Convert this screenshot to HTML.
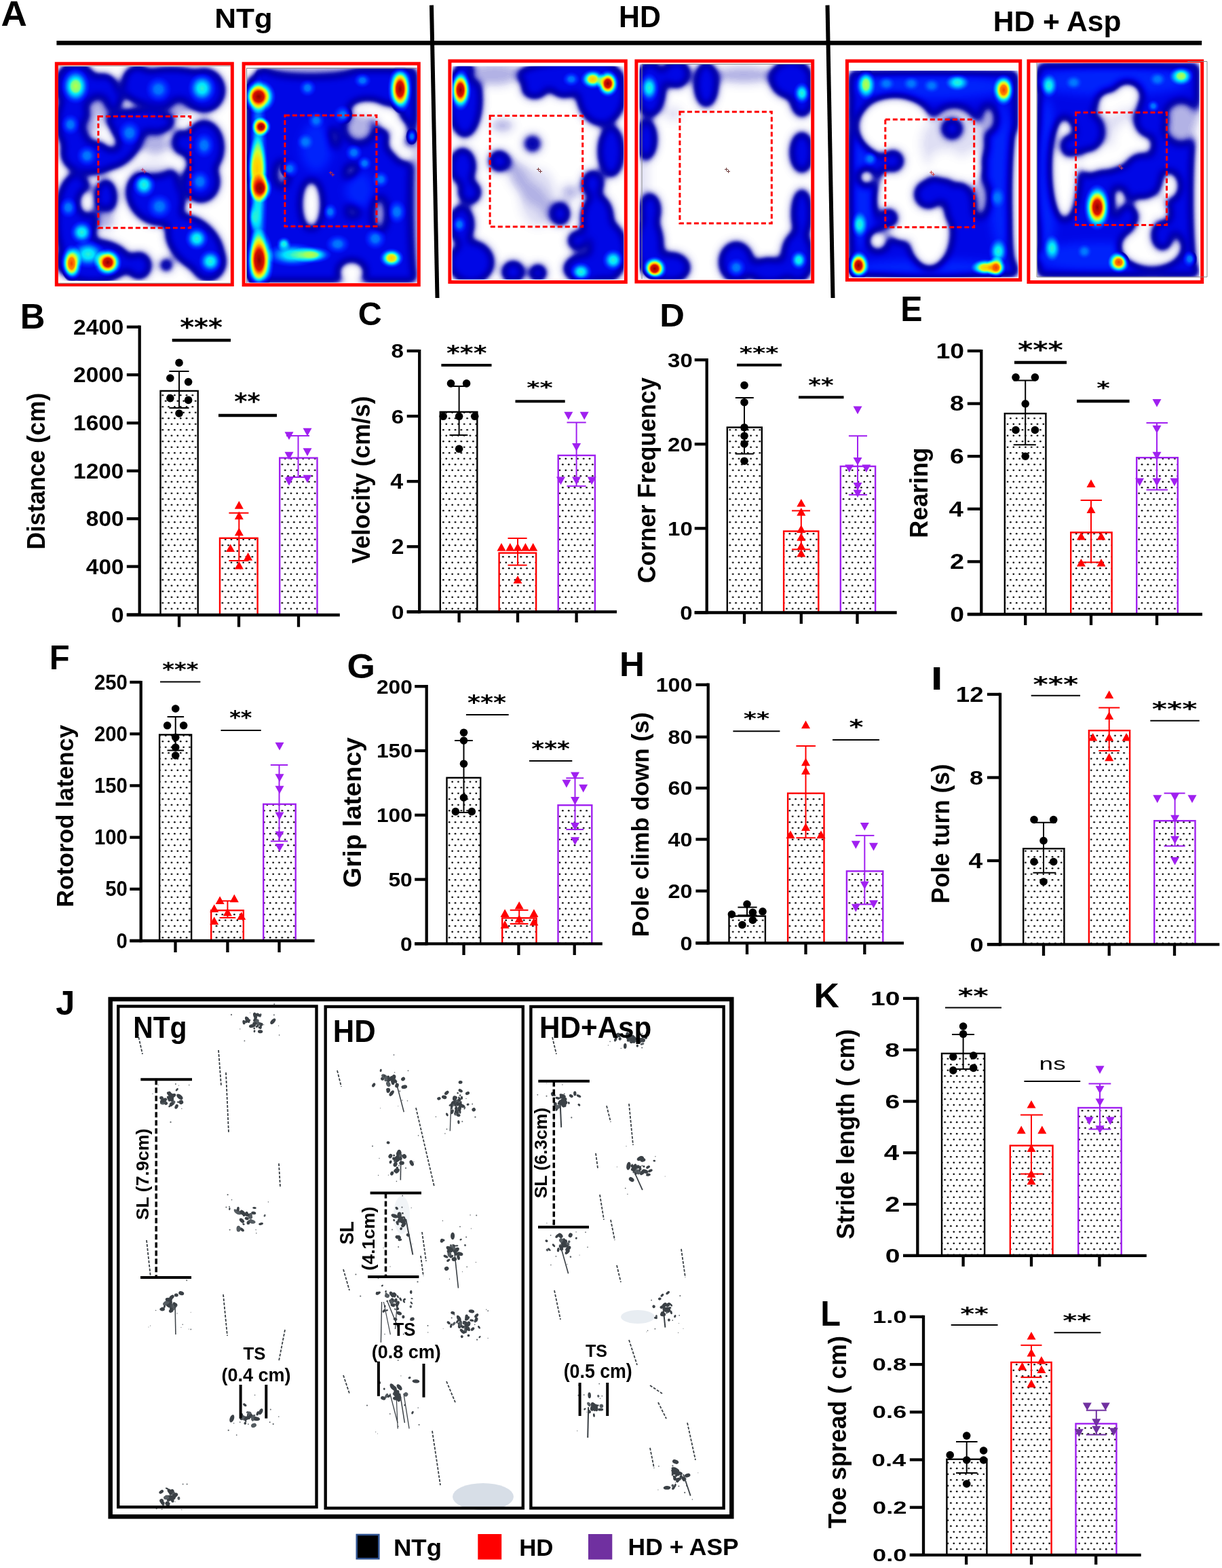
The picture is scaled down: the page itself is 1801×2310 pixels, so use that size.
<!DOCTYPE html><html><head><meta charset="utf-8"><title>Figure</title><style>html,body{margin:0;padding:0;background:#fff;}svg{display:block;}</style></head><body><svg width="1801" height="2310" viewBox="0 0 1801 2310" font-family="Liberation Sans, Arial, sans-serif">
<defs>
<pattern id="dots" patternUnits="userSpaceOnUse" x="0" y="0" width="8.8" height="17"><circle cx="2.2" cy="4.25" r="1.3" fill="#000"/><circle cx="6.6" cy="12.75" r="1.3" fill="#000"/></pattern>
<filter id="hblur" x="-10%" y="-10%" width="120%" height="120%" color-interpolation-filters="sRGB"><feGaussianBlur stdDeviation="6.5"/></filter>
<filter id="hcmap" x="0" y="0" width="100%" height="100%" color-interpolation-filters="sRGB"><feComponentTransfer><feFuncR type="table" tableValues="1.000 0.925 0.784 0.549 0.275 0.078 0.020 0.000 0.000 0.000 0.000 0.000 0.000 0.000 0.000 0.392 0.824 1.000 1.000 0.902 0.569"/><feFuncG type="table" tableValues="1.000 0.925 0.784 0.549 0.275 0.078 0.020 0.000 0.000 0.031 0.098 0.216 0.431 0.667 0.902 1.000 1.000 0.843 0.471 0.098 0.000"/><feFuncB type="table" tableValues="1.000 0.976 0.925 0.855 0.765 0.698 0.686 0.725 0.804 0.910 0.980 1.000 1.000 1.000 1.000 0.608 0.176 0.000 0.000 0.000 0.000"/><feFuncA type="identity"/></feComponentTransfer></filter>
<radialGradient id="hgo"><stop offset="0" stop-color="rgb(237,237,237)" stop-opacity="1"/><stop offset="0.3" stop-color="rgb(237,237,237)" stop-opacity="0.92"/><stop offset="0.55" stop-color="rgb(237,237,237)" stop-opacity="0.6"/><stop offset="0.8" stop-color="rgb(237,237,237)" stop-opacity="0.25"/><stop offset="1" stop-color="rgb(237,237,237)" stop-opacity="0"/></radialGradient>
<radialGradient id="hgq"><stop offset="0" stop-color="rgb(201,201,201)" stop-opacity="1"/><stop offset="0.3" stop-color="rgb(201,201,201)" stop-opacity="0.92"/><stop offset="0.55" stop-color="rgb(201,201,201)" stop-opacity="0.6"/><stop offset="0.8" stop-color="rgb(201,201,201)" stop-opacity="0.25"/><stop offset="1" stop-color="rgb(201,201,201)" stop-opacity="0"/></radialGradient>
<radialGradient id="hgr"><stop offset="0" stop-color="rgb(255,255,255)" stop-opacity="1"/><stop offset="0.3" stop-color="rgb(255,255,255)" stop-opacity="0.92"/><stop offset="0.55" stop-color="rgb(255,255,255)" stop-opacity="0.6"/><stop offset="0.8" stop-color="rgb(255,255,255)" stop-opacity="0.25"/><stop offset="1" stop-color="rgb(255,255,255)" stop-opacity="0"/></radialGradient>
<radialGradient id="hgl"><stop offset="0" stop-color="rgb(156,156,156)" stop-opacity="1"/><stop offset="0.3" stop-color="rgb(156,156,156)" stop-opacity="0.92"/><stop offset="0.55" stop-color="rgb(156,156,156)" stop-opacity="0.6"/><stop offset="0.8" stop-color="rgb(156,156,156)" stop-opacity="0.25"/><stop offset="1" stop-color="rgb(156,156,156)" stop-opacity="0"/></radialGradient>
<radialGradient id="hgc"><stop offset="0" stop-color="rgb(184,184,184)" stop-opacity="1"/><stop offset="0.3" stop-color="rgb(184,184,184)" stop-opacity="0.92"/><stop offset="0.55" stop-color="rgb(184,184,184)" stop-opacity="0.6"/><stop offset="0.8" stop-color="rgb(184,184,184)" stop-opacity="0.25"/><stop offset="1" stop-color="rgb(184,184,184)" stop-opacity="0"/></radialGradient>
<radialGradient id="hgy"><stop offset="0" stop-color="rgb(219,219,219)" stop-opacity="1"/><stop offset="0.3" stop-color="rgb(219,219,219)" stop-opacity="0.92"/><stop offset="0.55" stop-color="rgb(219,219,219)" stop-opacity="0.6"/><stop offset="0.8" stop-color="rgb(219,219,219)" stop-opacity="0.25"/><stop offset="1" stop-color="rgb(219,219,219)" stop-opacity="0"/></radialGradient>
</defs>
<rect width="1801" height="2310" fill="#fff"/>
<clipPath id="hc0"><rect x="85.5" y="98.1" width="256.5" height="315.7"/></clipPath>
<g clip-path="url(#hc0)"><g filter="url(#hcmap)">
<g filter="url(#hblur)">
<rect x="45.5" y="58.1" width="336.5" height="395.7" fill="#000"/>
<ellipse cx="111.5" cy="125.5" rx="30.5" ry="33.6" fill="rgb(114,114,114)"/>
<ellipse cx="106.9" cy="179.0" rx="24.4" ry="42.7" fill="rgb(114,114,114)"/>
<ellipse cx="114.5" cy="224.8" rx="24.4" ry="27.5" fill="rgb(114,114,114)"/>
<ellipse cx="134.4" cy="232.4" rx="39.7" ry="24.4" fill="rgb(114,114,114)"/>
<ellipse cx="251.9" cy="130.1" rx="73.3" ry="30.5" fill="rgb(114,114,114)"/>
<ellipse cx="203.1" cy="121.0" rx="22.9" ry="24.4" fill="rgb(114,114,114)"/>
<ellipse cx="300.8" cy="133.2" rx="30.5" ry="32.1" fill="rgb(114,114,114)"/>
<ellipse cx="164.9" cy="145.4" rx="15.3" ry="18.3" fill="rgb(114,114,114)"/>
<ellipse cx="151.2" cy="130.1" rx="22.9" ry="21.4" fill="rgb(114,114,114)"/>
<ellipse cx="178.7" cy="211.0" rx="44.3" ry="26.0" fill="rgb(114,114,114)" transform="rotate(-50 178.7 211.0)"/>
<ellipse cx="206.1" cy="177.4" rx="50.4" ry="16.8" fill="rgb(114,114,114)"/>
<ellipse cx="229.0" cy="180.5" rx="27.5" ry="15.3" fill="rgb(114,114,114)"/>
<ellipse cx="265.7" cy="209.5" rx="10.7" ry="18.3" fill="rgb(114,114,114)"/>
<ellipse cx="300.8" cy="217.1" rx="29.0" ry="39.7" fill="rgb(114,114,114)"/>
<ellipse cx="296.2" cy="267.5" rx="27.5" ry="30.5" fill="rgb(114,114,114)"/>
<ellipse cx="229.0" cy="290.4" rx="45.8" ry="38.2" fill="rgb(114,114,114)" transform="rotate(40 229.0 290.4)"/>
<ellipse cx="245.8" cy="270.6" rx="18.3" ry="24.4" fill="rgb(114,114,114)"/>
<ellipse cx="111.5" cy="324.0" rx="30.5" ry="68.7" fill="rgb(114,114,114)"/>
<ellipse cx="155.8" cy="290.4" rx="16.0" ry="26.0" fill="rgb(114,114,114)"/>
<ellipse cx="137.4" cy="385.1" rx="55.0" ry="32.1" fill="rgb(114,114,114)"/>
<ellipse cx="204.6" cy="391.2" rx="18.3" ry="19.8" fill="rgb(114,114,114)"/>
<ellipse cx="245.1" cy="390.4" rx="9.2" ry="9.2" fill="rgb(114,114,114)"/>
<ellipse cx="287.1" cy="359.1" rx="50.4" ry="33.6" fill="rgb(114,114,114)" transform="rotate(45 287.1 359.1)"/>
<ellipse cx="306.9" cy="385.1" rx="26.0" ry="29.0" fill="rgb(114,114,114)"/>
<ellipse cx="229.0" cy="212.6" rx="22.9" ry="16.8" fill="rgb(30,30,30)"/>
<ellipse cx="145.1" cy="159.1" rx="13.7" ry="16.8" fill="rgb(30,30,30)"/>
<ellipse cx="264.2" cy="160.6" rx="15.3" ry="13.7" fill="rgb(30,30,30)"/>
<ellipse cx="155.8" cy="324.0" rx="13.7" ry="16.8" fill="rgb(30,30,30)"/>
<ellipse cx="224.5" cy="247.7" rx="27.5" ry="10.7" fill="rgb(17,17,17)"/>
<ellipse cx="157.3" cy="201.9" rx="10.7" ry="21.4" fill="rgb(0,0,0)" transform="rotate(-40 157.3 201.9)"/>
<ellipse cx="134.4" cy="186.6" rx="12.2" ry="13.7" fill="rgb(30,30,30)"/>
<ellipse cx="128.3" cy="298.1" rx="11.5" ry="18.3" fill="rgb(0,0,0)"/>
</g>
<ellipse cx="103.8" cy="183.5" rx="14.0" ry="15.8" fill="url(#hgl)"/>
<ellipse cx="128.3" cy="229.4" rx="15.8" ry="15.8" fill="url(#hgl)"/>
<ellipse cx="190.9" cy="195.8" rx="17.6" ry="19.3" fill="url(#hgl)"/>
<ellipse cx="233.6" cy="131.6" rx="19.3" ry="19.3" fill="url(#hgl)"/>
<ellipse cx="300.8" cy="214.1" rx="15.8" ry="19.3" fill="url(#hgl)"/>
<ellipse cx="294.7" cy="267.5" rx="15.8" ry="17.6" fill="url(#hgl)"/>
<ellipse cx="235.1" cy="304.2" rx="19.3" ry="19.3" fill="url(#hgl)"/>
<ellipse cx="100.8" cy="305.7" rx="14.0" ry="15.8" fill="url(#hgl)"/>
<ellipse cx="297.7" cy="130.1" rx="21.1" ry="22.8" fill="url(#hgc)"/>
<ellipse cx="212.2" cy="272.1" rx="17.6" ry="19.3" fill="url(#hgc)"/>
<ellipse cx="120.6" cy="342.3" rx="17.6" ry="17.6" fill="url(#hgc)"/>
<ellipse cx="290.1" cy="351.5" rx="17.6" ry="17.6" fill="url(#hgc)"/>
<ellipse cx="310.0" cy="385.1" rx="17.6" ry="17.6" fill="url(#hgc)"/>
<ellipse cx="129.8" cy="374.4" rx="26.3" ry="21.1" fill="url(#hgc)"/>
<ellipse cx="111.5" cy="127.1" rx="21.1" ry="26.3" fill="url(#hgq)"/>
<ellipse cx="105.4" cy="388.1" rx="15.8" ry="28.1" fill="url(#hgo)"/>
<ellipse cx="158.8" cy="386.6" rx="21.1" ry="21.1" fill="url(#hgr)"/>
</g></g>
<rect x="83.3" y="93.8" width="259.0" height="325.6" fill="none" stroke="#ff0000" stroke-width="5"/>
<rect x="144.9" y="171.5" width="135.8" height="164.3" fill="none" stroke="#ff0000" stroke-width="3" stroke-dasharray="7,4"/>
<clipPath id="hc1"><rect x="362.9" y="99.5" width="252.1" height="317.1"/></clipPath>
<g clip-path="url(#hc1)"><g filter="url(#hcmap)">
<g filter="url(#hblur)">
<rect x="322.9" y="59.5" width="332.1" height="397.1" fill="#000"/>
<rect x="363.9" y="100.5" width="250.1" height="315.1" fill="rgb(114,114,114)"/>
<ellipse cx="458.1" cy="101.1" rx="65.0" ry="11.1" fill="rgb(30,30,30)"/>
<ellipse cx="366.1" cy="102.7" rx="12.7" ry="12.7" fill="rgb(0,0,0)"/>
<ellipse cx="542.1" cy="161.3" rx="27.0" ry="13.5" fill="rgb(0,0,0)"/>
<ellipse cx="572.2" cy="174.0" rx="19.0" ry="19.0" fill="rgb(0,0,0)" transform="rotate(40 572.2 174.0)"/>
<ellipse cx="586.5" cy="201.0" rx="13.5" ry="25.4" fill="rgb(0,0,0)" transform="rotate(20 586.5 201.0)"/>
<ellipse cx="602.3" cy="226.4" rx="20.6" ry="12.7" fill="rgb(0,0,0)"/>
<ellipse cx="529.4" cy="188.3" rx="22.2" ry="22.2" fill="rgb(30,30,30)"/>
<ellipse cx="489.8" cy="204.2" rx="9.5" ry="14.3" fill="rgb(30,30,30)"/>
<ellipse cx="519.1" cy="256.5" rx="9.5" ry="12.7" fill="rgb(0,0,0)"/>
<ellipse cx="458.9" cy="300.9" rx="14.3" ry="34.9" fill="rgb(0,0,0)"/>
<ellipse cx="524.7" cy="302.5" rx="10.3" ry="19.0" fill="rgb(30,30,30)" transform="rotate(30 524.7 302.5)"/>
<ellipse cx="518.3" cy="400.8" rx="19.0" ry="15.9" fill="rgb(0,0,0)"/>
<ellipse cx="415.3" cy="256.5" rx="9.5" ry="19.0" fill="rgb(30,30,30)"/>
<ellipse cx="559.5" cy="315.1" rx="10.3" ry="25.4" fill="rgb(30,30,30)"/>
<ellipse cx="614.2" cy="296.1" rx="8.7" ry="115.7" fill="rgb(30,30,30)"/>
<ellipse cx="466.0" cy="216.8" rx="23.8" ry="36.5" fill="rgb(132,132,132)"/>
<ellipse cx="529.4" cy="280.3" rx="20.6" ry="28.5" fill="rgb(132,132,132)"/>
</g>
<ellipse cx="453.3" cy="129.6" rx="12.8" ry="12.8" fill="url(#hgl)"/>
<ellipse cx="534.2" cy="118.5" rx="12.8" ry="10.9" fill="url(#hgl)"/>
<ellipse cx="607.1" cy="201.0" rx="9.1" ry="12.8" fill="url(#hgl)"/>
<ellipse cx="521.5" cy="224.8" rx="12.8" ry="12.8" fill="url(#hgl)"/>
<ellipse cx="537.3" cy="240.6" rx="10.9" ry="10.9" fill="url(#hgl)"/>
<ellipse cx="486.6" cy="312.0" rx="10.9" ry="12.8" fill="url(#hgl)"/>
<ellipse cx="466.0" cy="177.2" rx="12.8" ry="12.8" fill="url(#hgl)"/>
<ellipse cx="450.1" cy="208.9" rx="12.8" ry="12.8" fill="url(#hgl)"/>
<ellipse cx="561.1" cy="264.4" rx="12.8" ry="12.8" fill="url(#hgl)"/>
<ellipse cx="497.7" cy="359.5" rx="18.2" ry="14.6" fill="url(#hgl)"/>
<ellipse cx="553.2" cy="351.6" rx="16.4" ry="16.4" fill="url(#hgl)"/>
<ellipse cx="584.9" cy="312.0" rx="14.6" ry="18.2" fill="url(#hgl)"/>
<ellipse cx="426.3" cy="248.6" rx="14.6" ry="14.6" fill="url(#hgl)"/>
<ellipse cx="505.6" cy="169.3" rx="14.6" ry="14.6" fill="url(#hgl)"/>
<ellipse cx="375.6" cy="319.9" rx="10.9" ry="21.9" fill="url(#hgc)"/>
<ellipse cx="418.4" cy="359.5" rx="10.9" ry="10.9" fill="url(#hgc)"/>
<ellipse cx="380.4" cy="264.4" rx="14.6" ry="164.1" fill="url(#hgc)"/>
<ellipse cx="431.1" cy="375.4" rx="40.1" ry="18.2" fill="url(#hgc)"/>
<ellipse cx="458.1" cy="375.4" rx="31.0" ry="12.8" fill="url(#hgq)"/>
<ellipse cx="378.8" cy="248.6" rx="16.4" ry="47.4" fill="url(#hgy)"/>
<ellipse cx="577.0" cy="380.2" rx="18.2" ry="14.6" fill="url(#hgy)"/>
<ellipse cx="381.2" cy="142.3" rx="25.5" ry="25.5" fill="url(#hgr)"/>
<ellipse cx="385.1" cy="186.7" rx="14.6" ry="14.6" fill="url(#hgr)"/>
<ellipse cx="383.5" cy="277.1" rx="18.2" ry="21.9" fill="url(#hgr)"/>
<ellipse cx="382.0" cy="383.3" rx="21.9" ry="47.4" fill="url(#hgr)"/>
<ellipse cx="589.7" cy="131.2" rx="18.2" ry="36.5" fill="url(#hgr)"/>
</g></g>
<rect x="359.1" y="93.8" width="258.2" height="325.9" fill="none" stroke="#ff0000" stroke-width="5"/>
<rect x="419.9" y="170.0" width="135.0" height="163.5" fill="none" stroke="#ff0000" stroke-width="3" stroke-dasharray="7,4"/>
<clipPath id="hc2"><rect x="666.7" y="97.4" width="252.6" height="314.3"/></clipPath>
<g clip-path="url(#hc2)"><g filter="url(#hcmap)">
<g filter="url(#hblur)">
<rect x="626.7" y="57.4" width="332.6" height="394.3" fill="#000"/>
<ellipse cx="729.3" cy="104.0" rx="44.4" ry="15.9" fill="rgb(17,17,17)"/>
<ellipse cx="792.8" cy="291.1" rx="28.5" ry="44.4" fill="rgb(17,17,17)"/>
<ellipse cx="769.0" cy="259.4" rx="20.6" ry="20.6" fill="rgb(17,17,17)"/>
<ellipse cx="685.0" cy="146.8" rx="25.4" ry="55.5" fill="rgb(114,114,114)"/>
<ellipse cx="840.3" cy="112.0" rx="79.3" ry="22.2" fill="rgb(114,114,114)"/>
<ellipse cx="729.3" cy="110.4" rx="36.5" ry="17.4" fill="rgb(30,30,30)"/>
<ellipse cx="769.0" cy="267.3" rx="14.3" ry="44.4" fill="rgb(30,30,30)" transform="rotate(-30 769.0 267.3)"/>
<ellipse cx="800.7" cy="299.0" rx="12.7" ry="36.5" fill="rgb(30,30,30)" transform="rotate(-30 800.7 299.0)"/>
<ellipse cx="788.0" cy="131.0" rx="19.0" ry="14.3" fill="rgb(114,114,114)"/>
<ellipse cx="832.4" cy="127.8" rx="22.2" ry="15.9" fill="rgb(114,114,114)"/>
<ellipse cx="886.3" cy="137.3" rx="36.5" ry="47.6" fill="rgb(114,114,114)"/>
<ellipse cx="900.6" cy="222.9" rx="19.0" ry="38.1" fill="rgb(114,114,114)"/>
<ellipse cx="873.6" cy="270.5" rx="15.9" ry="19.0" fill="rgb(114,114,114)"/>
<ellipse cx="880.0" cy="322.8" rx="23.8" ry="36.5" fill="rgb(114,114,114)"/>
<ellipse cx="895.8" cy="370.4" rx="28.5" ry="44.4" fill="rgb(114,114,114)"/>
<ellipse cx="864.1" cy="395.8" rx="33.3" ry="22.2" fill="rgb(114,114,114)"/>
<ellipse cx="681.8" cy="245.1" rx="19.0" ry="27.0" fill="rgb(114,114,114)"/>
<ellipse cx="692.1" cy="283.2" rx="16.6" ry="17.4" fill="rgb(114,114,114)"/>
<ellipse cx="680.2" cy="330.8" rx="18.2" ry="28.5" fill="rgb(114,114,114)"/>
<ellipse cx="694.5" cy="386.3" rx="33.3" ry="31.7" fill="rgb(114,114,114)"/>
<ellipse cx="756.3" cy="400.5" rx="16.6" ry="15.9" fill="rgb(114,114,114)"/>
<ellipse cx="792.8" cy="402.1" rx="12.7" ry="12.7" fill="rgb(114,114,114)"/>
<ellipse cx="851.4" cy="354.5" rx="14.3" ry="14.3" fill="rgb(114,114,114)"/>
<ellipse cx="735.7" cy="237.2" rx="15.1" ry="15.1" fill="rgb(114,114,114)"/>
<ellipse cx="784.8" cy="211.8" rx="13.5" ry="13.5" fill="rgb(84,84,84)"/>
<ellipse cx="826.1" cy="314.9" rx="13.5" ry="16.6" fill="rgb(114,114,114)"/>
<ellipse cx="740.4" cy="184.9" rx="17.4" ry="11.1" fill="rgb(30,30,30)"/>
<ellipse cx="840.3" cy="283.2" rx="14.3" ry="12.7" fill="rgb(30,30,30)"/>
</g>
<ellipse cx="677.0" cy="330.8" rx="10.9" ry="12.8" fill="url(#hgl)"/>
<ellipse cx="841.9" cy="116.7" rx="12.8" ry="10.9" fill="url(#hgl)"/>
<ellipse cx="903.8" cy="383.1" rx="16.4" ry="16.4" fill="url(#hgc)"/>
<ellipse cx="856.2" cy="400.5" rx="16.4" ry="14.6" fill="url(#hgc)"/>
<ellipse cx="873.6" cy="116.7" rx="18.2" ry="14.6" fill="url(#hgy)"/>
<ellipse cx="678.6" cy="132.6" rx="16.4" ry="31.0" fill="url(#hgr)"/>
<ellipse cx="895.8" cy="123.1" rx="16.4" ry="20.1" fill="url(#hgr)"/>
</g></g>
<rect x="662.9" y="89.9" width="259.4" height="325.6" fill="none" stroke="#ff0000" stroke-width="5"/>
<rect x="722.1" y="170.5" width="136.6" height="163.5" fill="none" stroke="#ff0000" stroke-width="3" stroke-dasharray="7,4"/>
<clipPath id="hc3"><rect x="942.5" y="94.5" width="252.1" height="317.1"/></clipPath>
<g clip-path="url(#hc3)"><g filter="url(#hcmap)">
<g filter="url(#hblur)">
<rect x="902.5" y="54.5" width="332.1" height="397.1" fill="#000"/>
<ellipse cx="1096.3" cy="110.4" rx="49.2" ry="14.3" fill="rgb(30,30,30)"/>
<ellipse cx="947.3" cy="259.4" rx="9.5" ry="147.5" fill="rgb(17,17,17)"/>
<ellipse cx="991.7" cy="167.4" rx="14.3" ry="11.1" fill="rgb(17,17,17)"/>
<ellipse cx="958.4" cy="131.0" rx="22.2" ry="41.2" fill="rgb(114,114,114)"/>
<ellipse cx="996.4" cy="108.8" rx="20.6" ry="20.6" fill="rgb(114,114,114)"/>
<ellipse cx="1040.8" cy="124.6" rx="17.4" ry="33.3" fill="rgb(114,114,114)"/>
<ellipse cx="1166.1" cy="116.7" rx="31.7" ry="28.5" fill="rgb(114,114,114)"/>
<ellipse cx="1181.9" cy="143.7" rx="17.4" ry="28.5" fill="rgb(114,114,114)"/>
<ellipse cx="952.8" cy="205.5" rx="15.1" ry="30.1" fill="rgb(114,114,114)"/>
<ellipse cx="958.4" cy="310.1" rx="15.1" ry="25.4" fill="rgb(114,114,114)"/>
<ellipse cx="956.8" cy="362.5" rx="20.6" ry="44.4" fill="rgb(114,114,114)"/>
<ellipse cx="988.5" cy="394.2" rx="28.5" ry="22.2" fill="rgb(114,114,114)"/>
<ellipse cx="1181.9" cy="224.5" rx="17.4" ry="30.1" fill="rgb(114,114,114)"/>
<ellipse cx="1181.9" cy="314.9" rx="15.1" ry="36.5" fill="rgb(114,114,114)"/>
<ellipse cx="1175.6" cy="378.3" rx="23.8" ry="38.1" fill="rgb(114,114,114)"/>
<ellipse cx="1085.2" cy="386.3" rx="25.4" ry="30.1" fill="rgb(114,114,114)"/>
<ellipse cx="1134.4" cy="398.9" rx="31.7" ry="19.0" fill="rgb(114,114,114)"/>
</g>
<ellipse cx="1085.2" cy="394.2" rx="14.6" ry="14.6" fill="url(#hgl)"/>
<ellipse cx="956.8" cy="129.4" rx="14.6" ry="21.9" fill="url(#hgc)"/>
<ellipse cx="1181.9" cy="137.3" rx="12.8" ry="16.4" fill="url(#hgc)"/>
<ellipse cx="1177.2" cy="383.1" rx="12.8" ry="14.6" fill="url(#hgc)"/>
<ellipse cx="964.7" cy="395.8" rx="18.2" ry="18.2" fill="url(#hgr)"/>
</g></g>
<rect x="937.9" y="89.9" width="259.8" height="325.2" fill="none" stroke="#ff0000" stroke-width="5"/>
<rect x="1001.9" y="164.7" width="135.4" height="164.2" fill="none" stroke="#ff0000" stroke-width="3" stroke-dasharray="7,4"/>
<clipPath id="hc4"><rect x="1250.9" y="104.0" width="249.7" height="304.4"/></clipPath>
<g clip-path="url(#hc4)"><g filter="url(#hcmap)">
<g filter="url(#hblur)">
<rect x="1210.9" y="64.0" width="329.7" height="384.4" fill="#000"/>
<rect x="1251.9" y="105.0" width="247.7" height="302.4" fill="rgb(114,114,114)"/>
<ellipse cx="1369.8" cy="127.8" rx="115.7" ry="19.0" fill="rgb(132,132,132)"/>
<ellipse cx="1271.5" cy="259.4" rx="17.4" ry="107.8" fill="rgb(132,132,132)"/>
<ellipse cx="1474.5" cy="259.4" rx="19.0" ry="107.8" fill="rgb(132,132,132)"/>
<ellipse cx="1369.8" cy="395.8" rx="115.7" ry="14.3" fill="rgb(132,132,132)"/>
<ellipse cx="1319.1" cy="186.5" rx="55.5" ry="44.4" fill="rgb(0,0,0)"/>
<ellipse cx="1369.8" cy="224.5" rx="52.3" ry="36.5" fill="rgb(0,0,0)"/>
<ellipse cx="1331.8" cy="294.3" rx="41.2" ry="61.8" fill="rgb(0,0,0)"/>
<ellipse cx="1369.8" cy="341.9" rx="31.7" ry="52.3" fill="rgb(0,0,0)"/>
<ellipse cx="1404.7" cy="211.8" rx="49.2" ry="49.2" fill="rgb(17,17,17)"/>
<ellipse cx="1425.3" cy="248.3" rx="23.8" ry="30.1" fill="rgb(0,0,0)"/>
<ellipse cx="1293.7" cy="354.5" rx="14.3" ry="14.3" fill="rgb(0,0,0)"/>
<ellipse cx="1277.1" cy="261.0" rx="11.9" ry="11.9" fill="rgb(0,0,0)"/>
<ellipse cx="1406.3" cy="196.0" rx="36.5" ry="39.6" fill="rgb(17,17,17)"/>
<ellipse cx="1422.2" cy="256.2" rx="22.2" ry="25.4" fill="rgb(0,0,0)"/>
<ellipse cx="1444.4" cy="291.1" rx="14.3" ry="28.5" fill="rgb(30,30,30)"/>
<ellipse cx="1457.0" cy="175.4" rx="12.7" ry="20.6" fill="rgb(30,30,30)"/>
<ellipse cx="1497.5" cy="291.1" rx="7.9" ry="99.9" fill="rgb(0,0,0)"/>
<ellipse cx="1393.6" cy="243.6" rx="23.8" ry="20.6" fill="rgb(0,0,0)"/>
<ellipse cx="1403.1" cy="189.6" rx="14.3" ry="14.3" fill="rgb(114,114,114)"/>
<ellipse cx="1315.9" cy="237.2" rx="15.9" ry="15.9" fill="rgb(114,114,114)"/>
<ellipse cx="1368.3" cy="286.4" rx="20.6" ry="20.6" fill="rgb(114,114,114)"/>
<ellipse cx="1414.2" cy="303.8" rx="22.2" ry="34.9" fill="rgb(114,114,114)"/>
<ellipse cx="1309.6" cy="321.2" rx="13.5" ry="13.5" fill="rgb(114,114,114)"/>
</g>
<ellipse cx="1342.9" cy="123.1" rx="12.8" ry="10.9" fill="url(#hgl)"/>
<ellipse cx="1373.0" cy="126.2" rx="12.8" ry="10.9" fill="url(#hgl)"/>
<ellipse cx="1282.6" cy="234.0" rx="10.9" ry="10.9" fill="url(#hgl)"/>
<ellipse cx="1469.7" cy="291.1" rx="12.8" ry="16.4" fill="url(#hgl)"/>
<ellipse cx="1306.4" cy="123.1" rx="12.8" ry="10.9" fill="url(#hgl)"/>
<ellipse cx="1411.1" cy="121.5" rx="18.2" ry="12.8" fill="url(#hgc)"/>
<ellipse cx="1266.8" cy="330.8" rx="12.8" ry="20.1" fill="url(#hgc)"/>
<ellipse cx="1471.3" cy="370.4" rx="14.6" ry="20.1" fill="url(#hgc)"/>
<ellipse cx="1276.3" cy="124.6" rx="14.6" ry="23.7" fill="url(#hgq)"/>
<ellipse cx="1452.3" cy="394.2" rx="21.9" ry="12.8" fill="url(#hgy)"/>
<ellipse cx="1479.2" cy="132.6" rx="16.4" ry="23.7" fill="url(#hgo)"/>
<ellipse cx="1468.1" cy="394.2" rx="14.6" ry="16.4" fill="url(#hgo)"/>
<ellipse cx="1265.2" cy="391.0" rx="16.4" ry="21.9" fill="url(#hgr)"/>
</g></g>
<rect x="1248.4" y="89.9" width="255.3" height="322.4" fill="none" stroke="#ff0000" stroke-width="5"/>
<rect x="1304.8" y="176.1" width="130.9" height="158.7" fill="none" stroke="#ff0000" stroke-width="3" stroke-dasharray="7,4"/>
<clipPath id="hc5"><rect x="1528.4" y="92.9" width="239.4" height="315.5"/></clipPath>
<g clip-path="url(#hc5)"><g filter="url(#hcmap)">
<g filter="url(#hblur)">
<rect x="1488.4" y="52.9" width="319.4" height="395.5" fill="#000"/>
<rect x="1529.4" y="93.9" width="237.4" height="313.5" fill="rgb(114,114,114)"/>
<ellipse cx="1637.8" cy="119.9" rx="115.7" ry="22.2" fill="rgb(132,132,132)"/>
<ellipse cx="1542.7" cy="259.4" rx="17.4" ry="115.7" fill="rgb(132,132,132)"/>
<ellipse cx="1622.0" cy="378.3" rx="99.9" ry="22.2" fill="rgb(132,132,132)"/>
<ellipse cx="1568.9" cy="248.3" rx="20.6" ry="74.5" fill="rgb(0,0,0)"/>
<ellipse cx="1645.8" cy="183.3" rx="36.5" ry="39.6" fill="rgb(0,0,0)"/>
<ellipse cx="1648.9" cy="196.0" rx="49.2" ry="49.2" fill="rgb(17,17,17)"/>
<ellipse cx="1661.6" cy="140.5" rx="20.6" ry="19.0" fill="rgb(0,0,0)"/>
<ellipse cx="1636.3" cy="151.6" rx="19.0" ry="17.4" fill="rgb(0,0,0)"/>
<ellipse cx="1648.9" cy="299.0" rx="11.9" ry="22.2" fill="rgb(0,0,0)"/>
<ellipse cx="1693.3" cy="314.9" rx="30.1" ry="31.7" fill="rgb(0,0,0)"/>
<ellipse cx="1696.5" cy="364.1" rx="46.0" ry="30.1" fill="rgb(0,0,0)"/>
<ellipse cx="1740.9" cy="180.1" rx="27.0" ry="31.7" fill="rgb(30,30,30)"/>
<ellipse cx="1766.3" cy="291.1" rx="8.7" ry="107.8" fill="rgb(0,0,0)"/>
<ellipse cx="1669.6" cy="211.8" rx="28.5" ry="33.3" fill="rgb(0,0,0)"/>
<ellipse cx="1606.1" cy="240.4" rx="17.4" ry="15.9" fill="rgb(0,0,0)"/>
<ellipse cx="1625.2" cy="232.5" rx="31.7" ry="19.0" fill="rgb(0,0,0)"/>
<ellipse cx="1721.9" cy="273.7" rx="15.9" ry="20.6" fill="rgb(0,0,0)"/>
<ellipse cx="1604.5" cy="194.4" rx="22.2" ry="28.5" fill="rgb(114,114,114)"/>
<ellipse cx="1576.0" cy="215.0" rx="12.7" ry="15.9" fill="rgb(114,114,114)"/>
<ellipse cx="1618.8" cy="297.5" rx="23.8" ry="36.5" fill="rgb(114,114,114)"/>
<ellipse cx="1683.8" cy="259.4" rx="30.1" ry="33.3" fill="rgb(114,114,114)"/>
<ellipse cx="1661.6" cy="319.7" rx="15.9" ry="17.4" fill="rgb(114,114,114)"/>
<ellipse cx="1713.2" cy="346.6" rx="15.9" ry="22.2" fill="rgb(114,114,114)"/>
<ellipse cx="1695.7" cy="177.0" rx="23.8" ry="25.4" fill="rgb(114,114,114)"/>
</g>
<ellipse cx="1582.3" cy="121.5" rx="12.8" ry="10.9" fill="url(#hgl)"/>
<ellipse cx="1706.0" cy="116.7" rx="12.8" ry="10.9" fill="url(#hgl)"/>
<ellipse cx="1598.2" cy="370.4" rx="10.9" ry="10.9" fill="url(#hgl)"/>
<ellipse cx="1753.6" cy="381.5" rx="10.9" ry="12.8" fill="url(#hgl)"/>
<ellipse cx="1699.7" cy="156.3" rx="9.1" ry="9.1" fill="url(#hgl)"/>
<ellipse cx="1545.9" cy="126.2" rx="12.8" ry="18.2" fill="url(#hgc)"/>
<ellipse cx="1550.6" cy="365.6" rx="12.8" ry="20.1" fill="url(#hgc)"/>
<ellipse cx="1740.9" cy="112.0" rx="18.2" ry="14.6" fill="url(#hgq)"/>
<ellipse cx="1648.9" cy="386.3" rx="16.4" ry="16.4" fill="url(#hgo)"/>
<ellipse cx="1617.2" cy="305.4" rx="20.1" ry="34.6" fill="url(#hgr)"/>
</g></g>
<rect x="1515.9" y="89.9" width="255.8" height="325.6" fill="none" stroke="#ff0000" stroke-width="5"/>
<rect x="1585.5" y="165.8" width="134.0" height="165.7" fill="none" stroke="#ff0000" stroke-width="3" stroke-dasharray="7,4"/>
<line x1="86" y1="97.1" x2="340" y2="97.1" stroke="#8a8a8a" stroke-width="1"/>
<line x1="86" y1="417.4" x2="340" y2="417.4" stroke="#8a8a8a" stroke-width="1"/>
<line x1="363" y1="100.5" x2="614" y2="100.5" stroke="#8a8a8a" stroke-width="1"/>
<line x1="363.5" y1="100.5" x2="363.5" y2="417" stroke="#8a8a8a" stroke-width="1"/>
<line x1="946" y1="94.5" x2="1195" y2="94.5" stroke="#8a8a8a" stroke-width="1"/>
<line x1="946" y1="94.5" x2="946" y2="411" stroke="#8a8a8a" stroke-width="1"/>
<line x1="1779" y1="90.5" x2="1779" y2="408" stroke="#8a8a8a" stroke-width="1"/>
<line x1="1528" y1="408" x2="1779" y2="408" stroke="#8a8a8a" stroke-width="1"/>
<line x1="1528" y1="92" x2="1528" y2="408" stroke="#8a8a8a" stroke-width="1"/>
<line x1="1750" y1="90.5" x2="1779" y2="90.5" stroke="#8a8a8a" stroke-width="1"/>
<path d="M207.7,250 h5 M210.2,247.5 v5 M210.7,253 h5 M213.2,250.5 v5" stroke="#c03060" stroke-width="1" fill="none"/>
<path d="M485,254.5 h5 M487.5,252.0 v5 M488,257.5 h5 M490.5,255.0 v5" stroke="#c03030" stroke-width="1" fill="none"/>
<path d="M791,249.5 h5 M793.5,247.0 v5 M794,252.5 h5 M796.5,250.0 v5" stroke="#804040" stroke-width="1" fill="none"/>
<path d="M1068,249.5 h5 M1070.5,247.0 v5 M1071,252.5 h5 M1073.5,250.0 v5" stroke="#704040" stroke-width="1" fill="none"/>
<path d="M1370,254 h5 M1372.5,251.5 v5 M1373,257 h5 M1375.5,254.5 v5" stroke="#d04040" stroke-width="1" fill="none"/>
<path d="M1647.5,244.7 h5 M1650.0,242.2 v5 M1650.5,247.7 h5 M1653.0,245.2 v5" stroke="#d05050" stroke-width="1" fill="none"/>
<text transform="translate(1.57,38.20) scale(1.0299,1)" font-size="51.59" font-weight="bold" fill="#000" >A</text>
<text transform="translate(316.13,41.37) scale(1.0721,1)" font-size="41.11" font-weight="bold" fill="#000" >NTg</text>
<text transform="translate(912.11,40.00) scale(0.9693,1)" font-size="44.20" font-weight="bold" fill="#000" >HD</text>
<text transform="translate(1463.73,46.49) scale(1.0028,1)" font-size="42.44" font-weight="bold" fill="#000" >HD + Asp</text>
<line x1="83.4" y1="63.3" x2="1771.2" y2="63.3" stroke="#000" stroke-width="6.6"/>
<line x1="636" y1="7.6" x2="644.5" y2="439" stroke="#000" stroke-width="6"/>
<line x1="1219.5" y1="7.6" x2="1227.5" y2="439" stroke="#000" stroke-width="6"/>
<rect x="236.5" y="575.9" width="55.2" height="330.1" fill="url(#dots)" stroke="#000000" stroke-width="2.4"/>
<rect x="324.0" y="792.8" width="55.6" height="113.2" fill="url(#dots)" stroke="#ff0000" stroke-width="2.4"/>
<rect x="412.2" y="674.6" width="55.3" height="231.4" fill="url(#dots)" stroke="#a020f0" stroke-width="2.4"/>
<line x1="264.0" y1="547.0" x2="264.0" y2="601.0" stroke="#000000" stroke-width="2.0" stroke-linecap="butt"/>
<line x1="249.4" y1="547.0" x2="278.5" y2="547.0" stroke="#000000" stroke-width="2.0" stroke-linecap="butt"/>
<line x1="249.4" y1="601.0" x2="278.5" y2="601.0" stroke="#000000" stroke-width="2.0" stroke-linecap="butt"/>
<line x1="352.3" y1="755.7" x2="352.3" y2="826.0" stroke="#ff0000" stroke-width="2.0" stroke-linecap="butt"/>
<line x1="337.4" y1="755.7" x2="366.4" y2="755.7" stroke="#ff0000" stroke-width="2.0" stroke-linecap="butt"/>
<line x1="337.4" y1="826.0" x2="366.4" y2="826.0" stroke="#ff0000" stroke-width="2.0" stroke-linecap="butt"/>
<line x1="439.5" y1="642.0" x2="439.5" y2="703.0" stroke="#a020f0" stroke-width="2.0" stroke-linecap="butt"/>
<line x1="422.0" y1="642.0" x2="456.0" y2="642.0" stroke="#a020f0" stroke-width="2.0" stroke-linecap="butt"/>
<line x1="422.0" y1="703.0" x2="456.0" y2="703.0" stroke="#a020f0" stroke-width="2.0" stroke-linecap="butt"/>
<circle cx="264.0" cy="534.4" r="5.8" fill="#000000"/>
<circle cx="250.8" cy="557.0" r="5.8" fill="#000000"/>
<circle cx="277.6" cy="562.6" r="5.8" fill="#000000"/>
<circle cx="250.8" cy="586.6" r="5.8" fill="#000000"/>
<circle cx="277.6" cy="589.4" r="5.8" fill="#000000"/>
<circle cx="264.0" cy="609.0" r="5.8" fill="#000000"/>
<path d="M352.3,738.0 L358.8,749.7 L345.8,749.7Z" fill="#ff0000"/>
<path d="M352.3,753.6 L358.8,765.3 L345.8,765.3Z" fill="#ff0000"/>
<path d="M352.3,777.5 L358.8,789.2 L345.8,789.2Z" fill="#ff0000"/>
<path d="M339.6,801.4 L346.1,813.1 L333.1,813.1Z" fill="#ff0000"/>
<path d="M365.6,814.1 L372.1,825.8 L359.1,825.8Z" fill="#ff0000"/>
<path d="M352.3,826.8 L358.8,838.5 L345.8,838.5Z" fill="#ff0000"/>
<path d="M426.0,647.9 L432.5,636.2 L419.5,636.2Z" fill="#a020f0"/>
<path d="M453.0,642.4 L459.5,630.7 L446.5,630.7Z" fill="#a020f0"/>
<path d="M426.0,677.4 L432.5,665.7 L419.5,665.7Z" fill="#a020f0"/>
<path d="M453.0,671.9 L459.5,660.2 L446.5,660.2Z" fill="#a020f0"/>
<path d="M426.0,715.4 L432.5,703.7 L419.5,703.7Z" fill="#a020f0"/>
<path d="M453.0,711.4 L459.5,699.7 L446.5,699.7Z" fill="#a020f0"/>
<line x1="205.7" y1="479.6" x2="205.7" y2="908.1" stroke="#000000" stroke-width="4.3" stroke-linecap="butt"/>
<line x1="186.8" y1="906.0" x2="500.8" y2="906.0" stroke="#000000" stroke-width="4.3" stroke-linecap="butt"/>
<line x1="186.8" y1="481.7" x2="205.7" y2="481.7" stroke="#000000" stroke-width="4.3" stroke-linecap="butt"/>
<line x1="186.8" y1="552.2" x2="205.7" y2="552.2" stroke="#000000" stroke-width="4.3" stroke-linecap="butt"/>
<line x1="186.8" y1="623.2" x2="205.7" y2="623.2" stroke="#000000" stroke-width="4.3" stroke-linecap="butt"/>
<line x1="186.8" y1="693.7" x2="205.7" y2="693.7" stroke="#000000" stroke-width="4.3" stroke-linecap="butt"/>
<line x1="186.8" y1="764.2" x2="205.7" y2="764.2" stroke="#000000" stroke-width="4.3" stroke-linecap="butt"/>
<line x1="186.8" y1="834.6" x2="205.7" y2="834.6" stroke="#000000" stroke-width="4.3" stroke-linecap="butt"/>
<line x1="186.8" y1="905.5" x2="205.7" y2="905.5" stroke="#000000" stroke-width="4.3" stroke-linecap="butt"/>
<line x1="264.0" y1="906.0" x2="264.0" y2="923.7" stroke="#000000" stroke-width="4.3" stroke-linecap="butt"/>
<line x1="352.0" y1="906.0" x2="352.0" y2="923.7" stroke="#000000" stroke-width="4.3" stroke-linecap="butt"/>
<line x1="440.0" y1="906.0" x2="440.0" y2="923.7" stroke="#000000" stroke-width="4.3" stroke-linecap="butt"/>
<text transform="translate(108.10,492.83) scale(1.0359,1)" font-size="32.25" font-weight="bold" fill="#000" >2400</text>
<text transform="translate(108.10,563.33) scale(1.0359,1)" font-size="32.25" font-weight="bold" fill="#000" >2000</text>
<text transform="translate(108.10,634.33) scale(1.0359,1)" font-size="32.25" font-weight="bold" fill="#000" >1600</text>
<text transform="translate(108.10,704.83) scale(1.0359,1)" font-size="32.25" font-weight="bold" fill="#000" >1200</text>
<text transform="translate(126.81,775.33) scale(1.0359,1)" font-size="32.25" font-weight="bold" fill="#000" >800</text>
<text transform="translate(126.81,845.73) scale(1.0359,1)" font-size="32.25" font-weight="bold" fill="#000" >400</text>
<text transform="translate(163.89,916.63) scale(1.0359,1)" font-size="32.25" font-weight="bold" fill="#000" >0</text>
<text transform="translate(265.20,493.69) scale(1.1006,1)" font-size="36.34" font-weight="bold" font-family="DejaVu Sans, sans-serif" fill="#000" >***</text>
<line x1="253.7" y1="501.2" x2="340.0" y2="501.2" stroke="#000000" stroke-width="4.6" stroke-linecap="butt"/>
<text transform="translate(345.26,602.83) scale(1.0974,1)" font-size="33.55" font-weight="bold" font-family="DejaVu Sans, sans-serif" fill="#000" >**</text>
<line x1="322.0" y1="612.0" x2="408.0" y2="612.0" stroke="#000000" stroke-width="4.6" stroke-linecap="butt"/>
<text transform="translate(66.31,809.49) rotate(-90) scale(0.9735,1)" font-size="36.15" font-weight="bold" fill="#000" >Distance (cm)</text>
<text transform="translate(29.70,483.70) scale(0.9962,1)" font-size="51.01" font-weight="bold" fill="#000" >B</text>
<rect x="648.8" y="606.9" width="54.5" height="294.4" fill="url(#dots)" stroke="#000000" stroke-width="2.4"/>
<rect x="735.6" y="814.6" width="54.5" height="86.7" fill="url(#dots)" stroke="#ff0000" stroke-width="2.4"/>
<rect x="822.7" y="670.9" width="54.2" height="230.4" fill="url(#dots)" stroke="#a020f0" stroke-width="2.4"/>
<line x1="676.6" y1="569.0" x2="676.6" y2="641.0" stroke="#000000" stroke-width="2.0" stroke-linecap="butt"/>
<line x1="662.5" y1="569.0" x2="689.3" y2="569.0" stroke="#000000" stroke-width="2.0" stroke-linecap="butt"/>
<line x1="662.5" y1="641.0" x2="689.3" y2="641.0" stroke="#000000" stroke-width="2.0" stroke-linecap="butt"/>
<line x1="763.0" y1="793.0" x2="763.0" y2="832.6" stroke="#ff0000" stroke-width="2.0" stroke-linecap="butt"/>
<line x1="748.5" y1="793.0" x2="776.6" y2="793.0" stroke="#ff0000" stroke-width="2.0" stroke-linecap="butt"/>
<line x1="748.5" y1="832.6" x2="776.6" y2="832.6" stroke="#ff0000" stroke-width="2.0" stroke-linecap="butt"/>
<line x1="849.6" y1="622.4" x2="849.6" y2="716.2" stroke="#a020f0" stroke-width="2.0" stroke-linecap="butt"/>
<line x1="835.5" y1="622.4" x2="863.7" y2="622.4" stroke="#a020f0" stroke-width="2.0" stroke-linecap="butt"/>
<line x1="835.5" y1="716.2" x2="863.7" y2="716.2" stroke="#a020f0" stroke-width="2.0" stroke-linecap="butt"/>
<circle cx="664.5" cy="564.9" r="5.8" fill="#000000"/>
<circle cx="687.6" cy="564.9" r="5.8" fill="#000000"/>
<circle cx="653.2" cy="613.3" r="5.8" fill="#000000"/>
<circle cx="676.6" cy="613.3" r="5.8" fill="#000000"/>
<circle cx="699.7" cy="613.3" r="5.8" fill="#000000"/>
<circle cx="676.6" cy="661.3" r="5.8" fill="#000000"/>
<path d="M739.0,800.0 L745.5,811.7 L732.5,811.7Z" fill="#ff0000"/>
<path d="M751.8,800.0 L758.3,811.7 L745.3,811.7Z" fill="#ff0000"/>
<path d="M763.0,800.0 L769.5,811.7 L756.5,811.7Z" fill="#ff0000"/>
<path d="M774.4,800.0 L780.9,811.7 L767.9,811.7Z" fill="#ff0000"/>
<path d="M785.7,800.0 L792.2,811.7 L779.2,811.7Z" fill="#ff0000"/>
<path d="M763.0,847.9 L769.5,859.6 L756.5,859.6Z" fill="#ff0000"/>
<path d="M837.8,618.4 L844.3,606.7 L831.3,606.7Z" fill="#a020f0"/>
<path d="M861.2,618.4 L867.7,606.7 L854.7,606.7Z" fill="#a020f0"/>
<path d="M849.6,664.8 L856.1,653.1 L843.1,653.1Z" fill="#a020f0"/>
<path d="M826.5,714.2 L833.0,702.5 L820.0,702.5Z" fill="#a020f0"/>
<path d="M849.6,714.2 L856.1,702.5 L843.1,702.5Z" fill="#a020f0"/>
<path d="M872.2,714.2 L878.7,702.5 L865.7,702.5Z" fill="#a020f0"/>
<line x1="618.2" y1="514.9" x2="618.2" y2="903.4" stroke="#000000" stroke-width="4.3" stroke-linecap="butt"/>
<line x1="599.7" y1="901.3" x2="909.0" y2="901.3" stroke="#000000" stroke-width="4.3" stroke-linecap="butt"/>
<line x1="599.7" y1="517.0" x2="618.2" y2="517.0" stroke="#000000" stroke-width="4.3" stroke-linecap="butt"/>
<line x1="599.7" y1="613.1" x2="618.2" y2="613.1" stroke="#000000" stroke-width="4.3" stroke-linecap="butt"/>
<line x1="599.7" y1="709.2" x2="618.2" y2="709.2" stroke="#000000" stroke-width="4.3" stroke-linecap="butt"/>
<line x1="599.7" y1="805.3" x2="618.2" y2="805.3" stroke="#000000" stroke-width="4.3" stroke-linecap="butt"/>
<line x1="599.7" y1="901.3" x2="618.2" y2="901.3" stroke="#000000" stroke-width="4.3" stroke-linecap="butt"/>
<line x1="676.6" y1="901.3" x2="676.6" y2="917.0" stroke="#000000" stroke-width="4.3" stroke-linecap="butt"/>
<line x1="763.0" y1="901.3" x2="763.0" y2="917.0" stroke="#000000" stroke-width="4.3" stroke-linecap="butt"/>
<line x1="849.6" y1="901.3" x2="849.6" y2="917.0" stroke="#000000" stroke-width="4.3" stroke-linecap="butt"/>
<text transform="translate(576.61,527.45) scale(1.0941,1)" font-size="30.28" font-weight="bold" fill="#000" >8</text>
<text transform="translate(576.77,623.55) scale(1.0941,1)" font-size="30.28" font-weight="bold" fill="#000" >6</text>
<text transform="translate(575.25,719.95) scale(1.0941,1)" font-size="31.16" font-weight="bold" fill="#000" >4</text>
<text transform="translate(576.69,816.05) scale(1.0941,1)" font-size="30.71" font-weight="bold" fill="#000" >2</text>
<text transform="translate(576.94,911.75) scale(1.0941,1)" font-size="30.28" font-weight="bold" fill="#000" >0</text>
<text transform="translate(658.04,530.04) scale(1.2499,1)" font-size="30.32" font-weight="bold" font-family="DejaVu Sans, sans-serif" fill="#000" >***</text>
<line x1="650.4" y1="538.0" x2="724.5" y2="538.0" stroke="#000000" stroke-width="4" stroke-linecap="butt"/>
<text transform="translate(776.26,579.30) scale(1.4886,1)" font-size="24.73" font-weight="bold" font-family="DejaVu Sans, sans-serif" fill="#000" >**</text>
<line x1="759.5" y1="591.3" x2="832.7" y2="591.3" stroke="#000000" stroke-width="4" stroke-linecap="butt"/>
<text transform="translate(545.36,830.18) rotate(-90) scale(0.9694,1)" font-size="36.36" font-weight="bold" fill="#000" >Velocity (cm/s)</text>
<text transform="translate(527.86,479.02) scale(1.0168,1)" font-size="47.75" font-weight="bold" fill="#000" >C</text>
<rect x="1071.8" y="629.6" width="51.0" height="272.9" fill="url(#dots)" stroke="#000000" stroke-width="2.4"/>
<rect x="1155.1" y="782.6" width="51.2" height="119.9" fill="url(#dots)" stroke="#ff0000" stroke-width="2.4"/>
<rect x="1238.8" y="687.0" width="51.3" height="215.5" fill="url(#dots)" stroke="#a020f0" stroke-width="2.4"/>
<line x1="1097.0" y1="586.0" x2="1097.0" y2="668.6" stroke="#000000" stroke-width="2.0" stroke-linecap="butt"/>
<line x1="1083.8" y1="586.0" x2="1110.8" y2="586.0" stroke="#000000" stroke-width="2.0" stroke-linecap="butt"/>
<line x1="1083.8" y1="668.6" x2="1110.8" y2="668.6" stroke="#000000" stroke-width="2.0" stroke-linecap="butt"/>
<line x1="1180.8" y1="752.4" x2="1180.8" y2="809.4" stroke="#ff0000" stroke-width="2.0" stroke-linecap="butt"/>
<line x1="1167.0" y1="752.4" x2="1194.0" y2="752.4" stroke="#ff0000" stroke-width="2.0" stroke-linecap="butt"/>
<line x1="1167.0" y1="809.4" x2="1194.0" y2="809.4" stroke="#ff0000" stroke-width="2.0" stroke-linecap="butt"/>
<line x1="1264.0" y1="642.2" x2="1264.0" y2="728.9" stroke="#a020f0" stroke-width="2.0" stroke-linecap="butt"/>
<line x1="1250.9" y1="642.2" x2="1278.0" y2="642.2" stroke="#a020f0" stroke-width="2.0" stroke-linecap="butt"/>
<line x1="1250.9" y1="728.9" x2="1278.0" y2="728.9" stroke="#a020f0" stroke-width="2.0" stroke-linecap="butt"/>
<circle cx="1097.0" cy="567.6" r="5.8" fill="#000000"/>
<circle cx="1097.0" cy="592.7" r="5.8" fill="#000000"/>
<circle cx="1097.0" cy="629.7" r="5.8" fill="#000000"/>
<circle cx="1097.0" cy="642.2" r="5.8" fill="#000000"/>
<circle cx="1097.0" cy="654.0" r="5.8" fill="#000000"/>
<circle cx="1097.0" cy="679.2" r="5.8" fill="#000000"/>
<path d="M1180.8,734.9 L1187.3,746.6 L1174.3,746.6Z" fill="#ff0000"/>
<path d="M1180.8,748.1 L1187.3,759.8 L1174.3,759.8Z" fill="#ff0000"/>
<path d="M1180.8,773.2 L1187.3,784.9 L1174.3,784.9Z" fill="#ff0000"/>
<path d="M1180.8,785.1 L1187.3,796.8 L1174.3,796.8Z" fill="#ff0000"/>
<path d="M1180.8,798.3 L1187.3,810.0 L1174.3,810.0Z" fill="#ff0000"/>
<path d="M1180.8,808.9 L1187.3,820.6 L1174.3,820.6Z" fill="#ff0000"/>
<path d="M1264.0,610.2 L1270.5,598.5 L1257.5,598.5Z" fill="#a020f0"/>
<path d="M1264.0,685.6 L1270.5,673.9 L1257.5,673.9Z" fill="#a020f0"/>
<path d="M1251.7,696.1 L1258.2,684.4 L1245.2,684.4Z" fill="#a020f0"/>
<path d="M1276.8,696.1 L1283.3,684.4 L1270.3,684.4Z" fill="#a020f0"/>
<path d="M1264.0,722.6 L1270.5,710.9 L1257.5,710.9Z" fill="#a020f0"/>
<path d="M1264.0,733.1 L1270.5,721.4 L1257.5,721.4Z" fill="#a020f0"/>
<line x1="1041.7" y1="528.1" x2="1041.7" y2="904.6" stroke="#000000" stroke-width="4.3" stroke-linecap="butt"/>
<line x1="1023.7" y1="902.5" x2="1321.7" y2="902.5" stroke="#000000" stroke-width="4.3" stroke-linecap="butt"/>
<line x1="1023.7" y1="530.2" x2="1041.7" y2="530.2" stroke="#000000" stroke-width="4.3" stroke-linecap="butt"/>
<line x1="1023.7" y1="654.3" x2="1041.7" y2="654.3" stroke="#000000" stroke-width="4.3" stroke-linecap="butt"/>
<line x1="1023.7" y1="778.4" x2="1041.7" y2="778.4" stroke="#000000" stroke-width="4.3" stroke-linecap="butt"/>
<line x1="1023.7" y1="902.5" x2="1041.7" y2="902.5" stroke="#000000" stroke-width="4.3" stroke-linecap="butt"/>
<line x1="1097.0" y1="902.5" x2="1097.0" y2="919.0" stroke="#000000" stroke-width="4.3" stroke-linecap="butt"/>
<line x1="1180.8" y1="902.5" x2="1180.8" y2="919.0" stroke="#000000" stroke-width="4.3" stroke-linecap="butt"/>
<line x1="1263.5" y1="902.5" x2="1263.5" y2="919.0" stroke="#000000" stroke-width="4.3" stroke-linecap="butt"/>
<text transform="translate(984.08,540.50) scale(1.1025,1)" font-size="29.86" font-weight="bold" fill="#000" >30</text>
<text transform="translate(984.08,664.60) scale(1.1025,1)" font-size="29.86" font-weight="bold" fill="#000" >20</text>
<text transform="translate(984.08,788.70) scale(1.1025,1)" font-size="29.86" font-weight="bold" fill="#000" >10</text>
<text transform="translate(1002.35,912.80) scale(1.1025,1)" font-size="29.86" font-weight="bold" fill="#000" >0</text>
<text transform="translate(1089.76,527.64) scale(1.4400,1)" font-size="25.59" font-weight="bold" font-family="DejaVu Sans, sans-serif" fill="#000" >***</text>
<line x1="1086.0" y1="537.8" x2="1152.0" y2="537.8" stroke="#000000" stroke-width="4" stroke-linecap="butt"/>
<text transform="translate(1191.29,577.31) scale(1.2584,1)" font-size="28.39" font-weight="bold" font-family="DejaVu Sans, sans-serif" fill="#000" >**</text>
<line x1="1177.0" y1="585.3" x2="1243.5" y2="585.3" stroke="#000000" stroke-width="4" stroke-linecap="butt"/>
<text transform="translate(966.15,858.91) rotate(-90) scale(0.9422,1)" font-size="37.36" font-weight="bold" fill="#000" >Corner Frequency</text>
<text transform="translate(972.20,481.00) scale(1.0608,1)" font-size="47.83" font-weight="bold" fill="#000" >D</text>
<rect x="1480.8" y="609.2" width="60.6" height="295.8" fill="url(#dots)" stroke="#000000" stroke-width="2.4"/>
<rect x="1578.2" y="784.4" width="60.4" height="120.6" fill="url(#dots)" stroke="#ff0000" stroke-width="2.4"/>
<rect x="1675.2" y="674.2" width="60.6" height="230.8" fill="url(#dots)" stroke="#a020f0" stroke-width="2.4"/>
<line x1="1511.2" y1="560.6" x2="1511.2" y2="655.2" stroke="#000000" stroke-width="2.0" stroke-linecap="butt"/>
<line x1="1493.7" y1="560.6" x2="1526.8" y2="560.6" stroke="#000000" stroke-width="2.0" stroke-linecap="butt"/>
<line x1="1493.7" y1="655.2" x2="1526.8" y2="655.2" stroke="#000000" stroke-width="2.0" stroke-linecap="butt"/>
<line x1="1608.0" y1="737.0" x2="1608.0" y2="828.4" stroke="#ff0000" stroke-width="2.0" stroke-linecap="butt"/>
<line x1="1592.6" y1="737.0" x2="1624.0" y2="737.0" stroke="#ff0000" stroke-width="2.0" stroke-linecap="butt"/>
<line x1="1592.6" y1="828.4" x2="1624.0" y2="828.4" stroke="#ff0000" stroke-width="2.0" stroke-linecap="butt"/>
<line x1="1705.0" y1="623.0" x2="1705.0" y2="721.6" stroke="#a020f0" stroke-width="2.0" stroke-linecap="butt"/>
<line x1="1689.5" y1="623.0" x2="1721.0" y2="623.0" stroke="#a020f0" stroke-width="2.0" stroke-linecap="butt"/>
<line x1="1689.5" y1="721.6" x2="1721.0" y2="721.6" stroke="#a020f0" stroke-width="2.0" stroke-linecap="butt"/>
<circle cx="1497.0" cy="555.8" r="5.8" fill="#000000"/>
<circle cx="1525.4" cy="555.8" r="5.8" fill="#000000"/>
<circle cx="1511.2" cy="594.8" r="5.8" fill="#000000"/>
<circle cx="1497.0" cy="633.5" r="5.8" fill="#000000"/>
<circle cx="1525.4" cy="633.5" r="5.8" fill="#000000"/>
<circle cx="1511.2" cy="672.2" r="5.8" fill="#000000"/>
<path d="M1608.0,706.2 L1614.5,717.9 L1601.5,717.9Z" fill="#ff0000"/>
<path d="M1608.0,744.3 L1614.5,756.0 L1601.5,756.0Z" fill="#ff0000"/>
<path d="M1593.4,783.9 L1599.9,795.6 L1586.9,795.6Z" fill="#ff0000"/>
<path d="M1623.0,783.9 L1629.5,795.6 L1616.5,795.6Z" fill="#ff0000"/>
<path d="M1593.4,822.9 L1599.9,834.6 L1586.9,834.6Z" fill="#ff0000"/>
<path d="M1623.0,822.9 L1629.5,834.6 L1616.5,834.6Z" fill="#ff0000"/>
<path d="M1705.0,599.8 L1711.5,588.1 L1698.5,588.1Z" fill="#a020f0"/>
<path d="M1705.0,638.4 L1711.5,626.7 L1698.5,626.7Z" fill="#a020f0"/>
<path d="M1705.0,677.4 L1711.5,665.7 L1698.5,665.7Z" fill="#a020f0"/>
<path d="M1679.6,716.2 L1686.1,704.5 L1673.1,704.5Z" fill="#a020f0"/>
<path d="M1705.0,716.2 L1711.5,704.5 L1698.5,704.5Z" fill="#a020f0"/>
<path d="M1731.0,716.2 L1737.5,704.5 L1724.5,704.5Z" fill="#a020f0"/>
<line x1="1446.3" y1="514.9" x2="1446.3" y2="907.1" stroke="#000000" stroke-width="4.3" stroke-linecap="butt"/>
<line x1="1425.8" y1="905.0" x2="1772.0" y2="905.0" stroke="#000000" stroke-width="4.3" stroke-linecap="butt"/>
<line x1="1425.8" y1="517.0" x2="1446.3" y2="517.0" stroke="#000000" stroke-width="4.3" stroke-linecap="butt"/>
<line x1="1425.8" y1="594.6" x2="1446.3" y2="594.6" stroke="#000000" stroke-width="4.3" stroke-linecap="butt"/>
<line x1="1425.8" y1="672.2" x2="1446.3" y2="672.2" stroke="#000000" stroke-width="4.3" stroke-linecap="butt"/>
<line x1="1425.8" y1="749.8" x2="1446.3" y2="749.8" stroke="#000000" stroke-width="4.3" stroke-linecap="butt"/>
<line x1="1425.8" y1="827.4" x2="1446.3" y2="827.4" stroke="#000000" stroke-width="4.3" stroke-linecap="butt"/>
<line x1="1425.8" y1="905.0" x2="1446.3" y2="905.0" stroke="#000000" stroke-width="4.3" stroke-linecap="butt"/>
<line x1="1511.2" y1="905.0" x2="1511.2" y2="921.0" stroke="#000000" stroke-width="4.3" stroke-linecap="butt"/>
<line x1="1608.0" y1="905.0" x2="1608.0" y2="921.0" stroke="#000000" stroke-width="4.3" stroke-linecap="butt"/>
<line x1="1705.0" y1="905.0" x2="1705.0" y2="921.0" stroke="#000000" stroke-width="4.3" stroke-linecap="butt"/>
<text transform="translate(1379.56,527.59) scale(1.2157,1)" font-size="30.70" font-weight="bold" fill="#000" >10</text>
<text transform="translate(1399.90,605.19) scale(1.2157,1)" font-size="30.70" font-weight="bold" fill="#000" >8</text>
<text transform="translate(1400.09,682.79) scale(1.2157,1)" font-size="30.70" font-weight="bold" fill="#000" >6</text>
<text transform="translate(1398.38,760.70) scale(1.2157,1)" font-size="31.59" font-weight="bold" fill="#000" >4</text>
<text transform="translate(1400.00,838.30) scale(1.2157,1)" font-size="31.14" font-weight="bold" fill="#000" >2</text>
<text transform="translate(1400.28,915.59) scale(1.2157,1)" font-size="30.70" font-weight="bold" fill="#000" >0</text>
<text transform="translate(1499.95,526.98) scale(1.2624,1)" font-size="33.76" font-weight="bold" font-family="DejaVu Sans, sans-serif" fill="#000" >***</text>
<line x1="1495.0" y1="534.0" x2="1572.0" y2="534.0" stroke="#000000" stroke-width="4.4" stroke-linecap="butt"/>
<text transform="translate(1616.25,581.39) scale(1.3950,1)" font-size="26.88" font-weight="bold" font-family="DejaVu Sans, sans-serif" fill="#000" >*</text>
<line x1="1587.0" y1="591.0" x2="1664.6" y2="591.0" stroke="#000000" stroke-width="4.4" stroke-linecap="butt"/>
<text transform="translate(1367.36,792.63) rotate(-90) scale(0.9851,1)" font-size="36.36" font-weight="bold" fill="#000" >Rearing</text>
<text transform="translate(1327.36,472.60) scale(0.9365,1)" font-size="51.59" font-weight="bold" fill="#000" >E</text>
<rect x="235.1" y="1082.4" width="47.0" height="303.6" fill="url(#dots)" stroke="#000000" stroke-width="2.4"/>
<rect x="311.2" y="1341.2" width="47.6" height="44.8" fill="url(#dots)" stroke="#ff0000" stroke-width="2.4"/>
<rect x="388.2" y="1184.7" width="47.5" height="201.3" fill="url(#dots)" stroke="#a020f0" stroke-width="2.4"/>
<line x1="258.7" y1="1056.0" x2="258.7" y2="1105.5" stroke="#000000" stroke-width="2.0" stroke-linecap="butt"/>
<line x1="246.6" y1="1056.0" x2="271.1" y2="1056.0" stroke="#000000" stroke-width="2.0" stroke-linecap="butt"/>
<line x1="246.6" y1="1105.5" x2="271.1" y2="1105.5" stroke="#000000" stroke-width="2.0" stroke-linecap="butt"/>
<line x1="335.4" y1="1327.3" x2="335.4" y2="1352.0" stroke="#ff0000" stroke-width="2.0" stroke-linecap="butt"/>
<line x1="323.6" y1="1327.3" x2="347.2" y2="1327.3" stroke="#ff0000" stroke-width="2.0" stroke-linecap="butt"/>
<line x1="323.6" y1="1352.0" x2="347.2" y2="1352.0" stroke="#ff0000" stroke-width="2.0" stroke-linecap="butt"/>
<line x1="411.5" y1="1127.0" x2="411.5" y2="1239.3" stroke="#a020f0" stroke-width="2.0" stroke-linecap="butt"/>
<line x1="398.8" y1="1127.0" x2="424.2" y2="1127.0" stroke="#a020f0" stroke-width="2.0" stroke-linecap="butt"/>
<line x1="398.8" y1="1239.3" x2="424.2" y2="1239.3" stroke="#a020f0" stroke-width="2.0" stroke-linecap="butt"/>
<circle cx="258.7" cy="1044.0" r="5.8" fill="#000000"/>
<circle cx="246.6" cy="1068.8" r="5.8" fill="#000000"/>
<circle cx="270.6" cy="1068.8" r="5.8" fill="#000000"/>
<circle cx="258.7" cy="1086.3" r="5.8" fill="#000000"/>
<circle cx="258.7" cy="1101.0" r="5.8" fill="#000000"/>
<circle cx="258.7" cy="1113.0" r="5.8" fill="#000000"/>
<path d="M324.1,1320.3 L330.6,1332.0 L317.6,1332.0Z" fill="#ff0000"/>
<path d="M345.3,1317.5 L351.8,1329.2 L338.8,1329.2Z" fill="#ff0000"/>
<path d="M315.7,1332.2 L322.2,1343.9 L309.2,1343.9Z" fill="#ff0000"/>
<path d="M335.4,1337.8 L341.9,1349.5 L328.9,1349.5Z" fill="#ff0000"/>
<path d="M315.7,1350.5 L322.2,1362.2 L309.2,1362.2Z" fill="#ff0000"/>
<path d="M355.7,1343.4 L362.2,1355.1 L349.2,1355.1Z" fill="#ff0000"/>
<path d="M412.0,1105.4 L418.5,1093.7 L405.5,1093.7Z" fill="#a020f0"/>
<path d="M412.0,1151.9 L418.5,1140.2 L405.5,1140.2Z" fill="#a020f0"/>
<path d="M412.0,1169.4 L418.5,1157.7 L405.5,1157.7Z" fill="#a020f0"/>
<path d="M412.0,1208.2 L418.5,1196.5 L405.5,1196.5Z" fill="#a020f0"/>
<path d="M412.0,1236.4 L418.5,1224.7 L405.5,1224.7Z" fill="#a020f0"/>
<path d="M412.0,1254.8 L418.5,1243.1 L405.5,1243.1Z" fill="#a020f0"/>
<line x1="207.7" y1="1002.9" x2="207.7" y2="1388.2" stroke="#000000" stroke-width="4.3" stroke-linecap="butt"/>
<line x1="191.3" y1="1386.0" x2="463.6" y2="1386.0" stroke="#000000" stroke-width="4.3" stroke-linecap="butt"/>
<line x1="191.3" y1="1005.0" x2="207.7" y2="1005.0" stroke="#000000" stroke-width="4.3" stroke-linecap="butt"/>
<line x1="191.3" y1="1081.2" x2="207.7" y2="1081.2" stroke="#000000" stroke-width="4.3" stroke-linecap="butt"/>
<line x1="191.3" y1="1157.4" x2="207.7" y2="1157.4" stroke="#000000" stroke-width="4.3" stroke-linecap="butt"/>
<line x1="191.3" y1="1233.6" x2="207.7" y2="1233.6" stroke="#000000" stroke-width="4.3" stroke-linecap="butt"/>
<line x1="191.3" y1="1309.8" x2="207.7" y2="1309.8" stroke="#000000" stroke-width="4.3" stroke-linecap="butt"/>
<line x1="191.3" y1="1386.0" x2="207.7" y2="1386.0" stroke="#000000" stroke-width="4.3" stroke-linecap="butt"/>
<line x1="258.5" y1="1386.0" x2="258.5" y2="1403.0" stroke="#000000" stroke-width="4.3" stroke-linecap="butt"/>
<line x1="335.4" y1="1386.0" x2="335.4" y2="1403.0" stroke="#000000" stroke-width="4.3" stroke-linecap="butt"/>
<line x1="411.5" y1="1386.0" x2="411.5" y2="1403.0" stroke="#000000" stroke-width="4.3" stroke-linecap="butt"/>
<text transform="translate(138.97,1015.54) scale(0.9589,1)" font-size="30.56" font-weight="bold" fill="#000" >250</text>
<text transform="translate(138.97,1091.74) scale(0.9589,1)" font-size="30.56" font-weight="bold" fill="#000" >200</text>
<text transform="translate(138.97,1167.94) scale(0.9589,1)" font-size="30.56" font-weight="bold" fill="#000" >150</text>
<text transform="translate(138.97,1244.14) scale(0.9589,1)" font-size="30.56" font-weight="bold" fill="#000" >100</text>
<text transform="translate(155.24,1320.34) scale(0.9589,1)" font-size="30.56" font-weight="bold" fill="#000" >50</text>
<text transform="translate(171.51,1396.54) scale(0.9589,1)" font-size="30.56" font-weight="bold" fill="#000" >0</text>
<text transform="translate(239.32,996.48) scale(1.1677,1)" font-size="29.03" font-weight="bold" font-family="DejaVu Sans, sans-serif" fill="#000" >***</text>
<line x1="236.0" y1="1004.6" x2="295.4" y2="1004.6" stroke="#000000" stroke-width="2" stroke-linecap="butt"/>
<text transform="translate(338.17,1067.48) scale(1.0899,1)" font-size="29.03" font-weight="bold" font-family="DejaVu Sans, sans-serif" fill="#000" >**</text>
<line x1="325.5" y1="1075.9" x2="384.7" y2="1075.9" stroke="#000000" stroke-width="2" stroke-linecap="butt"/>
<text transform="translate(107.59,1336.60) rotate(-90) scale(1.0007,1)" font-size="35.29" font-weight="bold" fill="#000" >Rotorod latency</text>
<text transform="translate(72.81,986.20) scale(0.9776,1)" font-size="50.14" font-weight="bold" fill="#000" >F</text>
<rect x="658.5" y="1145.8" width="49.7" height="244.6" fill="url(#dots)" stroke="#000000" stroke-width="2.4"/>
<rect x="740.2" y="1352.4" width="50.3" height="38.0" fill="url(#dots)" stroke="#ff0000" stroke-width="2.4"/>
<rect x="822.5" y="1186.2" width="49.8" height="204.2" fill="url(#dots)" stroke="#a020f0" stroke-width="2.4"/>
<line x1="683.5" y1="1091.0" x2="683.5" y2="1197.0" stroke="#000000" stroke-width="2.0" stroke-linecap="butt"/>
<line x1="670.0" y1="1091.0" x2="696.8" y2="1091.0" stroke="#000000" stroke-width="2.0" stroke-linecap="butt"/>
<line x1="670.0" y1="1197.0" x2="696.8" y2="1197.0" stroke="#000000" stroke-width="2.0" stroke-linecap="butt"/>
<line x1="765.2" y1="1340.8" x2="765.2" y2="1361.0" stroke="#ff0000" stroke-width="2.0" stroke-linecap="butt"/>
<line x1="751.7" y1="1340.8" x2="778.5" y2="1340.8" stroke="#ff0000" stroke-width="2.0" stroke-linecap="butt"/>
<line x1="751.7" y1="1361.0" x2="778.5" y2="1361.0" stroke="#ff0000" stroke-width="2.0" stroke-linecap="butt"/>
<line x1="847.5" y1="1146.3" x2="847.5" y2="1222.0" stroke="#a020f0" stroke-width="2.0" stroke-linecap="butt"/>
<line x1="834.3" y1="1146.3" x2="860.2" y2="1146.3" stroke="#a020f0" stroke-width="2.0" stroke-linecap="butt"/>
<line x1="834.3" y1="1222.0" x2="860.2" y2="1222.0" stroke="#a020f0" stroke-width="2.0" stroke-linecap="butt"/>
<circle cx="683.5" cy="1079.2" r="5.8" fill="#000000"/>
<circle cx="683.5" cy="1091.0" r="5.8" fill="#000000"/>
<circle cx="683.5" cy="1125.2" r="5.8" fill="#000000"/>
<circle cx="683.5" cy="1175.0" r="5.8" fill="#000000"/>
<circle cx="671.4" cy="1195.6" r="5.8" fill="#000000"/>
<circle cx="695.3" cy="1195.6" r="5.8" fill="#000000"/>
<path d="M765.2,1327.9 L771.7,1339.6 L758.7,1339.6Z" fill="#ff0000"/>
<path d="M744.1,1339.2 L750.6,1350.9 L737.6,1350.9Z" fill="#ff0000"/>
<path d="M786.9,1339.2 L793.4,1350.9 L780.4,1350.9Z" fill="#ff0000"/>
<path d="M765.2,1347.6 L771.7,1359.3 L758.7,1359.3Z" fill="#ff0000"/>
<path d="M744.1,1356.1 L750.6,1367.8 L737.6,1367.8Z" fill="#ff0000"/>
<path d="M786.9,1351.9 L793.4,1363.6 L780.4,1363.6Z" fill="#ff0000"/>
<path d="M847.5,1149.1 L854.0,1137.4 L841.0,1137.4Z" fill="#a020f0"/>
<path d="M834.9,1160.4 L841.4,1148.7 L828.4,1148.7Z" fill="#a020f0"/>
<path d="M859.7,1167.4 L866.2,1155.7 L853.2,1155.7Z" fill="#a020f0"/>
<path d="M847.5,1185.7 L854.0,1174.0 L841.0,1174.0Z" fill="#a020f0"/>
<path d="M847.5,1223.7 L854.0,1212.0 L841.0,1212.0Z" fill="#a020f0"/>
<path d="M847.5,1244.9 L854.0,1233.2 L841.0,1233.2Z" fill="#a020f0"/>
<line x1="628.7" y1="1009.1" x2="628.7" y2="1392.6" stroke="#000000" stroke-width="4.3" stroke-linecap="butt"/>
<line x1="611.2" y1="1390.4" x2="887.8" y2="1390.4" stroke="#000000" stroke-width="4.3" stroke-linecap="butt"/>
<line x1="611.2" y1="1011.2" x2="628.7" y2="1011.2" stroke="#000000" stroke-width="4.3" stroke-linecap="butt"/>
<line x1="611.2" y1="1106.0" x2="628.7" y2="1106.0" stroke="#000000" stroke-width="4.3" stroke-linecap="butt"/>
<line x1="611.2" y1="1200.8" x2="628.7" y2="1200.8" stroke="#000000" stroke-width="4.3" stroke-linecap="butt"/>
<line x1="611.2" y1="1295.6" x2="628.7" y2="1295.6" stroke="#000000" stroke-width="4.3" stroke-linecap="butt"/>
<line x1="611.2" y1="1390.4" x2="628.7" y2="1390.4" stroke="#000000" stroke-width="4.3" stroke-linecap="butt"/>
<line x1="683.5" y1="1390.4" x2="683.5" y2="1407.0" stroke="#000000" stroke-width="4.3" stroke-linecap="butt"/>
<line x1="764.4" y1="1390.4" x2="764.4" y2="1407.0" stroke="#000000" stroke-width="4.3" stroke-linecap="butt"/>
<line x1="846.7" y1="1390.4" x2="846.7" y2="1407.0" stroke="#000000" stroke-width="4.3" stroke-linecap="butt"/>
<text transform="translate(554.89,1021.65) scale(1.0468,1)" font-size="30.28" font-weight="bold" fill="#000" >200</text>
<text transform="translate(554.89,1116.45) scale(1.0468,1)" font-size="30.28" font-weight="bold" fill="#000" >150</text>
<text transform="translate(554.89,1211.25) scale(1.0468,1)" font-size="30.28" font-weight="bold" fill="#000" >100</text>
<text transform="translate(572.48,1306.05) scale(1.0468,1)" font-size="30.28" font-weight="bold" fill="#000" >50</text>
<text transform="translate(590.08,1400.85) scale(1.0468,1)" font-size="30.28" font-weight="bold" fill="#000" >0</text>
<text transform="translate(688.97,1045.34) scale(1.2002,1)" font-size="30.32" font-weight="bold" font-family="DejaVu Sans, sans-serif" fill="#000" >***</text>
<line x1="686.9" y1="1053.0" x2="749.7" y2="1053.0" stroke="#000000" stroke-width="2" stroke-linecap="butt"/>
<text transform="translate(783.28,1112.94) scale(1.1894,1)" font-size="30.32" font-weight="bold" font-family="DejaVu Sans, sans-serif" fill="#000" >***</text>
<line x1="780.0" y1="1121.0" x2="843.3" y2="1121.0" stroke="#000000" stroke-width="2" stroke-linecap="butt"/>
<text transform="translate(532.36,1307.63) rotate(-90) scale(1.0540,1)" font-size="36.36" font-weight="bold" fill="#000" >Grip latency</text>
<text transform="translate(511.47,998.50) scale(1.0727,1)" font-size="49.72" font-weight="bold" fill="#000" >G</text>
<rect x="1074.5" y="1349.6" width="53.4" height="39.7" fill="url(#dots)" stroke="#000000" stroke-width="2.4"/>
<rect x="1161.1" y="1168.7" width="53.4" height="220.6" fill="url(#dots)" stroke="#ff0000" stroke-width="2.4"/>
<rect x="1247.9" y="1283.4" width="53.4" height="105.9" fill="url(#dots)" stroke="#a020f0" stroke-width="2.4"/>
<line x1="1101.0" y1="1336.6" x2="1101.0" y2="1348.4" stroke="#000000" stroke-width="2.0" stroke-linecap="butt"/>
<line x1="1087.4" y1="1336.6" x2="1115.6" y2="1336.6" stroke="#000000" stroke-width="2.0" stroke-linecap="butt"/>
<line x1="1087.4" y1="1348.4" x2="1115.6" y2="1348.4" stroke="#000000" stroke-width="2.0" stroke-linecap="butt"/>
<line x1="1187.5" y1="1099.0" x2="1187.5" y2="1234.3" stroke="#ff0000" stroke-width="2.0" stroke-linecap="butt"/>
<line x1="1173.4" y1="1099.0" x2="1202.0" y2="1099.0" stroke="#ff0000" stroke-width="2.0" stroke-linecap="butt"/>
<line x1="1173.4" y1="1234.3" x2="1202.0" y2="1234.3" stroke="#ff0000" stroke-width="2.0" stroke-linecap="butt"/>
<line x1="1274.3" y1="1230.9" x2="1274.3" y2="1332.3" stroke="#a020f0" stroke-width="2.0" stroke-linecap="butt"/>
<line x1="1260.8" y1="1230.9" x2="1288.4" y2="1230.9" stroke="#a020f0" stroke-width="2.0" stroke-linecap="butt"/>
<line x1="1260.8" y1="1332.3" x2="1288.4" y2="1332.3" stroke="#a020f0" stroke-width="2.0" stroke-linecap="butt"/>
<circle cx="1101.0" cy="1332.0" r="5.8" fill="#000000"/>
<circle cx="1078.4" cy="1347.0" r="5.8" fill="#000000"/>
<circle cx="1109.4" cy="1344.2" r="5.8" fill="#000000"/>
<circle cx="1124.0" cy="1342.8" r="5.8" fill="#000000"/>
<circle cx="1109.4" cy="1355.5" r="5.8" fill="#000000"/>
<circle cx="1093.9" cy="1362.5" r="5.8" fill="#000000"/>
<path d="M1187.5,1061.6 L1194.0,1073.3 L1181.0,1073.3Z" fill="#ff0000"/>
<path d="M1187.5,1116.6 L1194.0,1128.3 L1181.0,1128.3Z" fill="#ff0000"/>
<path d="M1187.5,1129.2 L1194.0,1140.9 L1181.0,1140.9Z" fill="#ff0000"/>
<path d="M1187.5,1212.4 L1194.0,1224.1 L1181.0,1224.1Z" fill="#ff0000"/>
<path d="M1165.0,1223.6 L1171.5,1235.3 L1158.5,1235.3Z" fill="#ff0000"/>
<path d="M1210.0,1223.6 L1216.5,1235.3 L1203.5,1235.3Z" fill="#ff0000"/>
<path d="M1274.3,1223.7 L1280.8,1212.0 L1267.8,1212.0Z" fill="#a020f0"/>
<path d="M1261.3,1250.4 L1267.8,1238.7 L1254.8,1238.7Z" fill="#a020f0"/>
<path d="M1287.5,1253.4 L1294.0,1241.7 L1281.0,1241.7Z" fill="#a020f0"/>
<path d="M1274.3,1310.3 L1280.8,1298.6 L1267.8,1298.6Z" fill="#a020f0"/>
<path d="M1261.3,1343.4 L1267.8,1331.7 L1254.8,1331.7Z" fill="#a020f0"/>
<path d="M1287.5,1337.9 L1294.0,1326.2 L1281.0,1326.2Z" fill="#a020f0"/>
<line x1="1043.7" y1="1006.6" x2="1043.7" y2="1391.5" stroke="#000000" stroke-width="4.3" stroke-linecap="butt"/>
<line x1="1025.4" y1="1389.3" x2="1332.0" y2="1389.3" stroke="#000000" stroke-width="4.3" stroke-linecap="butt"/>
<line x1="1025.4" y1="1008.8" x2="1043.7" y2="1008.8" stroke="#000000" stroke-width="4.3" stroke-linecap="butt"/>
<line x1="1025.4" y1="1085.7" x2="1043.7" y2="1085.7" stroke="#000000" stroke-width="4.3" stroke-linecap="butt"/>
<line x1="1025.4" y1="1161.0" x2="1043.7" y2="1161.0" stroke="#000000" stroke-width="4.3" stroke-linecap="butt"/>
<line x1="1025.4" y1="1236.5" x2="1043.7" y2="1236.5" stroke="#000000" stroke-width="4.3" stroke-linecap="butt"/>
<line x1="1025.4" y1="1312.6" x2="1043.7" y2="1312.6" stroke="#000000" stroke-width="4.3" stroke-linecap="butt"/>
<line x1="1025.4" y1="1389.3" x2="1043.7" y2="1389.3" stroke="#000000" stroke-width="4.3" stroke-linecap="butt"/>
<line x1="1101.0" y1="1389.3" x2="1101.0" y2="1406.0" stroke="#000000" stroke-width="4.3" stroke-linecap="butt"/>
<line x1="1187.5" y1="1389.3" x2="1187.5" y2="1406.0" stroke="#000000" stroke-width="4.3" stroke-linecap="butt"/>
<line x1="1274.3" y1="1389.3" x2="1274.3" y2="1406.0" stroke="#000000" stroke-width="4.3" stroke-linecap="butt"/>
<text transform="translate(966.67,1019.25) scale(1.0635,1)" font-size="30.28" font-weight="bold" fill="#000" >100</text>
<text transform="translate(984.54,1096.15) scale(1.0635,1)" font-size="30.28" font-weight="bold" fill="#000" >80</text>
<text transform="translate(984.54,1171.45) scale(1.0635,1)" font-size="30.28" font-weight="bold" fill="#000" >60</text>
<text transform="translate(984.54,1246.95) scale(1.0635,1)" font-size="30.28" font-weight="bold" fill="#000" >40</text>
<text transform="translate(984.54,1323.05) scale(1.0635,1)" font-size="30.28" font-weight="bold" fill="#000" >20</text>
<text transform="translate(1002.41,1399.75) scale(1.0635,1)" font-size="30.28" font-weight="bold" fill="#000" >0</text>
<text transform="translate(1095.66,1068.22) scale(1.4032,1)" font-size="26.24" font-weight="bold" font-family="DejaVu Sans, sans-serif" fill="#000" >**</text>
<line x1="1080.4" y1="1077.3" x2="1149.4" y2="1077.3" stroke="#000000" stroke-width="2" stroke-linecap="butt"/>
<text transform="translate(1251.50,1080.60) scale(1.3099,1)" font-size="30.54" font-weight="bold" font-family="DejaVu Sans, sans-serif" fill="#000" >*</text>
<line x1="1227.0" y1="1090.0" x2="1296.0" y2="1090.0" stroke="#000000" stroke-width="2" stroke-linecap="butt"/>
<text transform="translate(955.59,1380.29) rotate(-90) scale(0.9989,1)" font-size="35.29" font-weight="bold" fill="#000" >Pole climb down (s)</text>
<text transform="translate(912.97,996.00) scale(1.0297,1)" font-size="49.71" font-weight="bold" fill="#000" >H</text>
<rect x="1508.2" y="1250.2" width="60.2" height="141.1" fill="url(#dots)" stroke="#000000" stroke-width="2.4"/>
<rect x="1604.9" y="1076.2" width="60.2" height="315.1" fill="url(#dots)" stroke="#ff0000" stroke-width="2.4"/>
<rect x="1701.2" y="1209.2" width="60.3" height="182.1" fill="url(#dots)" stroke="#a020f0" stroke-width="2.4"/>
<line x1="1538.0" y1="1211.7" x2="1538.0" y2="1285.8" stroke="#000000" stroke-width="2.0" stroke-linecap="butt"/>
<line x1="1522.5" y1="1211.7" x2="1556.3" y2="1211.7" stroke="#000000" stroke-width="2.0" stroke-linecap="butt"/>
<line x1="1522.5" y1="1285.8" x2="1556.3" y2="1285.8" stroke="#000000" stroke-width="2.0" stroke-linecap="butt"/>
<line x1="1634.7" y1="1042.6" x2="1634.7" y2="1106.0" stroke="#ff0000" stroke-width="2.0" stroke-linecap="butt"/>
<line x1="1619.2" y1="1042.6" x2="1650.2" y2="1042.6" stroke="#ff0000" stroke-width="2.0" stroke-linecap="butt"/>
<line x1="1619.2" y1="1106.0" x2="1650.2" y2="1106.0" stroke="#ff0000" stroke-width="2.0" stroke-linecap="butt"/>
<line x1="1731.6" y1="1168.6" x2="1731.6" y2="1246.4" stroke="#a020f0" stroke-width="2.0" stroke-linecap="butt"/>
<line x1="1715.6" y1="1168.6" x2="1746.6" y2="1168.6" stroke="#a020f0" stroke-width="2.0" stroke-linecap="butt"/>
<line x1="1715.6" y1="1246.4" x2="1746.6" y2="1246.4" stroke="#a020f0" stroke-width="2.0" stroke-linecap="butt"/>
<circle cx="1524.0" cy="1207.5" r="5.8" fill="#000000"/>
<circle cx="1552.7" cy="1207.5" r="5.8" fill="#000000"/>
<circle cx="1538.0" cy="1238.5" r="5.8" fill="#000000"/>
<circle cx="1524.0" cy="1269.5" r="5.8" fill="#000000"/>
<circle cx="1552.7" cy="1269.5" r="5.8" fill="#000000"/>
<circle cx="1538.0" cy="1299.0" r="5.8" fill="#000000"/>
<path d="M1634.7,1017.3 L1641.2,1029.0 L1628.2,1029.0Z" fill="#ff0000"/>
<path d="M1634.7,1048.3 L1641.2,1060.0 L1628.2,1060.0Z" fill="#ff0000"/>
<path d="M1610.7,1079.9 L1617.2,1091.6 L1604.2,1091.6Z" fill="#ff0000"/>
<path d="M1634.7,1079.9 L1641.2,1091.6 L1628.2,1091.6Z" fill="#ff0000"/>
<path d="M1660.0,1079.9 L1666.5,1091.6 L1653.5,1091.6Z" fill="#ff0000"/>
<path d="M1634.7,1109.5 L1641.2,1121.2 L1628.2,1121.2Z" fill="#ff0000"/>
<path d="M1705.7,1182.9 L1712.2,1171.2 L1699.2,1171.2Z" fill="#a020f0"/>
<path d="M1731.6,1180.1 L1738.1,1168.4 L1725.1,1168.4Z" fill="#a020f0"/>
<path d="M1757.0,1182.9 L1763.5,1171.2 L1750.5,1171.2Z" fill="#a020f0"/>
<path d="M1731.6,1212.4 L1738.1,1200.7 L1725.1,1200.7Z" fill="#a020f0"/>
<path d="M1731.6,1243.4 L1738.1,1231.7 L1725.1,1231.7Z" fill="#a020f0"/>
<path d="M1731.6,1274.4 L1738.1,1262.7 L1725.1,1262.7Z" fill="#a020f0"/>
<line x1="1474.0" y1="1020.8" x2="1474.0" y2="1393.5" stroke="#000000" stroke-width="4.3" stroke-linecap="butt"/>
<line x1="1454.9" y1="1391.3" x2="1797.3" y2="1391.3" stroke="#000000" stroke-width="4.3" stroke-linecap="butt"/>
<line x1="1454.9" y1="1022.9" x2="1474.0" y2="1022.9" stroke="#000000" stroke-width="4.3" stroke-linecap="butt"/>
<line x1="1454.9" y1="1145.5" x2="1474.0" y2="1145.5" stroke="#000000" stroke-width="4.3" stroke-linecap="butt"/>
<line x1="1454.9" y1="1268.0" x2="1474.0" y2="1268.0" stroke="#000000" stroke-width="4.3" stroke-linecap="butt"/>
<line x1="1454.9" y1="1391.3" x2="1474.0" y2="1391.3" stroke="#000000" stroke-width="4.3" stroke-linecap="butt"/>
<line x1="1538.0" y1="1391.3" x2="1538.0" y2="1408.0" stroke="#000000" stroke-width="4.3" stroke-linecap="butt"/>
<line x1="1634.7" y1="1391.3" x2="1634.7" y2="1408.0" stroke="#000000" stroke-width="4.3" stroke-linecap="butt"/>
<line x1="1731.0" y1="1391.3" x2="1731.0" y2="1408.0" stroke="#000000" stroke-width="4.3" stroke-linecap="butt"/>
<text transform="translate(1408.80,1033.65) scale(1.1927,1)" font-size="30.71" font-weight="bold" fill="#000" >12</text>
<text transform="translate(1429.04,1155.95) scale(1.1927,1)" font-size="30.28" font-weight="bold" fill="#000" >8</text>
<text transform="translate(1427.56,1278.75) scale(1.1927,1)" font-size="31.16" font-weight="bold" fill="#000" >4</text>
<text transform="translate(1429.40,1401.75) scale(1.1927,1)" font-size="30.28" font-weight="bold" fill="#000" >0</text>
<text transform="translate(1522.55,1017.94) scale(1.4013,1)" font-size="30.32" font-weight="bold" font-family="DejaVu Sans, sans-serif" fill="#000" >***</text>
<line x1="1519.7" y1="1024.8" x2="1592.0" y2="1024.8" stroke="#000000" stroke-width="2" stroke-linecap="butt"/>
<text transform="translate(1697.85,1053.87) scale(1.4856,1)" font-size="28.60" font-weight="bold" font-family="DejaVu Sans, sans-serif" fill="#000" >***</text>
<line x1="1695.3" y1="1061.8" x2="1767.7" y2="1061.8" stroke="#000000" stroke-width="2" stroke-linecap="butt"/>
<text transform="translate(1399.36,1330.99) rotate(-90) scale(0.9697,1)" font-size="36.36" font-weight="bold" fill="#000" >Pole turn (s)</text>
<text transform="translate(1371.83,1015.80) scale(1.3093,1)" font-size="48.99" font-weight="bold" fill="#000" >I</text>
<rect x="1388.0" y="1552.0" width="63.1" height="297.9" fill="url(#dots)" stroke="#000000" stroke-width="2.4"/>
<rect x="1488.8" y="1687.7" width="62.7" height="162.2" fill="url(#dots)" stroke="#ff0000" stroke-width="2.4"/>
<rect x="1589.2" y="1632.0" width="63.5" height="217.9" fill="url(#dots)" stroke="#a020f0" stroke-width="2.4"/>
<line x1="1419.6" y1="1524.0" x2="1419.6" y2="1575.0" stroke="#000000" stroke-width="2.0" stroke-linecap="butt"/>
<line x1="1403.0" y1="1524.0" x2="1436.0" y2="1524.0" stroke="#000000" stroke-width="2.0" stroke-linecap="butt"/>
<line x1="1403.0" y1="1575.0" x2="1436.0" y2="1575.0" stroke="#000000" stroke-width="2.0" stroke-linecap="butt"/>
<line x1="1520.0" y1="1642.4" x2="1520.0" y2="1729.5" stroke="#ff0000" stroke-width="2.0" stroke-linecap="butt"/>
<line x1="1504.0" y1="1642.4" x2="1536.9" y2="1642.4" stroke="#ff0000" stroke-width="2.0" stroke-linecap="butt"/>
<line x1="1504.0" y1="1729.5" x2="1536.9" y2="1729.5" stroke="#ff0000" stroke-width="2.0" stroke-linecap="butt"/>
<line x1="1621.0" y1="1596.6" x2="1621.0" y2="1663.6" stroke="#a020f0" stroke-width="2.0" stroke-linecap="butt"/>
<line x1="1604.5" y1="1596.6" x2="1637.3" y2="1596.6" stroke="#a020f0" stroke-width="2.0" stroke-linecap="butt"/>
<line x1="1604.5" y1="1663.6" x2="1637.3" y2="1663.6" stroke="#a020f0" stroke-width="2.0" stroke-linecap="butt"/>
<circle cx="1419.6" cy="1512.0" r="5.8" fill="#000000"/>
<circle cx="1419.6" cy="1523.3" r="5.8" fill="#000000"/>
<circle cx="1404.8" cy="1556.8" r="5.8" fill="#000000"/>
<circle cx="1434.7" cy="1555.0" r="5.8" fill="#000000"/>
<circle cx="1404.8" cy="1576.9" r="5.8" fill="#000000"/>
<circle cx="1434.7" cy="1573.4" r="5.8" fill="#000000"/>
<path d="M1520.0,1620.9 L1526.5,1632.6 L1513.5,1632.6Z" fill="#ff0000"/>
<path d="M1505.2,1658.6 L1511.7,1670.3 L1498.7,1670.3Z" fill="#ff0000"/>
<path d="M1535.8,1658.6 L1542.3,1670.3 L1529.3,1670.3Z" fill="#ff0000"/>
<path d="M1520.0,1685.4 L1526.5,1697.1 L1513.5,1697.1Z" fill="#ff0000"/>
<path d="M1520.0,1723.1 L1526.5,1734.8 L1513.5,1734.8Z" fill="#ff0000"/>
<path d="M1520.0,1733.6 L1526.5,1745.3 L1513.5,1745.3Z" fill="#ff0000"/>
<path d="M1621.0,1581.9 L1627.5,1570.2 L1614.5,1570.2Z" fill="#a020f0"/>
<path d="M1621.0,1611.4 L1627.5,1599.7 L1614.5,1599.7Z" fill="#a020f0"/>
<path d="M1621.0,1630.1 L1627.5,1618.4 L1614.5,1618.4Z" fill="#a020f0"/>
<path d="M1605.3,1657.3 L1611.8,1645.6 L1598.8,1645.6Z" fill="#a020f0"/>
<path d="M1636.3,1657.3 L1642.8,1645.6 L1629.8,1645.6Z" fill="#a020f0"/>
<path d="M1621.0,1670.0 L1627.5,1658.3 L1614.5,1658.3Z" fill="#a020f0"/>
<line x1="1352.3" y1="1468.8" x2="1352.3" y2="1852.1" stroke="#000000" stroke-width="4.3" stroke-linecap="butt"/>
<line x1="1331.0" y1="1849.9" x2="1689.8" y2="1849.9" stroke="#000000" stroke-width="4.3" stroke-linecap="butt"/>
<line x1="1331.0" y1="1470.9" x2="1352.3" y2="1470.9" stroke="#000000" stroke-width="4.3" stroke-linecap="butt"/>
<line x1="1331.0" y1="1546.7" x2="1352.3" y2="1546.7" stroke="#000000" stroke-width="4.3" stroke-linecap="butt"/>
<line x1="1331.0" y1="1622.5" x2="1352.3" y2="1622.5" stroke="#000000" stroke-width="4.3" stroke-linecap="butt"/>
<line x1="1331.0" y1="1698.3" x2="1352.3" y2="1698.3" stroke="#000000" stroke-width="4.3" stroke-linecap="butt"/>
<line x1="1331.0" y1="1774.1" x2="1352.3" y2="1774.1" stroke="#000000" stroke-width="4.3" stroke-linecap="butt"/>
<line x1="1331.0" y1="1849.9" x2="1352.3" y2="1849.9" stroke="#000000" stroke-width="4.3" stroke-linecap="butt"/>
<line x1="1419.6" y1="1849.9" x2="1419.6" y2="1865.8" stroke="#000000" stroke-width="4.3" stroke-linecap="butt"/>
<line x1="1520.0" y1="1849.9" x2="1520.0" y2="1865.8" stroke="#000000" stroke-width="4.3" stroke-linecap="butt"/>
<line x1="1620.4" y1="1849.9" x2="1620.4" y2="1865.8" stroke="#000000" stroke-width="4.3" stroke-linecap="butt"/>
<text transform="translate(1282.95,1481.30) scale(1.2975,1)" font-size="30.14" font-weight="bold" fill="#000" >10</text>
<text transform="translate(1304.27,1557.10) scale(1.2975,1)" font-size="30.14" font-weight="bold" fill="#000" >8</text>
<text transform="translate(1304.46,1632.90) scale(1.2975,1)" font-size="30.14" font-weight="bold" fill="#000" >6</text>
<text transform="translate(1302.67,1709.00) scale(1.2975,1)" font-size="31.01" font-weight="bold" fill="#000" >4</text>
<text transform="translate(1304.37,1784.80) scale(1.2975,1)" font-size="30.57" font-weight="bold" fill="#000" >2</text>
<text transform="translate(1304.66,1860.30) scale(1.2975,1)" font-size="30.14" font-weight="bold" fill="#000" >0</text>
<text transform="translate(1411.64,1477.04) scale(1.4209,1)" font-size="30.32" font-weight="bold" font-family="DejaVu Sans, sans-serif" fill="#000" >**</text>
<line x1="1393.0" y1="1484.6" x2="1476.0" y2="1484.6" stroke="#000000" stroke-width="2" stroke-linecap="butt"/>
<text transform="translate(1531.60,1575.75) scale(1.4521,1)" font-size="25.45" font-weight="normal" fill="#000" >ns</text>
<line x1="1509.4" y1="1593.1" x2="1592.2" y2="1593.1" stroke="#000000" stroke-width="2" stroke-linecap="butt"/>
<text transform="translate(1259.36,1825.66) rotate(-90) scale(0.9691,1)" font-size="36.36" font-weight="bold" fill="#000" >Stride length ( cm)</text>
<text transform="translate(1199.53,1483.90) scale(1.0327,1)" font-size="50.14" font-weight="bold" fill="#000" >K</text>
<rect x="1395.4" y="2149.8" width="59.0" height="141.1" fill="url(#dots)" stroke="#000000" stroke-width="2.4"/>
<rect x="1490.3" y="2007.0" width="59.3" height="283.9" fill="url(#dots)" stroke="#ff0000" stroke-width="2.4"/>
<rect x="1585.5" y="2097.4" width="59.9" height="193.5" fill="url(#dots)" stroke="#a020f0" stroke-width="2.4"/>
<line x1="1424.7" y1="2124.0" x2="1424.7" y2="2170.0" stroke="#000000" stroke-width="2.0" stroke-linecap="butt"/>
<line x1="1409.0" y1="2124.0" x2="1440.6" y2="2124.0" stroke="#000000" stroke-width="2.0" stroke-linecap="butt"/>
<line x1="1409.0" y1="2170.0" x2="1440.6" y2="2170.0" stroke="#000000" stroke-width="2.0" stroke-linecap="butt"/>
<line x1="1520.0" y1="1981.8" x2="1520.0" y2="2029.1" stroke="#ff0000" stroke-width="2.0" stroke-linecap="butt"/>
<line x1="1504.4" y1="1981.8" x2="1535.5" y2="1981.8" stroke="#ff0000" stroke-width="2.0" stroke-linecap="butt"/>
<line x1="1504.4" y1="2029.1" x2="1535.5" y2="2029.1" stroke="#ff0000" stroke-width="2.0" stroke-linecap="butt"/>
<line x1="1615.8" y1="2077.7" x2="1615.8" y2="2113.6" stroke="#7030a0" stroke-width="2.0" stroke-linecap="butt"/>
<line x1="1600.8" y1="2077.7" x2="1630.8" y2="2077.7" stroke="#7030a0" stroke-width="2.0" stroke-linecap="butt"/>
<line x1="1600.8" y1="2113.6" x2="1630.8" y2="2113.6" stroke="#7030a0" stroke-width="2.0" stroke-linecap="butt"/>
<circle cx="1424.7" cy="2115.1" r="5.8" fill="#000000"/>
<circle cx="1400.2" cy="2143.5" r="5.8" fill="#000000"/>
<circle cx="1449.6" cy="2137.0" r="5.8" fill="#000000"/>
<circle cx="1424.7" cy="2151.0" r="5.8" fill="#000000"/>
<circle cx="1449.6" cy="2151.0" r="5.8" fill="#000000"/>
<circle cx="1424.7" cy="2186.0" r="5.8" fill="#000000"/>
<path d="M1520.0,1961.9 L1526.5,1973.6 L1513.5,1973.6Z" fill="#ff0000"/>
<path d="M1520.0,1986.8 L1526.5,1998.5 L1513.5,1998.5Z" fill="#ff0000"/>
<path d="M1506.5,2006.9 L1513.0,2018.6 L1500.0,2018.6Z" fill="#ff0000"/>
<path d="M1534.9,1997.9 L1541.4,2009.6 L1528.4,2009.6Z" fill="#ff0000"/>
<path d="M1534.9,2011.4 L1541.4,2023.1 L1528.4,2023.1Z" fill="#ff0000"/>
<path d="M1520.0,2032.3 L1526.5,2044.0 L1513.5,2044.0Z" fill="#ff0000"/>
<path d="M1602.3,2078.1 L1608.8,2066.4 L1595.8,2066.4Z" fill="#7030a0"/>
<path d="M1629.3,2078.1 L1635.8,2066.4 L1622.8,2066.4Z" fill="#7030a0"/>
<path d="M1615.8,2102.0 L1622.3,2090.3 L1609.3,2090.3Z" fill="#7030a0"/>
<path d="M1590.3,2117.0 L1596.8,2105.3 L1583.8,2105.3Z" fill="#7030a0"/>
<path d="M1615.8,2112.5 L1622.3,2100.8 L1609.3,2100.8Z" fill="#7030a0"/>
<path d="M1641.3,2115.4 L1647.8,2103.7 L1634.8,2103.7Z" fill="#7030a0"/>
<line x1="1361.0" y1="1937.8" x2="1361.0" y2="2293.1" stroke="#000000" stroke-width="4.3" stroke-linecap="butt"/>
<line x1="1340.8" y1="2290.9" x2="1681.7" y2="2290.9" stroke="#000000" stroke-width="4.3" stroke-linecap="butt"/>
<line x1="1340.8" y1="1939.9" x2="1361.0" y2="1939.9" stroke="#000000" stroke-width="4.3" stroke-linecap="butt"/>
<line x1="1340.8" y1="2010.1" x2="1361.0" y2="2010.1" stroke="#000000" stroke-width="4.3" stroke-linecap="butt"/>
<line x1="1340.8" y1="2080.3" x2="1361.0" y2="2080.3" stroke="#000000" stroke-width="4.3" stroke-linecap="butt"/>
<line x1="1340.8" y1="2150.5" x2="1361.0" y2="2150.5" stroke="#000000" stroke-width="4.3" stroke-linecap="butt"/>
<line x1="1340.8" y1="2220.7" x2="1361.0" y2="2220.7" stroke="#000000" stroke-width="4.3" stroke-linecap="butt"/>
<line x1="1340.8" y1="2290.9" x2="1361.0" y2="2290.9" stroke="#000000" stroke-width="4.3" stroke-linecap="butt"/>
<line x1="1424.1" y1="2290.9" x2="1424.1" y2="2305.0" stroke="#000000" stroke-width="4.3" stroke-linecap="butt"/>
<line x1="1520.0" y1="2290.9" x2="1520.0" y2="2305.0" stroke="#000000" stroke-width="4.3" stroke-linecap="butt"/>
<line x1="1615.2" y1="2290.9" x2="1615.2" y2="2305.0" stroke="#000000" stroke-width="4.3" stroke-linecap="butt"/>
<text transform="translate(1286.02,1949.08) scale(1.3629,1)" font-size="26.62" font-weight="bold" fill="#000" >1.0</text>
<text transform="translate(1285.66,2019.28) scale(1.3629,1)" font-size="26.62" font-weight="bold" fill="#000" >0.8</text>
<text transform="translate(1285.84,2089.48) scale(1.3629,1)" font-size="26.62" font-weight="bold" fill="#000" >0.6</text>
<text transform="translate(1284.75,2159.68) scale(1.3629,1)" font-size="26.62" font-weight="bold" fill="#000" >0.4</text>
<text transform="translate(1286.02,2229.88) scale(1.3629,1)" font-size="26.62" font-weight="bold" fill="#000" >0.2</text>
<text transform="translate(1286.02,2300.08) scale(1.3629,1)" font-size="26.62" font-weight="bold" fill="#000" >0.0</text>
<text transform="translate(1415.20,1944.51) scale(1.4646,1)" font-size="27.31" font-weight="bold" font-family="DejaVu Sans, sans-serif" fill="#000" >**</text>
<line x1="1401.7" y1="1951.9" x2="1470.5" y2="1951.9" stroke="#000000" stroke-width="2" stroke-linecap="butt"/>
<text transform="translate(1566.20,1955.40) scale(1.5577,1)" font-size="25.81" font-weight="bold" font-family="DejaVu Sans, sans-serif" fill="#000" >**</text>
<line x1="1553.5" y1="1963.3" x2="1622.4" y2="1963.3" stroke="#000000" stroke-width="2" stroke-linecap="butt"/>
<text transform="translate(1247.14,2251.76) rotate(-90) scale(0.9559,1)" font-size="37.43" font-weight="bold" fill="#000" >Toe spread ( cm)</text>
<text transform="translate(1209.23,1953.40) scale(0.9581,1)" font-size="50.87" font-weight="bold" fill="#000" >L</text>
<ellipse cx="712" cy="2205" rx="45" ry="20" fill="#c9d3df" opacity="0.75"/>
<ellipse cx="592" cy="1790" rx="12" ry="28" fill="#dfe6ee" opacity="0.45"/>
<ellipse cx="940" cy="1940" rx="25" ry="10" fill="#e2e8ef" opacity="0.8"/>
<ellipse cx="383.0" cy="1514.1" rx="1.7" ry="2.5" transform="rotate(117 383.0 1514.1)" fill="#3b4146"/>
<ellipse cx="379.1" cy="1493.9" rx="1.4" ry="2.5" transform="rotate(78 379.1 1493.9)" fill="#3b4146"/>
<ellipse cx="376.0" cy="1496.5" rx="2.6" ry="5.1" transform="rotate(162 376.0 1496.5)" fill="#3b4146"/>
<ellipse cx="375.2" cy="1507.0" rx="1.3" ry="2.4" transform="rotate(69 375.2 1507.0)" fill="#3b4146"/>
<ellipse cx="375.6" cy="1509.0" rx="1.6" ry="2.5" transform="rotate(42 375.6 1509.0)" fill="#3b4146"/>
<ellipse cx="375.2" cy="1508.1" rx="1.6" ry="2.1" transform="rotate(4 375.2 1508.1)" fill="#3b4146"/>
<ellipse cx="383.7" cy="1495.9" rx="1.6" ry="2.9" transform="rotate(22 383.7 1495.9)" fill="#555c61"/>
<ellipse cx="371.9" cy="1511.2" rx="2.6" ry="5.1" transform="rotate(76 371.9 1511.2)" fill="#3b4146"/>
<ellipse cx="377.4" cy="1503.5" rx="2.4" ry="4.4" transform="rotate(91 377.4 1503.5)" fill="#555c61"/>
<ellipse cx="367.2" cy="1503.2" rx="1.3" ry="2.3" transform="rotate(75 367.2 1503.2)" fill="#3b4146"/>
<ellipse cx="383.6" cy="1519.7" rx="2.5" ry="3.7" transform="rotate(92 383.6 1519.7)" fill="#3b4146"/>
<ellipse cx="376.0" cy="1502.5" rx="2.2" ry="3.3" transform="rotate(5 376.0 1502.5)" fill="#3b4146"/>
<ellipse cx="384.8" cy="1509.2" rx="2.4" ry="2.8" transform="rotate(90 384.8 1509.2)" fill="#3b4146"/>
<ellipse cx="402.3" cy="1504.6" rx="2.7" ry="5.1" transform="rotate(42 402.3 1504.6)" fill="#3b4146"/>
<ellipse cx="359.5" cy="1506.0" rx="2.1" ry="3.3" transform="rotate(172 359.5 1506.0)" fill="#3b4146"/>
<ellipse cx="379.8" cy="1507.1" rx="2.8" ry="5.2" transform="rotate(133 379.8 1507.1)" fill="#555c61"/>
<ellipse cx="380.7" cy="1495.5" rx="2.1" ry="3.8" transform="rotate(103 380.7 1495.5)" fill="#3b4146"/>
<ellipse cx="375.6" cy="1508.4" rx="2.2" ry="3.0" transform="rotate(62 375.6 1508.4)" fill="#3b4146"/>
<ellipse cx="363.2" cy="1504.7" rx="2.1" ry="2.6" transform="rotate(32 363.2 1504.7)" fill="#3b4146"/>
<ellipse cx="364.7" cy="1502.3" rx="2.9" ry="5.3" transform="rotate(147 364.7 1502.3)" fill="#3b4146"/>
<ellipse cx="374.7" cy="1514.9" rx="1.4" ry="1.4" transform="rotate(136 374.7 1514.9)" fill="#3b4146"/>
<ellipse cx="375.0" cy="1519.1" rx="1.4" ry="1.9" transform="rotate(13 375.0 1519.1)" fill="#3b4146"/>
<ellipse cx="379.0" cy="1511.9" rx="1.7" ry="2.5" transform="rotate(58 379.0 1511.9)" fill="#3b4146"/>
<ellipse cx="373.7" cy="1507.2" rx="1.2" ry="1.8" transform="rotate(34 373.7 1507.2)" fill="#3b4146"/>
<ellipse cx="384.3" cy="1512.9" rx="1.6" ry="2.9" transform="rotate(4 384.3 1512.9)" fill="#3b4146"/>
<ellipse cx="383.6" cy="1507.8" rx="1.5" ry="1.7" transform="rotate(127 383.6 1507.8)" fill="#3b4146"/>
<circle cx="388.7" cy="1509.7" r="0.6" fill="#3b4146" opacity="0.8"/>
<circle cx="411.6" cy="1524.9" r="0.8" fill="#3b4146" opacity="0.8"/>
<circle cx="353.7" cy="1515.9" r="0.7" fill="#3b4146" opacity="0.8"/>
<circle cx="380.8" cy="1496.2" r="0.9" fill="#3b4146" opacity="0.8"/>
<circle cx="341.0" cy="1494.9" r="1.1" fill="#3b4146" opacity="0.8"/>
<circle cx="403.9" cy="1495.3" r="1.0" fill="#3b4146" opacity="0.8"/>
<circle cx="360.4" cy="1533.4" r="0.9" fill="#3b4146" opacity="0.8"/>
<circle cx="368.5" cy="1492.1" r="0.5" fill="#3b4146" opacity="0.8"/>
<circle cx="404.2" cy="1479.2" r="1.0" fill="#3b4146" opacity="0.8"/>
<circle cx="410.6" cy="1511.2" r="0.6" fill="#3b4146" opacity="0.8"/>
<ellipse cx="253.8" cy="1617.0" rx="1.4" ry="2.4" transform="rotate(121 253.8 1617.0)" fill="#555c61"/>
<ellipse cx="250.6" cy="1619.2" rx="2.4" ry="3.8" transform="rotate(29 250.6 1619.2)" fill="#3b4146"/>
<ellipse cx="240.7" cy="1624.2" rx="3.2" ry="4.9" transform="rotate(80 240.7 1624.2)" fill="#555c61"/>
<ellipse cx="250.0" cy="1629.6" rx="1.3" ry="1.9" transform="rotate(57 250.0 1629.6)" fill="#3b4146"/>
<ellipse cx="244.8" cy="1625.6" rx="2.3" ry="2.4" transform="rotate(59 244.8 1625.6)" fill="#3b4146"/>
<ellipse cx="255.5" cy="1624.8" rx="2.2" ry="3.7" transform="rotate(33 255.5 1624.8)" fill="#555c61"/>
<ellipse cx="254.3" cy="1614.6" rx="3.0" ry="5.4" transform="rotate(64 254.3 1614.6)" fill="#3b4146"/>
<ellipse cx="264.9" cy="1615.8" rx="3.1" ry="5.5" transform="rotate(129 264.9 1615.8)" fill="#3b4146"/>
<ellipse cx="241.0" cy="1621.2" rx="3.0" ry="5.6" transform="rotate(64 241.0 1621.2)" fill="#3b4146"/>
<ellipse cx="252.5" cy="1616.3" rx="3.0" ry="4.7" transform="rotate(166 252.5 1616.3)" fill="#3b4146"/>
<ellipse cx="250.0" cy="1609.9" rx="1.8" ry="2.2" transform="rotate(163 250.0 1609.9)" fill="#3b4146"/>
<ellipse cx="250.9" cy="1618.7" rx="3.0" ry="5.9" transform="rotate(127 250.9 1618.7)" fill="#3b4146"/>
<ellipse cx="238.0" cy="1617.5" rx="2.4" ry="2.9" transform="rotate(92 238.0 1617.5)" fill="#3b4146"/>
<ellipse cx="252.3" cy="1617.2" rx="2.4" ry="4.5" transform="rotate(131 252.3 1617.2)" fill="#3b4146"/>
<ellipse cx="255.5" cy="1614.2" rx="1.3" ry="1.7" transform="rotate(41 255.5 1614.2)" fill="#3b4146"/>
<ellipse cx="260.8" cy="1605.3" rx="1.4" ry="2.6" transform="rotate(44 260.8 1605.3)" fill="#3b4146"/>
<ellipse cx="252.7" cy="1626.7" rx="2.6" ry="3.6" transform="rotate(31 252.7 1626.7)" fill="#3b4146"/>
<ellipse cx="248.0" cy="1610.6" rx="1.4" ry="1.4" transform="rotate(131 248.0 1610.6)" fill="#555c61"/>
<ellipse cx="251.6" cy="1618.1" rx="1.5" ry="2.6" transform="rotate(69 251.6 1618.1)" fill="#3b4146"/>
<ellipse cx="266.9" cy="1623.7" rx="3.2" ry="3.3" transform="rotate(62 266.9 1623.7)" fill="#3b4146"/>
<ellipse cx="250.8" cy="1617.8" rx="1.9" ry="2.7" transform="rotate(138 250.8 1617.8)" fill="#3b4146"/>
<ellipse cx="250.7" cy="1612.3" rx="3.0" ry="5.6" transform="rotate(127 250.7 1612.3)" fill="#3b4146"/>
<ellipse cx="249.0" cy="1618.4" rx="1.8" ry="2.7" transform="rotate(157 249.0 1618.4)" fill="#3b4146"/>
<ellipse cx="260.1" cy="1630.2" rx="2.4" ry="3.6" transform="rotate(26 260.1 1630.2)" fill="#3b4146"/>
<ellipse cx="251.7" cy="1617.8" rx="2.0" ry="3.2" transform="rotate(25 251.7 1617.8)" fill="#3b4146"/>
<ellipse cx="262.5" cy="1623.6" rx="1.3" ry="1.4" transform="rotate(114 262.5 1623.6)" fill="#3b4146"/>
<circle cx="251.5" cy="1653.2" r="1.1" fill="#3b4146" opacity="0.8"/>
<circle cx="278.7" cy="1598.5" r="0.8" fill="#3b4146" opacity="0.8"/>
<circle cx="237.0" cy="1624.6" r="0.9" fill="#3b4146" opacity="0.8"/>
<circle cx="267.8" cy="1633.3" r="0.7" fill="#3b4146" opacity="0.8"/>
<circle cx="246.7" cy="1619.9" r="0.5" fill="#3b4146" opacity="0.8"/>
<circle cx="225.0" cy="1611.4" r="0.6" fill="#3b4146" opacity="0.8"/>
<circle cx="263.5" cy="1599.1" r="0.6" fill="#3b4146" opacity="0.8"/>
<circle cx="233.2" cy="1598.5" r="0.6" fill="#3b4146" opacity="0.8"/>
<circle cx="252.2" cy="1615.4" r="0.7" fill="#3b4146" opacity="0.8"/>
<circle cx="258.9" cy="1597.1" r="1.0" fill="#3b4146" opacity="0.8"/>
<ellipse cx="366.0" cy="1801.5" rx="2.4" ry="2.6" transform="rotate(2 366.0 1801.5)" fill="#3b4146"/>
<ellipse cx="366.9" cy="1789.7" rx="1.7" ry="3.4" transform="rotate(85 366.9 1789.7)" fill="#3b4146"/>
<ellipse cx="375.0" cy="1779.5" rx="1.5" ry="2.8" transform="rotate(94 375.0 1779.5)" fill="#3b4146"/>
<ellipse cx="364.8" cy="1789.8" rx="2.5" ry="4.5" transform="rotate(106 364.8 1789.8)" fill="#3b4146"/>
<ellipse cx="356.5" cy="1811.3" rx="2.1" ry="4.0" transform="rotate(129 356.5 1811.3)" fill="#3b4146"/>
<ellipse cx="369.7" cy="1790.1" rx="2.0" ry="2.9" transform="rotate(168 369.7 1790.1)" fill="#555c61"/>
<ellipse cx="369.4" cy="1788.8" rx="1.6" ry="2.3" transform="rotate(113 369.4 1788.8)" fill="#555c61"/>
<ellipse cx="363.7" cy="1795.1" rx="2.2" ry="3.0" transform="rotate(105 363.7 1795.1)" fill="#3b4146"/>
<ellipse cx="350.2" cy="1785.5" rx="3.1" ry="6.1" transform="rotate(121 350.2 1785.5)" fill="#555c61"/>
<ellipse cx="371.1" cy="1799.6" rx="2.9" ry="5.6" transform="rotate(102 371.1 1799.6)" fill="#555c61"/>
<ellipse cx="363.6" cy="1787.4" rx="2.3" ry="2.5" transform="rotate(154 363.6 1787.4)" fill="#3b4146"/>
<ellipse cx="390.1" cy="1790.8" rx="1.4" ry="1.9" transform="rotate(27 390.1 1790.8)" fill="#555c61"/>
<ellipse cx="364.1" cy="1794.4" rx="1.3" ry="1.3" transform="rotate(129 364.1 1794.4)" fill="#3b4146"/>
<ellipse cx="351.5" cy="1810.2" rx="3.0" ry="4.5" transform="rotate(180 351.5 1810.2)" fill="#555c61"/>
<ellipse cx="359.0" cy="1803.5" rx="1.3" ry="1.8" transform="rotate(110 359.0 1803.5)" fill="#3b4146"/>
<ellipse cx="369.8" cy="1797.4" rx="1.3" ry="1.7" transform="rotate(173 369.8 1797.4)" fill="#555c61"/>
<ellipse cx="373.7" cy="1787.0" rx="2.2" ry="3.6" transform="rotate(101 373.7 1787.0)" fill="#3b4146"/>
<ellipse cx="357.3" cy="1786.5" rx="3.1" ry="4.4" transform="rotate(130 357.3 1786.5)" fill="#3b4146"/>
<ellipse cx="365.9" cy="1801.0" rx="2.2" ry="2.3" transform="rotate(75 365.9 1801.0)" fill="#3b4146"/>
<ellipse cx="338.3" cy="1780.9" rx="1.2" ry="2.0" transform="rotate(11 338.3 1780.9)" fill="#3b4146"/>
<ellipse cx="350.9" cy="1781.1" rx="1.9" ry="3.3" transform="rotate(4 350.9 1781.1)" fill="#3b4146"/>
<ellipse cx="369.0" cy="1793.2" rx="2.6" ry="3.2" transform="rotate(82 369.0 1793.2)" fill="#555c61"/>
<ellipse cx="360.4" cy="1789.7" rx="1.8" ry="2.9" transform="rotate(54 360.4 1789.7)" fill="#3b4146"/>
<ellipse cx="356.5" cy="1798.2" rx="2.7" ry="4.3" transform="rotate(132 356.5 1798.2)" fill="#3b4146"/>
<ellipse cx="363.4" cy="1795.0" rx="1.7" ry="2.4" transform="rotate(126 363.4 1795.0)" fill="#3b4146"/>
<ellipse cx="384.6" cy="1803.0" rx="1.8" ry="3.4" transform="rotate(79 384.6 1803.0)" fill="#3b4146"/>
<circle cx="395.4" cy="1770.7" r="0.7" fill="#3b4146" opacity="0.8"/>
<circle cx="377.8" cy="1816.8" r="0.8" fill="#3b4146" opacity="0.8"/>
<circle cx="341.5" cy="1767.6" r="0.8" fill="#3b4146" opacity="0.8"/>
<circle cx="338.6" cy="1811.8" r="1.0" fill="#3b4146" opacity="0.8"/>
<circle cx="338.0" cy="1777.7" r="1.0" fill="#3b4146" opacity="0.8"/>
<circle cx="377.1" cy="1811.7" r="0.7" fill="#3b4146" opacity="0.8"/>
<circle cx="333.4" cy="1778.6" r="1.0" fill="#3b4146" opacity="0.8"/>
<circle cx="345.5" cy="1782.1" r="0.8" fill="#3b4146" opacity="0.8"/>
<circle cx="358.1" cy="1786.2" r="1.1" fill="#3b4146" opacity="0.8"/>
<circle cx="335.6" cy="1760.1" r="1.1" fill="#3b4146" opacity="0.8"/>
<ellipse cx="251.7" cy="1929.9" rx="1.5" ry="2.1" transform="rotate(165 251.7 1929.9)" fill="#3b4146"/>
<ellipse cx="253.0" cy="1911.1" rx="2.7" ry="4.2" transform="rotate(50 253.0 1911.1)" fill="#3b4146"/>
<ellipse cx="253.6" cy="1925.6" rx="3.1" ry="5.5" transform="rotate(144 253.6 1925.6)" fill="#555c61"/>
<ellipse cx="252.5" cy="1924.5" rx="1.8" ry="3.2" transform="rotate(154 252.5 1924.5)" fill="#3b4146"/>
<ellipse cx="259.8" cy="1908.0" rx="2.5" ry="3.0" transform="rotate(85 259.8 1908.0)" fill="#3b4146"/>
<ellipse cx="257.2" cy="1924.2" rx="3.1" ry="4.7" transform="rotate(54 257.2 1924.2)" fill="#555c61"/>
<ellipse cx="267.2" cy="1905.2" rx="2.9" ry="4.1" transform="rotate(108 267.2 1905.2)" fill="#3b4146"/>
<ellipse cx="242.5" cy="1924.2" rx="1.5" ry="2.8" transform="rotate(8 242.5 1924.2)" fill="#3b4146"/>
<ellipse cx="256.6" cy="1921.2" rx="2.3" ry="3.0" transform="rotate(180 256.6 1921.2)" fill="#3b4146"/>
<ellipse cx="253.0" cy="1926.5" rx="2.0" ry="3.3" transform="rotate(50 253.0 1926.5)" fill="#3b4146"/>
<ellipse cx="250.9" cy="1919.2" rx="2.3" ry="2.6" transform="rotate(11 250.9 1919.2)" fill="#555c61"/>
<ellipse cx="252.2" cy="1931.0" rx="2.7" ry="3.4" transform="rotate(60 252.2 1931.0)" fill="#3b4146"/>
<ellipse cx="252.3" cy="1922.5" rx="2.6" ry="5.1" transform="rotate(132 252.3 1922.5)" fill="#555c61"/>
<ellipse cx="251.8" cy="1918.7" rx="1.2" ry="2.4" transform="rotate(140 251.8 1918.7)" fill="#3b4146"/>
<ellipse cx="239.6" cy="1928.6" rx="2.8" ry="3.4" transform="rotate(80 239.6 1928.6)" fill="#3b4146"/>
<ellipse cx="254.3" cy="1924.0" rx="2.0" ry="2.6" transform="rotate(2 254.3 1924.0)" fill="#555c61"/>
<ellipse cx="259.4" cy="1922.2" rx="1.9" ry="2.1" transform="rotate(177 259.4 1922.2)" fill="#3b4146"/>
<ellipse cx="236.9" cy="1928.7" rx="1.6" ry="1.7" transform="rotate(30 236.9 1928.7)" fill="#3b4146"/>
<ellipse cx="250.2" cy="1916.9" rx="2.2" ry="4.4" transform="rotate(22 250.2 1916.9)" fill="#3b4146"/>
<ellipse cx="248.6" cy="1918.4" rx="2.7" ry="5.5" transform="rotate(86 248.6 1918.4)" fill="#3b4146"/>
<ellipse cx="251.1" cy="1922.2" rx="2.0" ry="3.9" transform="rotate(150 251.1 1922.2)" fill="#3b4146"/>
<ellipse cx="249.5" cy="1919.0" rx="1.3" ry="1.6" transform="rotate(37 249.5 1919.0)" fill="#3b4146"/>
<ellipse cx="251.5" cy="1924.1" rx="1.3" ry="2.0" transform="rotate(178 251.5 1924.1)" fill="#555c61"/>
<ellipse cx="247.6" cy="1922.2" rx="3.0" ry="5.4" transform="rotate(134 247.6 1922.2)" fill="#3b4146"/>
<ellipse cx="245.1" cy="1919.3" rx="2.9" ry="5.7" transform="rotate(61 245.1 1919.3)" fill="#555c61"/>
<ellipse cx="248.8" cy="1914.7" rx="2.8" ry="5.1" transform="rotate(95 248.8 1914.7)" fill="#3b4146"/>
<circle cx="261.0" cy="1934.9" r="0.7" fill="#3b4146" opacity="0.8"/>
<circle cx="278.2" cy="1958.0" r="0.5" fill="#3b4146" opacity="0.8"/>
<circle cx="281.3" cy="1958.4" r="0.9" fill="#3b4146" opacity="0.8"/>
<circle cx="221.7" cy="1953.1" r="0.6" fill="#3b4146" opacity="0.8"/>
<circle cx="281.2" cy="1933.3" r="0.5" fill="#3b4146" opacity="0.8"/>
<circle cx="229.6" cy="1930.5" r="0.8" fill="#3b4146" opacity="0.8"/>
<circle cx="266.9" cy="1955.5" r="0.6" fill="#3b4146" opacity="0.8"/>
<circle cx="219.0" cy="1955.1" r="0.5" fill="#3b4146" opacity="0.8"/>
<circle cx="275.2" cy="1886.2" r="1.0" fill="#3b4146" opacity="0.8"/>
<circle cx="269.2" cy="1951.3" r="0.8" fill="#3b4146" opacity="0.8"/>
<line x1="258.0" y1="1919.0" x2="258.9" y2="1965.9" stroke="#3b4146" stroke-width="1.5"/>
<ellipse cx="367.0" cy="2085.4" rx="3.1" ry="5.9" transform="rotate(5 367.0 2085.4)" fill="#3b4146"/>
<ellipse cx="341.8" cy="2089.9" rx="3.1" ry="5.9" transform="rotate(20 341.8 2089.9)" fill="#3b4146"/>
<ellipse cx="367.6" cy="2086.1" rx="2.3" ry="2.9" transform="rotate(50 367.6 2086.1)" fill="#3b4146"/>
<ellipse cx="384.3" cy="2079.6" rx="2.7" ry="4.9" transform="rotate(25 384.3 2079.6)" fill="#3b4146"/>
<ellipse cx="367.5" cy="2085.7" rx="2.9" ry="3.6" transform="rotate(177 367.5 2085.7)" fill="#3b4146"/>
<ellipse cx="368.4" cy="2085.7" rx="1.8" ry="2.7" transform="rotate(122 368.4 2085.7)" fill="#555c61"/>
<ellipse cx="374.0" cy="2099.9" rx="3.1" ry="4.1" transform="rotate(65 374.0 2099.9)" fill="#555c61"/>
<ellipse cx="372.2" cy="2090.9" rx="1.5" ry="1.9" transform="rotate(109 372.2 2090.9)" fill="#3b4146"/>
<ellipse cx="374.0" cy="2086.1" rx="1.8" ry="2.7" transform="rotate(57 374.0 2086.1)" fill="#555c61"/>
<ellipse cx="355.8" cy="2087.0" rx="2.6" ry="5.2" transform="rotate(4 355.8 2087.0)" fill="#3b4146"/>
<ellipse cx="368.0" cy="2084.9" rx="2.8" ry="4.4" transform="rotate(2 368.0 2084.9)" fill="#3b4146"/>
<ellipse cx="370.3" cy="2086.5" rx="1.6" ry="1.9" transform="rotate(136 370.3 2086.5)" fill="#555c61"/>
<ellipse cx="379.7" cy="2082.3" rx="1.9" ry="3.4" transform="rotate(19 379.7 2082.3)" fill="#3b4146"/>
<ellipse cx="368.0" cy="2082.7" rx="2.8" ry="2.9" transform="rotate(170 368.0 2082.7)" fill="#555c61"/>
<ellipse cx="377.4" cy="2090.1" rx="3.0" ry="5.8" transform="rotate(98 377.4 2090.1)" fill="#3b4146"/>
<ellipse cx="361.3" cy="2096.8" rx="1.8" ry="2.0" transform="rotate(27 361.3 2096.8)" fill="#3b4146"/>
<ellipse cx="364.7" cy="2080.4" rx="1.3" ry="2.0" transform="rotate(73 364.7 2080.4)" fill="#555c61"/>
<ellipse cx="368.0" cy="2086.1" rx="2.4" ry="3.5" transform="rotate(76 368.0 2086.1)" fill="#555c61"/>
<ellipse cx="371.2" cy="2086.8" rx="2.2" ry="2.5" transform="rotate(132 371.2 2086.8)" fill="#555c61"/>
<ellipse cx="369.9" cy="2085.6" rx="2.5" ry="2.7" transform="rotate(78 369.9 2085.6)" fill="#3b4146"/>
<ellipse cx="372.2" cy="2089.8" rx="2.1" ry="3.9" transform="rotate(176 372.2 2089.8)" fill="#555c61"/>
<ellipse cx="358.0" cy="2088.0" rx="2.2" ry="3.2" transform="rotate(52 358.0 2088.0)" fill="#3b4146"/>
<ellipse cx="360.7" cy="2089.4" rx="3.2" ry="5.2" transform="rotate(90 360.7 2089.4)" fill="#555c61"/>
<ellipse cx="361.8" cy="2092.7" rx="1.4" ry="2.5" transform="rotate(156 361.8 2092.7)" fill="#3b4146"/>
<ellipse cx="364.2" cy="2089.0" rx="2.6" ry="4.6" transform="rotate(65 364.2 2089.0)" fill="#3b4146"/>
<ellipse cx="360.8" cy="2069.7" rx="1.8" ry="3.1" transform="rotate(124 360.8 2069.7)" fill="#3b4146"/>
<circle cx="348.7" cy="2114.1" r="0.9" fill="#3b4146" opacity="0.8"/>
<circle cx="375.6" cy="2055.2" r="0.8" fill="#3b4146" opacity="0.8"/>
<circle cx="344.6" cy="2096.8" r="0.8" fill="#3b4146" opacity="0.8"/>
<circle cx="397.7" cy="2095.3" r="1.0" fill="#3b4146" opacity="0.8"/>
<circle cx="353.7" cy="2095.1" r="0.9" fill="#3b4146" opacity="0.8"/>
<circle cx="398.8" cy="2076.6" r="1.0" fill="#3b4146" opacity="0.8"/>
<circle cx="402.7" cy="2097.9" r="1.1" fill="#3b4146" opacity="0.8"/>
<circle cx="410.8" cy="2087.1" r="0.8" fill="#3b4146" opacity="0.8"/>
<circle cx="336.7" cy="2107.2" r="1.1" fill="#3b4146" opacity="0.8"/>
<circle cx="365.9" cy="2098.1" r="0.9" fill="#3b4146" opacity="0.8"/>
<ellipse cx="252.2" cy="2200.7" rx="1.7" ry="2.9" transform="rotate(85 252.2 2200.7)" fill="#3b4146"/>
<ellipse cx="251.6" cy="2197.0" rx="1.9" ry="2.5" transform="rotate(144 251.6 2197.0)" fill="#3b4146"/>
<ellipse cx="249.8" cy="2196.9" rx="2.6" ry="4.0" transform="rotate(145 249.8 2196.9)" fill="#3b4146"/>
<ellipse cx="250.4" cy="2208.3" rx="2.8" ry="5.2" transform="rotate(60 250.4 2208.3)" fill="#3b4146"/>
<ellipse cx="255.2" cy="2206.1" rx="2.1" ry="2.5" transform="rotate(114 255.2 2206.1)" fill="#3b4146"/>
<ellipse cx="247.0" cy="2215.2" rx="3.1" ry="3.7" transform="rotate(118 247.0 2215.2)" fill="#3b4146"/>
<ellipse cx="239.5" cy="2214.4" rx="2.2" ry="3.8" transform="rotate(145 239.5 2214.4)" fill="#3b4146"/>
<ellipse cx="259.0" cy="2203.1" rx="1.3" ry="2.0" transform="rotate(55 259.0 2203.1)" fill="#3b4146"/>
<ellipse cx="237.7" cy="2197.8" rx="2.3" ry="3.7" transform="rotate(56 237.7 2197.8)" fill="#3b4146"/>
<ellipse cx="254.3" cy="2211.0" rx="2.2" ry="2.6" transform="rotate(156 254.3 2211.0)" fill="#3b4146"/>
<ellipse cx="246.0" cy="2192.9" rx="1.2" ry="2.4" transform="rotate(112 246.0 2192.9)" fill="#3b4146"/>
<ellipse cx="250.6" cy="2204.9" rx="2.0" ry="2.2" transform="rotate(180 250.6 2204.9)" fill="#3b4146"/>
<ellipse cx="263.4" cy="2207.3" rx="2.0" ry="2.5" transform="rotate(176 263.4 2207.3)" fill="#555c61"/>
<ellipse cx="256.4" cy="2200.7" rx="2.5" ry="3.7" transform="rotate(150 256.4 2200.7)" fill="#555c61"/>
<ellipse cx="253.9" cy="2196.7" rx="2.6" ry="2.8" transform="rotate(134 253.9 2196.7)" fill="#3b4146"/>
<ellipse cx="250.9" cy="2204.8" rx="2.2" ry="2.5" transform="rotate(4 250.9 2204.8)" fill="#3b4146"/>
<ellipse cx="256.1" cy="2207.8" rx="1.7" ry="3.3" transform="rotate(46 256.1 2207.8)" fill="#3b4146"/>
<ellipse cx="247.2" cy="2205.8" rx="3.0" ry="3.8" transform="rotate(85 247.2 2205.8)" fill="#3b4146"/>
<ellipse cx="245.6" cy="2204.6" rx="1.8" ry="2.4" transform="rotate(119 245.6 2204.6)" fill="#555c61"/>
<ellipse cx="257.7" cy="2203.1" rx="3.0" ry="4.9" transform="rotate(58 257.7 2203.1)" fill="#3b4146"/>
<ellipse cx="238.2" cy="2211.1" rx="3.1" ry="3.1" transform="rotate(81 238.2 2211.1)" fill="#3b4146"/>
<ellipse cx="252.1" cy="2204.3" rx="1.3" ry="1.4" transform="rotate(129 252.1 2204.3)" fill="#3b4146"/>
<ellipse cx="240.4" cy="2213.3" rx="1.3" ry="2.6" transform="rotate(110 240.4 2213.3)" fill="#3b4146"/>
<ellipse cx="245.1" cy="2206.3" rx="2.8" ry="4.1" transform="rotate(84 245.1 2206.3)" fill="#555c61"/>
<ellipse cx="253.6" cy="2205.4" rx="2.5" ry="2.8" transform="rotate(113 253.6 2205.4)" fill="#3b4146"/>
<ellipse cx="254.1" cy="2205.7" rx="1.4" ry="2.1" transform="rotate(162 254.1 2205.7)" fill="#3b4146"/>
<circle cx="258.2" cy="2212.5" r="0.6" fill="#3b4146" opacity="0.8"/>
<circle cx="269.6" cy="2186.5" r="0.9" fill="#3b4146" opacity="0.8"/>
<circle cx="274.0" cy="2221.1" r="1.0" fill="#3b4146" opacity="0.8"/>
<circle cx="248.3" cy="2212.1" r="1.0" fill="#3b4146" opacity="0.8"/>
<circle cx="230.7" cy="2222.6" r="1.0" fill="#3b4146" opacity="0.8"/>
<circle cx="247.7" cy="2215.7" r="0.8" fill="#3b4146" opacity="0.8"/>
<circle cx="238.5" cy="2212.9" r="0.5" fill="#3b4146" opacity="0.8"/>
<circle cx="267.8" cy="2224.1" r="0.7" fill="#3b4146" opacity="0.8"/>
<circle cx="275.6" cy="2186.5" r="1.0" fill="#3b4146" opacity="0.8"/>
<circle cx="238.7" cy="2223.6" r="0.8" fill="#3b4146" opacity="0.8"/>
<ellipse cx="550.7" cy="1598.5" rx="2.1" ry="3.4" transform="rotate(33 550.7 1598.5)" fill="#3b4146"/>
<ellipse cx="563.8" cy="1589.1" rx="2.5" ry="2.7" transform="rotate(55 563.8 1589.1)" fill="#3b4146"/>
<ellipse cx="578.2" cy="1594.2" rx="1.3" ry="2.5" transform="rotate(118 578.2 1594.2)" fill="#555c61"/>
<ellipse cx="561.2" cy="1577.0" rx="1.5" ry="2.3" transform="rotate(11 561.2 1577.0)" fill="#3b4146"/>
<ellipse cx="573.1" cy="1590.2" rx="2.1" ry="3.9" transform="rotate(93 573.1 1590.2)" fill="#3b4146"/>
<ellipse cx="571.3" cy="1587.4" rx="2.2" ry="3.2" transform="rotate(50 571.3 1587.4)" fill="#3b4146"/>
<ellipse cx="594.1" cy="1589.6" rx="2.6" ry="3.2" transform="rotate(52 594.1 1589.6)" fill="#3b4146"/>
<ellipse cx="573.5" cy="1590.3" rx="2.7" ry="5.0" transform="rotate(70 573.5 1590.3)" fill="#3b4146"/>
<ellipse cx="573.2" cy="1589.9" rx="1.6" ry="2.4" transform="rotate(176 573.2 1589.9)" fill="#555c61"/>
<ellipse cx="572.8" cy="1590.2" rx="1.3" ry="2.4" transform="rotate(49 572.8 1590.2)" fill="#3b4146"/>
<ellipse cx="585.0" cy="1599.1" rx="2.7" ry="3.4" transform="rotate(18 585.0 1599.1)" fill="#3b4146"/>
<ellipse cx="595.8" cy="1601.2" rx="2.8" ry="4.4" transform="rotate(81 595.8 1601.2)" fill="#3b4146"/>
<ellipse cx="573.2" cy="1590.8" rx="2.5" ry="3.5" transform="rotate(38 573.2 1590.8)" fill="#3b4146"/>
<ellipse cx="572.3" cy="1597.2" rx="3.1" ry="4.1" transform="rotate(159 572.3 1597.2)" fill="#555c61"/>
<ellipse cx="577.2" cy="1610.6" rx="2.5" ry="4.9" transform="rotate(38 577.2 1610.6)" fill="#3b4146"/>
<ellipse cx="572.3" cy="1606.6" rx="2.7" ry="3.6" transform="rotate(13 572.3 1606.6)" fill="#3b4146"/>
<ellipse cx="579.0" cy="1594.8" rx="2.4" ry="3.5" transform="rotate(173 579.0 1594.8)" fill="#3b4146"/>
<ellipse cx="568.9" cy="1590.5" rx="2.3" ry="2.8" transform="rotate(28 568.9 1590.5)" fill="#555c61"/>
<ellipse cx="575.9" cy="1587.7" rx="1.6" ry="3.1" transform="rotate(35 575.9 1587.7)" fill="#3b4146"/>
<ellipse cx="580.2" cy="1587.1" rx="3.0" ry="4.2" transform="rotate(19 580.2 1587.1)" fill="#3b4146"/>
<ellipse cx="580.7" cy="1592.4" rx="2.6" ry="4.8" transform="rotate(107 580.7 1592.4)" fill="#3b4146"/>
<ellipse cx="572.5" cy="1592.3" rx="1.6" ry="1.7" transform="rotate(41 572.5 1592.3)" fill="#3b4146"/>
<ellipse cx="564.5" cy="1585.9" rx="1.8" ry="2.1" transform="rotate(3 564.5 1585.9)" fill="#555c61"/>
<ellipse cx="571.5" cy="1605.0" rx="2.1" ry="2.5" transform="rotate(66 571.5 1605.0)" fill="#3b4146"/>
<ellipse cx="566.6" cy="1586.1" rx="3.0" ry="4.9" transform="rotate(124 566.6 1586.1)" fill="#555c61"/>
<ellipse cx="566.4" cy="1585.2" rx="1.5" ry="1.5" transform="rotate(164 566.4 1585.2)" fill="#3b4146"/>
<circle cx="586.8" cy="1629.5" r="0.5" fill="#3b4146" opacity="0.8"/>
<circle cx="582.3" cy="1588.5" r="0.9" fill="#3b4146" opacity="0.8"/>
<circle cx="560.6" cy="1632.6" r="0.5" fill="#3b4146" opacity="0.8"/>
<circle cx="576.2" cy="1610.2" r="1.0" fill="#3b4146" opacity="0.8"/>
<circle cx="589.3" cy="1607.4" r="1.0" fill="#3b4146" opacity="0.8"/>
<circle cx="601.5" cy="1577.3" r="0.9" fill="#3b4146" opacity="0.8"/>
<circle cx="600.5" cy="1621.7" r="0.8" fill="#3b4146" opacity="0.8"/>
<circle cx="592.9" cy="1621.0" r="0.8" fill="#3b4146" opacity="0.8"/>
<circle cx="581.6" cy="1580.0" r="0.8" fill="#3b4146" opacity="0.8"/>
<circle cx="580.5" cy="1554.1" r="0.9" fill="#3b4146" opacity="0.8"/>
<line x1="582.7" y1="1590.0" x2="595.3" y2="1638.3" stroke="#3b4146" stroke-width="1.5"/>
<ellipse cx="663.1" cy="1628.2" rx="1.3" ry="1.7" transform="rotate(49 663.1 1628.2)" fill="#3b4146"/>
<ellipse cx="678.7" cy="1606.8" rx="2.2" ry="3.4" transform="rotate(119 678.7 1606.8)" fill="#3b4146"/>
<ellipse cx="677.2" cy="1633.3" rx="2.6" ry="4.7" transform="rotate(13 677.2 1633.3)" fill="#3b4146"/>
<ellipse cx="672.0" cy="1622.6" rx="1.6" ry="2.9" transform="rotate(3 672.0 1622.6)" fill="#3b4146"/>
<ellipse cx="684.8" cy="1632.4" rx="1.2" ry="2.3" transform="rotate(20 684.8 1632.4)" fill="#555c61"/>
<ellipse cx="666.3" cy="1630.7" rx="1.2" ry="2.0" transform="rotate(29 666.3 1630.7)" fill="#3b4146"/>
<ellipse cx="670.6" cy="1616.9" rx="2.4" ry="3.4" transform="rotate(107 670.6 1616.9)" fill="#3b4146"/>
<ellipse cx="670.6" cy="1626.5" rx="1.7" ry="2.9" transform="rotate(174 670.6 1626.5)" fill="#3b4146"/>
<ellipse cx="678.9" cy="1624.8" rx="1.6" ry="2.7" transform="rotate(20 678.9 1624.8)" fill="#3b4146"/>
<ellipse cx="673.9" cy="1639.3" rx="1.6" ry="3.0" transform="rotate(90 673.9 1639.3)" fill="#3b4146"/>
<ellipse cx="678.7" cy="1627.4" rx="1.9" ry="2.7" transform="rotate(70 678.7 1627.4)" fill="#3b4146"/>
<ellipse cx="674.6" cy="1610.3" rx="1.2" ry="1.4" transform="rotate(125 674.6 1610.3)" fill="#3b4146"/>
<ellipse cx="674.8" cy="1626.6" rx="2.1" ry="3.1" transform="rotate(38 674.8 1626.6)" fill="#3b4146"/>
<ellipse cx="670.8" cy="1640.8" rx="1.8" ry="2.7" transform="rotate(172 670.8 1640.8)" fill="#555c61"/>
<ellipse cx="678.2" cy="1638.2" rx="1.3" ry="2.6" transform="rotate(1 678.2 1638.2)" fill="#3b4146"/>
<ellipse cx="672.4" cy="1633.2" rx="2.3" ry="2.9" transform="rotate(2 672.4 1633.2)" fill="#3b4146"/>
<ellipse cx="698.2" cy="1634.7" rx="2.7" ry="2.8" transform="rotate(58 698.2 1634.7)" fill="#3b4146"/>
<ellipse cx="678.6" cy="1594.4" rx="2.4" ry="3.0" transform="rotate(95 678.6 1594.4)" fill="#3b4146"/>
<ellipse cx="666.3" cy="1627.3" rx="2.6" ry="3.1" transform="rotate(52 666.3 1627.3)" fill="#555c61"/>
<ellipse cx="677.8" cy="1619.3" rx="1.5" ry="2.3" transform="rotate(125 677.8 1619.3)" fill="#555c61"/>
<ellipse cx="672.4" cy="1623.1" rx="1.5" ry="2.5" transform="rotate(24 672.4 1623.1)" fill="#3b4146"/>
<ellipse cx="680.5" cy="1617.3" rx="1.7" ry="2.5" transform="rotate(176 680.5 1617.3)" fill="#3b4146"/>
<ellipse cx="654.7" cy="1616.3" rx="2.7" ry="3.8" transform="rotate(106 654.7 1616.3)" fill="#3b4146"/>
<ellipse cx="689.0" cy="1610.6" rx="2.4" ry="3.2" transform="rotate(66 689.0 1610.6)" fill="#3b4146"/>
<ellipse cx="672.8" cy="1623.2" rx="2.2" ry="4.0" transform="rotate(162 672.8 1623.2)" fill="#555c61"/>
<ellipse cx="673.8" cy="1625.4" rx="1.9" ry="2.7" transform="rotate(18 673.8 1625.4)" fill="#3b4146"/>
<ellipse cx="666.4" cy="1637.8" rx="2.2" ry="3.6" transform="rotate(22 666.4 1637.8)" fill="#3b4146"/>
<ellipse cx="646.9" cy="1618.3" rx="2.2" ry="2.8" transform="rotate(73 646.9 1618.3)" fill="#3b4146"/>
<ellipse cx="671.8" cy="1629.3" rx="1.2" ry="2.0" transform="rotate(137 671.8 1629.3)" fill="#3b4146"/>
<ellipse cx="669.6" cy="1618.9" rx="2.6" ry="2.7" transform="rotate(88 669.6 1618.9)" fill="#3b4146"/>
<ellipse cx="665.6" cy="1629.7" rx="1.6" ry="2.1" transform="rotate(170 665.6 1629.7)" fill="#3b4146"/>
<ellipse cx="689.6" cy="1627.1" rx="1.6" ry="2.0" transform="rotate(78 689.6 1627.1)" fill="#3b4146"/>
<ellipse cx="675.4" cy="1642.8" rx="2.2" ry="3.2" transform="rotate(109 675.4 1642.8)" fill="#3b4146"/>
<ellipse cx="676.9" cy="1618.0" rx="1.4" ry="2.7" transform="rotate(150 676.9 1618.0)" fill="#3b4146"/>
<ellipse cx="675.9" cy="1653.1" rx="1.7" ry="2.8" transform="rotate(175 675.9 1653.1)" fill="#3b4146"/>
<ellipse cx="668.3" cy="1623.8" rx="2.2" ry="3.8" transform="rotate(58 668.3 1623.8)" fill="#3b4146"/>
<ellipse cx="666.2" cy="1626.0" rx="1.3" ry="1.9" transform="rotate(45 666.2 1626.0)" fill="#3b4146"/>
<ellipse cx="680.8" cy="1629.1" rx="2.4" ry="4.6" transform="rotate(108 680.8 1629.1)" fill="#3b4146"/>
<ellipse cx="658.9" cy="1641.9" rx="1.6" ry="2.6" transform="rotate(152 658.9 1641.9)" fill="#3b4146"/>
<ellipse cx="658.3" cy="1610.0" rx="2.4" ry="3.8" transform="rotate(47 658.3 1610.0)" fill="#3b4146"/>
<ellipse cx="665.6" cy="1632.6" rx="1.7" ry="2.0" transform="rotate(37 665.6 1632.6)" fill="#555c61"/>
<ellipse cx="672.8" cy="1637.3" rx="2.7" ry="2.8" transform="rotate(150 672.8 1637.3)" fill="#3b4146"/>
<ellipse cx="676.5" cy="1621.2" rx="2.3" ry="2.6" transform="rotate(156 676.5 1621.2)" fill="#3b4146"/>
<ellipse cx="678.2" cy="1613.7" rx="1.4" ry="1.4" transform="rotate(56 678.2 1613.7)" fill="#555c61"/>
<ellipse cx="676.5" cy="1626.4" rx="2.2" ry="2.7" transform="rotate(33 676.5 1626.4)" fill="#3b4146"/>
<circle cx="658.5" cy="1663.5" r="0.9" fill="#3b4146" opacity="0.8"/>
<circle cx="642.4" cy="1645.2" r="0.8" fill="#3b4146" opacity="0.8"/>
<circle cx="669.0" cy="1628.9" r="0.9" fill="#3b4146" opacity="0.8"/>
<circle cx="696.2" cy="1626.5" r="0.9" fill="#3b4146" opacity="0.8"/>
<circle cx="670.5" cy="1639.9" r="0.7" fill="#3b4146" opacity="0.8"/>
<circle cx="666.4" cy="1627.7" r="0.9" fill="#3b4146" opacity="0.8"/>
<circle cx="655.9" cy="1670.0" r="0.8" fill="#3b4146" opacity="0.8"/>
<circle cx="700.4" cy="1645.7" r="1.1" fill="#3b4146" opacity="0.8"/>
<circle cx="687.0" cy="1618.4" r="0.7" fill="#3b4146" opacity="0.8"/>
<circle cx="681.3" cy="1652.3" r="1.0" fill="#3b4146" opacity="0.8"/>
<line x1="664.8" y1="1626.0" x2="663.3" y2="1666.2" stroke="#3b4146" stroke-width="1.3"/>
<ellipse cx="582.6" cy="1715.4" rx="2.9" ry="3.6" transform="rotate(26 582.6 1715.4)" fill="#3b4146"/>
<ellipse cx="585.4" cy="1725.0" rx="2.7" ry="4.1" transform="rotate(39 585.4 1725.0)" fill="#3b4146"/>
<ellipse cx="577.7" cy="1728.6" rx="2.4" ry="3.1" transform="rotate(26 577.7 1728.6)" fill="#3b4146"/>
<ellipse cx="589.0" cy="1700.9" rx="2.8" ry="5.1" transform="rotate(134 589.0 1700.9)" fill="#555c61"/>
<ellipse cx="585.2" cy="1707.2" rx="2.9" ry="5.1" transform="rotate(102 585.2 1707.2)" fill="#3b4146"/>
<ellipse cx="575.6" cy="1711.9" rx="1.9" ry="2.5" transform="rotate(21 575.6 1711.9)" fill="#3b4146"/>
<ellipse cx="587.1" cy="1698.2" rx="2.6" ry="4.5" transform="rotate(24 587.1 1698.2)" fill="#3b4146"/>
<ellipse cx="572.1" cy="1683.4" rx="2.1" ry="2.5" transform="rotate(94 572.1 1683.4)" fill="#3b4146"/>
<ellipse cx="582.7" cy="1724.3" rx="2.0" ry="3.0" transform="rotate(42 582.7 1724.3)" fill="#3b4146"/>
<ellipse cx="583.3" cy="1712.2" rx="1.6" ry="1.7" transform="rotate(117 583.3 1712.2)" fill="#3b4146"/>
<ellipse cx="595.9" cy="1703.6" rx="3.1" ry="3.5" transform="rotate(145 595.9 1703.6)" fill="#3b4146"/>
<ellipse cx="588.9" cy="1697.3" rx="2.5" ry="3.5" transform="rotate(156 588.9 1697.3)" fill="#3b4146"/>
<ellipse cx="584.8" cy="1706.2" rx="2.9" ry="5.0" transform="rotate(25 584.8 1706.2)" fill="#3b4146"/>
<ellipse cx="589.9" cy="1706.6" rx="2.4" ry="2.9" transform="rotate(111 589.9 1706.6)" fill="#3b4146"/>
<ellipse cx="575.4" cy="1703.2" rx="2.7" ry="3.4" transform="rotate(30 575.4 1703.2)" fill="#3b4146"/>
<ellipse cx="580.7" cy="1702.2" rx="1.4" ry="1.5" transform="rotate(116 580.7 1702.2)" fill="#3b4146"/>
<ellipse cx="580.2" cy="1706.8" rx="2.1" ry="2.3" transform="rotate(1 580.2 1706.8)" fill="#3b4146"/>
<ellipse cx="583.8" cy="1708.0" rx="1.4" ry="1.8" transform="rotate(108 583.8 1708.0)" fill="#3b4146"/>
<ellipse cx="592.1" cy="1713.4" rx="2.9" ry="3.8" transform="rotate(89 592.1 1713.4)" fill="#3b4146"/>
<ellipse cx="584.9" cy="1707.6" rx="2.2" ry="3.7" transform="rotate(53 584.9 1707.6)" fill="#3b4146"/>
<ellipse cx="606.7" cy="1713.4" rx="2.7" ry="4.5" transform="rotate(153 606.7 1713.4)" fill="#3b4146"/>
<ellipse cx="583.0" cy="1708.2" rx="2.4" ry="3.0" transform="rotate(52 583.0 1708.2)" fill="#3b4146"/>
<ellipse cx="583.5" cy="1710.0" rx="2.0" ry="3.5" transform="rotate(108 583.5 1710.0)" fill="#3b4146"/>
<ellipse cx="585.5" cy="1708.1" rx="2.7" ry="4.1" transform="rotate(100 585.5 1708.1)" fill="#3b4146"/>
<ellipse cx="581.6" cy="1710.8" rx="1.5" ry="1.6" transform="rotate(148 581.6 1710.8)" fill="#555c61"/>
<ellipse cx="585.3" cy="1720.6" rx="1.8" ry="1.9" transform="rotate(23 585.3 1720.6)" fill="#3b4146"/>
<circle cx="573.5" cy="1703.5" r="1.0" fill="#3b4146" opacity="0.8"/>
<circle cx="616.6" cy="1672.9" r="0.8" fill="#3b4146" opacity="0.8"/>
<circle cx="557.6" cy="1731.4" r="0.7" fill="#3b4146" opacity="0.8"/>
<circle cx="610.0" cy="1711.5" r="0.6" fill="#3b4146" opacity="0.8"/>
<circle cx="549.0" cy="1688.6" r="1.0" fill="#3b4146" opacity="0.8"/>
<circle cx="559.0" cy="1706.4" r="0.7" fill="#3b4146" opacity="0.8"/>
<circle cx="572.4" cy="1731.2" r="0.6" fill="#3b4146" opacity="0.8"/>
<circle cx="598.0" cy="1720.8" r="1.1" fill="#3b4146" opacity="0.8"/>
<circle cx="584.4" cy="1740.4" r="0.8" fill="#3b4146" opacity="0.8"/>
<circle cx="588.0" cy="1717.3" r="1.0" fill="#3b4146" opacity="0.8"/>
<line x1="590.8" y1="1708.0" x2="590.3" y2="1738.5" stroke="#3b4146" stroke-width="1.6"/>
<ellipse cx="593.8" cy="1799.6" rx="3.1" ry="3.9" transform="rotate(132 593.8 1799.6)" fill="#3b4146"/>
<ellipse cx="584.7" cy="1780.0" rx="1.8" ry="2.5" transform="rotate(140 584.7 1780.0)" fill="#3b4146"/>
<ellipse cx="593.2" cy="1799.3" rx="1.9" ry="3.5" transform="rotate(114 593.2 1799.3)" fill="#3b4146"/>
<ellipse cx="601.4" cy="1819.5" rx="2.3" ry="2.7" transform="rotate(117 601.4 1819.5)" fill="#3b4146"/>
<ellipse cx="592.3" cy="1798.1" rx="1.6" ry="2.3" transform="rotate(178 592.3 1798.1)" fill="#555c61"/>
<ellipse cx="588.3" cy="1797.8" rx="2.4" ry="4.1" transform="rotate(20 588.3 1797.8)" fill="#555c61"/>
<ellipse cx="588.0" cy="1792.9" rx="1.4" ry="2.1" transform="rotate(35 588.0 1792.9)" fill="#555c61"/>
<ellipse cx="587.3" cy="1797.9" rx="1.6" ry="2.5" transform="rotate(18 587.3 1797.9)" fill="#3b4146"/>
<ellipse cx="593.4" cy="1787.4" rx="1.3" ry="1.4" transform="rotate(95 593.4 1787.4)" fill="#3b4146"/>
<ellipse cx="594.0" cy="1799.3" rx="2.2" ry="3.3" transform="rotate(82 594.0 1799.3)" fill="#3b4146"/>
<ellipse cx="580.7" cy="1797.6" rx="1.4" ry="1.7" transform="rotate(156 580.7 1797.6)" fill="#3b4146"/>
<ellipse cx="595.0" cy="1793.3" rx="1.3" ry="2.3" transform="rotate(103 595.0 1793.3)" fill="#3b4146"/>
<ellipse cx="596.5" cy="1797.1" rx="2.0" ry="3.2" transform="rotate(169 596.5 1797.1)" fill="#3b4146"/>
<ellipse cx="589.4" cy="1826.4" rx="1.8" ry="2.9" transform="rotate(84 589.4 1826.4)" fill="#3b4146"/>
<ellipse cx="590.9" cy="1798.8" rx="1.8" ry="2.9" transform="rotate(51 590.9 1798.8)" fill="#555c61"/>
<ellipse cx="592.3" cy="1795.1" rx="1.9" ry="2.0" transform="rotate(26 592.3 1795.1)" fill="#3b4146"/>
<ellipse cx="591.7" cy="1799.3" rx="1.7" ry="2.8" transform="rotate(165 591.7 1799.3)" fill="#3b4146"/>
<ellipse cx="586.7" cy="1822.7" rx="2.7" ry="4.3" transform="rotate(107 586.7 1822.7)" fill="#3b4146"/>
<ellipse cx="591.4" cy="1795.7" rx="2.9" ry="4.0" transform="rotate(173 591.4 1795.7)" fill="#3b4146"/>
<ellipse cx="581.5" cy="1791.4" rx="2.7" ry="5.3" transform="rotate(110 581.5 1791.4)" fill="#3b4146"/>
<ellipse cx="591.1" cy="1810.1" rx="1.9" ry="2.1" transform="rotate(36 591.1 1810.1)" fill="#3b4146"/>
<ellipse cx="589.7" cy="1790.2" rx="1.5" ry="2.1" transform="rotate(98 589.7 1790.2)" fill="#3b4146"/>
<ellipse cx="590.0" cy="1797.6" rx="1.9" ry="2.2" transform="rotate(40 590.0 1797.6)" fill="#3b4146"/>
<ellipse cx="594.8" cy="1804.2" rx="2.7" ry="4.4" transform="rotate(40 594.8 1804.2)" fill="#3b4146"/>
<ellipse cx="588.4" cy="1790.3" rx="3.1" ry="4.8" transform="rotate(8 588.4 1790.3)" fill="#3b4146"/>
<ellipse cx="585.6" cy="1801.9" rx="1.7" ry="3.3" transform="rotate(156 585.6 1801.9)" fill="#3b4146"/>
<circle cx="568.3" cy="1811.4" r="1.1" fill="#3b4146" opacity="0.8"/>
<circle cx="593.2" cy="1761.6" r="1.0" fill="#3b4146" opacity="0.8"/>
<circle cx="587.2" cy="1837.0" r="1.0" fill="#3b4146" opacity="0.8"/>
<circle cx="608.0" cy="1832.8" r="0.5" fill="#3b4146" opacity="0.8"/>
<circle cx="606.2" cy="1779.4" r="0.6" fill="#3b4146" opacity="0.8"/>
<circle cx="584.7" cy="1803.6" r="0.5" fill="#3b4146" opacity="0.8"/>
<circle cx="588.4" cy="1820.3" r="0.8" fill="#3b4146" opacity="0.8"/>
<circle cx="592.5" cy="1778.6" r="1.1" fill="#3b4146" opacity="0.8"/>
<circle cx="578.0" cy="1811.5" r="0.9" fill="#3b4146" opacity="0.8"/>
<circle cx="565.1" cy="1838.4" r="0.6" fill="#3b4146" opacity="0.8"/>
<line x1="598.2" y1="1796.0" x2="608.4" y2="1848.5" stroke="#3b4146" stroke-width="1.9"/>
<ellipse cx="685.5" cy="1834.5" rx="1.5" ry="1.5" transform="rotate(158 685.5 1834.5)" fill="#555c61"/>
<ellipse cx="667.4" cy="1839.0" rx="2.9" ry="3.6" transform="rotate(61 667.4 1839.0)" fill="#555c61"/>
<ellipse cx="667.6" cy="1838.3" rx="1.7" ry="3.1" transform="rotate(144 667.6 1838.3)" fill="#555c61"/>
<ellipse cx="669.4" cy="1855.0" rx="3.0" ry="3.8" transform="rotate(82 669.4 1855.0)" fill="#3b4146"/>
<ellipse cx="657.0" cy="1851.1" rx="1.9" ry="3.7" transform="rotate(116 657.0 1851.1)" fill="#3b4146"/>
<ellipse cx="662.4" cy="1847.4" rx="2.9" ry="4.4" transform="rotate(170 662.4 1847.4)" fill="#555c61"/>
<ellipse cx="672.3" cy="1841.8" rx="3.1" ry="5.3" transform="rotate(52 672.3 1841.8)" fill="#3b4146"/>
<ellipse cx="662.8" cy="1841.3" rx="3.0" ry="3.3" transform="rotate(9 662.8 1841.3)" fill="#3b4146"/>
<ellipse cx="660.6" cy="1843.5" rx="2.0" ry="2.4" transform="rotate(171 660.6 1843.5)" fill="#3b4146"/>
<ellipse cx="660.8" cy="1856.7" rx="1.7" ry="3.0" transform="rotate(57 660.8 1856.7)" fill="#3b4146"/>
<ellipse cx="673.1" cy="1835.2" rx="1.3" ry="2.4" transform="rotate(85 673.1 1835.2)" fill="#555c61"/>
<ellipse cx="675.6" cy="1852.3" rx="2.2" ry="4.0" transform="rotate(167 675.6 1852.3)" fill="#3b4146"/>
<ellipse cx="668.0" cy="1839.8" rx="3.0" ry="3.5" transform="rotate(90 668.0 1839.8)" fill="#555c61"/>
<ellipse cx="664.9" cy="1841.6" rx="3.2" ry="3.3" transform="rotate(152 664.9 1841.6)" fill="#3b4146"/>
<ellipse cx="651.2" cy="1827.8" rx="2.4" ry="3.0" transform="rotate(15 651.2 1827.8)" fill="#3b4146"/>
<ellipse cx="672.5" cy="1841.4" rx="1.9" ry="2.6" transform="rotate(63 672.5 1841.4)" fill="#3b4146"/>
<ellipse cx="665.0" cy="1836.3" rx="1.8" ry="3.3" transform="rotate(161 665.0 1836.3)" fill="#555c61"/>
<ellipse cx="679.1" cy="1826.1" rx="1.2" ry="1.7" transform="rotate(70 679.1 1826.1)" fill="#3b4146"/>
<ellipse cx="662.9" cy="1840.0" rx="3.2" ry="6.1" transform="rotate(123 662.9 1840.0)" fill="#3b4146"/>
<ellipse cx="665.4" cy="1851.1" rx="1.8" ry="3.1" transform="rotate(61 665.4 1851.1)" fill="#3b4146"/>
<ellipse cx="677.6" cy="1847.2" rx="2.7" ry="4.9" transform="rotate(104 677.6 1847.2)" fill="#3b4146"/>
<ellipse cx="658.2" cy="1868.9" rx="3.0" ry="3.3" transform="rotate(62 658.2 1868.9)" fill="#3b4146"/>
<ellipse cx="667.1" cy="1820.8" rx="3.0" ry="5.4" transform="rotate(1 667.1 1820.8)" fill="#3b4146"/>
<ellipse cx="668.8" cy="1834.9" rx="1.5" ry="2.8" transform="rotate(118 668.8 1834.9)" fill="#3b4146"/>
<ellipse cx="652.6" cy="1827.1" rx="1.9" ry="3.0" transform="rotate(94 652.6 1827.1)" fill="#3b4146"/>
<ellipse cx="672.2" cy="1847.3" rx="2.3" ry="2.6" transform="rotate(127 672.2 1847.3)" fill="#3b4146"/>
<circle cx="687.1" cy="1822.5" r="1.0" fill="#3b4146" opacity="0.8"/>
<circle cx="701.4" cy="1859.6" r="0.7" fill="#3b4146" opacity="0.8"/>
<circle cx="652.4" cy="1798.5" r="0.7" fill="#3b4146" opacity="0.8"/>
<circle cx="702.2" cy="1790.5" r="1.0" fill="#3b4146" opacity="0.8"/>
<circle cx="681.5" cy="1873.6" r="0.6" fill="#3b4146" opacity="0.8"/>
<circle cx="678.0" cy="1807.2" r="0.9" fill="#3b4146" opacity="0.8"/>
<circle cx="688.2" cy="1866.4" r="0.8" fill="#3b4146" opacity="0.8"/>
<circle cx="694.4" cy="1809.9" r="0.6" fill="#3b4146" opacity="0.8"/>
<circle cx="693.1" cy="1790.0" r="0.8" fill="#3b4146" opacity="0.8"/>
<circle cx="662.5" cy="1884.3" r="0.7" fill="#3b4146" opacity="0.8"/>
<line x1="669.4" y1="1841.0" x2="675.5" y2="1897.7" stroke="#3b4146" stroke-width="1.6"/>
<ellipse cx="566.0" cy="1931.3" rx="1.8" ry="2.9" transform="rotate(47 566.0 1931.3)" fill="#3b4146"/>
<ellipse cx="576.5" cy="1916.4" rx="1.0" ry="1.4" transform="rotate(26 576.5 1916.4)" fill="#3b4146"/>
<ellipse cx="577.5" cy="1907.0" rx="2.6" ry="5.0" transform="rotate(145 577.5 1907.0)" fill="#3b4146"/>
<ellipse cx="563.4" cy="1894.0" rx="1.1" ry="1.7" transform="rotate(53 563.4 1894.0)" fill="#3b4146"/>
<ellipse cx="578.8" cy="1922.7" rx="2.4" ry="3.4" transform="rotate(116 578.8 1922.7)" fill="#3b4146"/>
<ellipse cx="590.3" cy="1914.1" rx="1.5" ry="3.0" transform="rotate(150 590.3 1914.1)" fill="#3b4146"/>
<ellipse cx="581.3" cy="1906.2" rx="1.3" ry="1.9" transform="rotate(12 581.3 1906.2)" fill="#3b4146"/>
<ellipse cx="577.4" cy="1916.3" rx="2.3" ry="4.2" transform="rotate(88 577.4 1916.3)" fill="#3b4146"/>
<ellipse cx="605.7" cy="1903.5" rx="1.8" ry="2.7" transform="rotate(4 605.7 1903.5)" fill="#3b4146"/>
<ellipse cx="581.1" cy="1921.7" rx="1.4" ry="1.9" transform="rotate(97 581.1 1921.7)" fill="#3b4146"/>
<ellipse cx="571.1" cy="1907.9" rx="1.9" ry="3.4" transform="rotate(118 571.1 1907.9)" fill="#555c61"/>
<ellipse cx="581.8" cy="1910.1" rx="1.4" ry="1.5" transform="rotate(22 581.8 1910.1)" fill="#3b4146"/>
<ellipse cx="606.4" cy="1919.5" rx="1.2" ry="2.4" transform="rotate(138 606.4 1919.5)" fill="#3b4146"/>
<ellipse cx="594.4" cy="1940.0" rx="2.1" ry="2.5" transform="rotate(2 594.4 1940.0)" fill="#3b4146"/>
<ellipse cx="570.7" cy="1916.9" rx="1.3" ry="1.3" transform="rotate(84 570.7 1916.9)" fill="#3b4146"/>
<ellipse cx="577.5" cy="1914.2" rx="1.8" ry="1.9" transform="rotate(36 577.5 1914.2)" fill="#3b4146"/>
<ellipse cx="568.6" cy="1902.6" rx="1.2" ry="1.7" transform="rotate(19 568.6 1902.6)" fill="#3b4146"/>
<ellipse cx="585.2" cy="1924.0" rx="1.8" ry="2.2" transform="rotate(159 585.2 1924.0)" fill="#555c61"/>
<ellipse cx="586.3" cy="1910.3" rx="1.3" ry="2.4" transform="rotate(155 586.3 1910.3)" fill="#3b4146"/>
<ellipse cx="579.3" cy="1922.8" rx="1.7" ry="2.3" transform="rotate(53 579.3 1922.8)" fill="#3b4146"/>
<ellipse cx="606.5" cy="1944.3" rx="1.5" ry="2.4" transform="rotate(85 606.5 1944.3)" fill="#3b4146"/>
<ellipse cx="555.8" cy="1904.9" rx="1.9" ry="2.0" transform="rotate(114 555.8 1904.9)" fill="#3b4146"/>
<ellipse cx="576.8" cy="1915.9" rx="1.8" ry="3.1" transform="rotate(9 576.8 1915.9)" fill="#555c61"/>
<ellipse cx="570.2" cy="1930.4" rx="1.3" ry="1.8" transform="rotate(70 570.2 1930.4)" fill="#3b4146"/>
<ellipse cx="582.6" cy="1943.4" rx="2.1" ry="2.9" transform="rotate(112 582.6 1943.4)" fill="#3b4146"/>
<ellipse cx="585.7" cy="1920.6" rx="2.6" ry="4.2" transform="rotate(27 585.7 1920.6)" fill="#3b4146"/>
<ellipse cx="582.4" cy="1916.8" rx="1.9" ry="3.5" transform="rotate(119 582.4 1916.8)" fill="#555c61"/>
<ellipse cx="570.3" cy="1909.5" rx="2.3" ry="3.5" transform="rotate(111 570.3 1909.5)" fill="#555c61"/>
<ellipse cx="581.8" cy="1906.7" rx="2.0" ry="3.4" transform="rotate(135 581.8 1906.7)" fill="#3b4146"/>
<ellipse cx="578.7" cy="1917.6" rx="1.2" ry="2.3" transform="rotate(131 578.7 1917.6)" fill="#3b4146"/>
<ellipse cx="595.4" cy="1917.7" rx="1.3" ry="2.1" transform="rotate(136 595.4 1917.7)" fill="#3b4146"/>
<ellipse cx="607.6" cy="1943.2" rx="2.6" ry="3.2" transform="rotate(79 607.6 1943.2)" fill="#3b4146"/>
<ellipse cx="580.6" cy="1923.3" rx="1.1" ry="1.8" transform="rotate(140 580.6 1923.3)" fill="#3b4146"/>
<ellipse cx="578.6" cy="1914.4" rx="1.7" ry="1.9" transform="rotate(156 578.6 1914.4)" fill="#3b4146"/>
<ellipse cx="567.3" cy="1924.4" rx="1.3" ry="1.9" transform="rotate(3 567.3 1924.4)" fill="#3b4146"/>
<ellipse cx="582.4" cy="1928.8" rx="1.2" ry="1.6" transform="rotate(141 582.4 1928.8)" fill="#555c61"/>
<ellipse cx="557.3" cy="1905.1" rx="2.0" ry="3.9" transform="rotate(63 557.3 1905.1)" fill="#3b4146"/>
<ellipse cx="569.1" cy="1906.3" rx="1.7" ry="2.0" transform="rotate(10 569.1 1906.3)" fill="#555c61"/>
<ellipse cx="605.3" cy="1925.0" rx="1.8" ry="2.0" transform="rotate(174 605.3 1925.0)" fill="#555c61"/>
<ellipse cx="588.2" cy="1934.7" rx="2.5" ry="4.0" transform="rotate(111 588.2 1934.7)" fill="#3b4146"/>
<ellipse cx="607.0" cy="1913.0" rx="1.1" ry="1.7" transform="rotate(97 607.0 1913.0)" fill="#555c61"/>
<ellipse cx="595.8" cy="1914.7" rx="1.6" ry="2.5" transform="rotate(54 595.8 1914.7)" fill="#3b4146"/>
<ellipse cx="586.0" cy="1927.9" rx="2.1" ry="2.2" transform="rotate(124 586.0 1927.9)" fill="#3b4146"/>
<ellipse cx="583.6" cy="1915.3" rx="2.1" ry="2.7" transform="rotate(172 583.6 1915.3)" fill="#3b4146"/>
<ellipse cx="577.0" cy="1918.4" rx="2.4" ry="3.0" transform="rotate(55 577.0 1918.4)" fill="#555c61"/>
<circle cx="594.8" cy="1965.6" r="1.0" fill="#3b4146" opacity="0.8"/>
<circle cx="524.4" cy="1877.6" r="1.0" fill="#3b4146" opacity="0.8"/>
<circle cx="567.0" cy="1965.5" r="0.8" fill="#3b4146" opacity="0.8"/>
<circle cx="615.5" cy="1888.4" r="1.1" fill="#3b4146" opacity="0.8"/>
<circle cx="575.1" cy="1865.9" r="0.6" fill="#3b4146" opacity="0.8"/>
<circle cx="531.2" cy="1909.5" r="1.1" fill="#3b4146" opacity="0.8"/>
<circle cx="630.7" cy="1962.9" r="0.7" fill="#3b4146" opacity="0.8"/>
<circle cx="608.2" cy="1943.5" r="1.0" fill="#3b4146" opacity="0.8"/>
<circle cx="630.5" cy="1953.0" r="1.0" fill="#3b4146" opacity="0.8"/>
<circle cx="557.5" cy="1883.3" r="0.8" fill="#3b4146" opacity="0.8"/>
<line x1="571.3" y1="1918.0" x2="588.4" y2="1960.2" stroke="#3b4146" stroke-width="1.4"/>
<line x1="585.4" y1="1918.0" x2="582.5" y2="1958.0" stroke="#3b4146" stroke-width="1.2"/>
<line x1="562.6" y1="1918.0" x2="561.4" y2="1977.7" stroke="#3b4146" stroke-width="1.4"/>
<line x1="565.4" y1="1918.0" x2="575.4" y2="1966.2" stroke="#3b4146" stroke-width="1.2"/>
<ellipse cx="676.7" cy="1950.5" rx="1.5" ry="2.6" transform="rotate(119 676.7 1950.5)" fill="#3b4146"/>
<ellipse cx="707.0" cy="1969.6" rx="1.1" ry="1.9" transform="rotate(45 707.0 1969.6)" fill="#3b4146"/>
<ellipse cx="677.7" cy="1951.9" rx="2.6" ry="5.2" transform="rotate(11 677.7 1951.9)" fill="#3b4146"/>
<ellipse cx="694.9" cy="1931.8" rx="2.5" ry="4.3" transform="rotate(101 694.9 1931.8)" fill="#3b4146"/>
<ellipse cx="690.5" cy="1950.9" rx="2.5" ry="3.3" transform="rotate(15 690.5 1950.9)" fill="#3b4146"/>
<ellipse cx="700.1" cy="1946.5" rx="1.8" ry="2.1" transform="rotate(146 700.1 1946.5)" fill="#555c61"/>
<ellipse cx="687.8" cy="1950.1" rx="1.7" ry="2.9" transform="rotate(64 687.8 1950.1)" fill="#3b4146"/>
<ellipse cx="688.0" cy="1951.7" rx="1.7" ry="3.1" transform="rotate(43 688.0 1951.7)" fill="#3b4146"/>
<ellipse cx="674.1" cy="1946.9" rx="1.6" ry="2.9" transform="rotate(35 674.1 1946.9)" fill="#3b4146"/>
<ellipse cx="684.0" cy="1949.6" rx="2.0" ry="2.2" transform="rotate(119 684.0 1949.6)" fill="#3b4146"/>
<ellipse cx="690.8" cy="1949.7" rx="2.6" ry="3.3" transform="rotate(2 690.8 1949.7)" fill="#3b4146"/>
<ellipse cx="687.2" cy="1941.9" rx="1.6" ry="2.1" transform="rotate(114 687.2 1941.9)" fill="#3b4146"/>
<ellipse cx="686.8" cy="1950.2" rx="2.7" ry="2.8" transform="rotate(102 686.8 1950.2)" fill="#555c61"/>
<ellipse cx="685.3" cy="1947.8" rx="1.7" ry="3.3" transform="rotate(106 685.3 1947.8)" fill="#3b4146"/>
<ellipse cx="684.7" cy="1954.0" rx="1.3" ry="1.5" transform="rotate(152 684.7 1954.0)" fill="#3b4146"/>
<ellipse cx="678.8" cy="1950.0" rx="2.4" ry="4.3" transform="rotate(9 678.8 1950.0)" fill="#555c61"/>
<ellipse cx="702.0" cy="1944.0" rx="2.4" ry="3.4" transform="rotate(14 702.0 1944.0)" fill="#3b4146"/>
<ellipse cx="696.5" cy="1958.0" rx="2.1" ry="3.2" transform="rotate(48 696.5 1958.0)" fill="#3b4146"/>
<ellipse cx="689.7" cy="1956.8" rx="1.8" ry="2.7" transform="rotate(100 689.7 1956.8)" fill="#3b4146"/>
<ellipse cx="669.0" cy="1950.1" rx="1.8" ry="3.1" transform="rotate(41 669.0 1950.1)" fill="#555c61"/>
<ellipse cx="685.3" cy="1956.0" rx="1.1" ry="1.7" transform="rotate(76 685.3 1956.0)" fill="#3b4146"/>
<ellipse cx="695.1" cy="1945.2" rx="1.6" ry="3.0" transform="rotate(100 695.1 1945.2)" fill="#3b4146"/>
<ellipse cx="667.3" cy="1934.1" rx="2.3" ry="3.1" transform="rotate(106 667.3 1934.1)" fill="#3b4146"/>
<ellipse cx="661.2" cy="1948.8" rx="1.9" ry="3.0" transform="rotate(127 661.2 1948.8)" fill="#3b4146"/>
<ellipse cx="688.1" cy="1939.3" rx="1.9" ry="2.8" transform="rotate(2 688.1 1939.3)" fill="#3b4146"/>
<ellipse cx="686.7" cy="1956.2" rx="2.7" ry="4.0" transform="rotate(135 686.7 1956.2)" fill="#555c61"/>
<ellipse cx="687.4" cy="1953.6" rx="2.2" ry="3.3" transform="rotate(163 687.4 1953.6)" fill="#3b4146"/>
<ellipse cx="676.3" cy="1942.4" rx="2.7" ry="5.2" transform="rotate(151 676.3 1942.4)" fill="#3b4146"/>
<ellipse cx="706.0" cy="1955.3" rx="1.4" ry="2.6" transform="rotate(143 706.0 1955.3)" fill="#3b4146"/>
<ellipse cx="683.0" cy="1954.1" rx="1.1" ry="1.3" transform="rotate(97 683.0 1954.1)" fill="#3b4146"/>
<ellipse cx="686.0" cy="1960.8" rx="2.4" ry="3.4" transform="rotate(1 686.0 1960.8)" fill="#555c61"/>
<ellipse cx="687.0" cy="1939.3" rx="1.6" ry="2.9" transform="rotate(6 687.0 1939.3)" fill="#3b4146"/>
<ellipse cx="686.7" cy="1949.7" rx="1.6" ry="2.0" transform="rotate(89 686.7 1949.7)" fill="#3b4146"/>
<ellipse cx="684.9" cy="1962.4" rx="1.2" ry="2.1" transform="rotate(56 684.9 1962.4)" fill="#3b4146"/>
<ellipse cx="688.7" cy="1957.4" rx="2.7" ry="3.1" transform="rotate(53 688.7 1957.4)" fill="#3b4146"/>
<ellipse cx="681.4" cy="1954.5" rx="1.9" ry="2.9" transform="rotate(137 681.4 1954.5)" fill="#3b4146"/>
<ellipse cx="690.7" cy="1957.7" rx="1.9" ry="3.5" transform="rotate(159 690.7 1957.7)" fill="#3b4146"/>
<ellipse cx="689.5" cy="1951.3" rx="1.7" ry="2.0" transform="rotate(128 689.5 1951.3)" fill="#3b4146"/>
<ellipse cx="688.6" cy="1942.4" rx="2.3" ry="4.2" transform="rotate(52 688.6 1942.4)" fill="#3b4146"/>
<ellipse cx="687.2" cy="1956.8" rx="1.4" ry="1.5" transform="rotate(22 687.2 1956.8)" fill="#3b4146"/>
<ellipse cx="664.8" cy="1953.1" rx="1.7" ry="3.2" transform="rotate(13 664.8 1953.1)" fill="#3b4146"/>
<ellipse cx="681.4" cy="1961.3" rx="2.3" ry="4.6" transform="rotate(134 681.4 1961.3)" fill="#3b4146"/>
<ellipse cx="680.8" cy="1969.1" rx="1.9" ry="2.1" transform="rotate(147 680.8 1969.1)" fill="#3b4146"/>
<ellipse cx="702.2" cy="1938.3" rx="2.1" ry="3.8" transform="rotate(43 702.2 1938.3)" fill="#3b4146"/>
<ellipse cx="690.5" cy="1967.5" rx="1.8" ry="1.9" transform="rotate(73 690.5 1967.5)" fill="#3b4146"/>
<circle cx="716.8" cy="1929.2" r="0.7" fill="#3b4146" opacity="0.8"/>
<circle cx="653.2" cy="1957.3" r="0.5" fill="#3b4146" opacity="0.8"/>
<circle cx="699.7" cy="1951.4" r="0.8" fill="#3b4146" opacity="0.8"/>
<circle cx="669.5" cy="1936.8" r="1.0" fill="#3b4146" opacity="0.8"/>
<circle cx="719.1" cy="1971.4" r="0.6" fill="#3b4146" opacity="0.8"/>
<circle cx="665.7" cy="1941.4" r="1.0" fill="#3b4146" opacity="0.8"/>
<circle cx="719.2" cy="1931.2" r="0.9" fill="#3b4146" opacity="0.8"/>
<circle cx="678.2" cy="1948.6" r="0.6" fill="#3b4146" opacity="0.8"/>
<circle cx="703.1" cy="1973.7" r="1.1" fill="#3b4146" opacity="0.8"/>
<circle cx="685.8" cy="1947.5" r="0.9" fill="#3b4146" opacity="0.8"/>
<ellipse cx="586.9" cy="2061.3" rx="1.6" ry="2.4" transform="rotate(86 586.9 2061.3)" fill="#3b4146"/>
<ellipse cx="573.3" cy="2056.8" rx="1.7" ry="2.9" transform="rotate(58 573.3 2056.8)" fill="#3b4146"/>
<ellipse cx="581.0" cy="2045.1" rx="3.1" ry="3.8" transform="rotate(132 581.0 2045.1)" fill="#3b4146"/>
<ellipse cx="559.0" cy="2036.0" rx="1.6" ry="3.0" transform="rotate(150 559.0 2036.0)" fill="#3b4146"/>
<ellipse cx="584.1" cy="2053.7" rx="3.2" ry="5.4" transform="rotate(97 584.1 2053.7)" fill="#3b4146"/>
<ellipse cx="582.7" cy="2051.8" rx="2.3" ry="3.6" transform="rotate(55 582.7 2051.8)" fill="#555c61"/>
<ellipse cx="608.0" cy="2081.1" rx="1.5" ry="2.4" transform="rotate(29 608.0 2081.1)" fill="#3b4146"/>
<ellipse cx="585.2" cy="2058.9" rx="2.6" ry="3.6" transform="rotate(86 585.2 2058.9)" fill="#3b4146"/>
<ellipse cx="588.3" cy="2057.3" rx="2.3" ry="4.1" transform="rotate(148 588.3 2057.3)" fill="#3b4146"/>
<ellipse cx="566.3" cy="2046.2" rx="1.4" ry="1.6" transform="rotate(14 566.3 2046.2)" fill="#3b4146"/>
<ellipse cx="578.4" cy="2043.0" rx="3.0" ry="5.4" transform="rotate(147 578.4 2043.0)" fill="#3b4146"/>
<ellipse cx="582.9" cy="2049.8" rx="2.3" ry="2.6" transform="rotate(124 582.9 2049.8)" fill="#555c61"/>
<ellipse cx="603.6" cy="2029.8" rx="1.6" ry="2.0" transform="rotate(71 603.6 2029.8)" fill="#3b4146"/>
<ellipse cx="582.9" cy="2048.4" rx="1.5" ry="2.7" transform="rotate(54 582.9 2048.4)" fill="#3b4146"/>
<ellipse cx="596.6" cy="2070.0" rx="1.2" ry="1.4" transform="rotate(29 596.6 2070.0)" fill="#3b4146"/>
<ellipse cx="584.0" cy="2052.2" rx="2.5" ry="3.8" transform="rotate(101 584.0 2052.2)" fill="#3b4146"/>
<ellipse cx="564.8" cy="2059.7" rx="2.7" ry="3.8" transform="rotate(110 564.8 2059.7)" fill="#3b4146"/>
<ellipse cx="569.6" cy="2056.4" rx="2.0" ry="3.9" transform="rotate(27 569.6 2056.4)" fill="#555c61"/>
<ellipse cx="587.7" cy="2062.1" rx="2.7" ry="2.8" transform="rotate(149 587.7 2062.1)" fill="#3b4146"/>
<ellipse cx="613.0" cy="2034.9" rx="2.7" ry="5.4" transform="rotate(94 613.0 2034.9)" fill="#3b4146"/>
<ellipse cx="584.4" cy="2052.8" rx="2.9" ry="5.2" transform="rotate(23 584.4 2052.8)" fill="#3b4146"/>
<ellipse cx="582.2" cy="2060.2" rx="2.4" ry="3.2" transform="rotate(109 582.2 2060.2)" fill="#3b4146"/>
<ellipse cx="586.6" cy="2051.6" rx="2.0" ry="3.5" transform="rotate(179 586.6 2051.6)" fill="#3b4146"/>
<ellipse cx="598.2" cy="2054.3" rx="3.1" ry="3.2" transform="rotate(46 598.2 2054.3)" fill="#555c61"/>
<ellipse cx="583.7" cy="2055.4" rx="1.5" ry="2.1" transform="rotate(19 583.7 2055.4)" fill="#3b4146"/>
<ellipse cx="588.6" cy="2043.7" rx="2.9" ry="5.3" transform="rotate(140 588.6 2043.7)" fill="#3b4146"/>
<circle cx="586.7" cy="2004.0" r="0.9" fill="#3b4146" opacity="0.8"/>
<circle cx="617.6" cy="2099.0" r="1.1" fill="#3b4146" opacity="0.8"/>
<circle cx="553.7" cy="2109.6" r="0.6" fill="#3b4146" opacity="0.8"/>
<circle cx="571.8" cy="2057.6" r="0.9" fill="#3b4146" opacity="0.8"/>
<circle cx="586.7" cy="2101.4" r="1.0" fill="#3b4146" opacity="0.8"/>
<circle cx="616.2" cy="2074.0" r="0.8" fill="#3b4146" opacity="0.8"/>
<circle cx="541.0" cy="2070.5" r="1.1" fill="#3b4146" opacity="0.8"/>
<circle cx="556.3" cy="2112.1" r="0.5" fill="#3b4146" opacity="0.8"/>
<circle cx="574.8" cy="2082.9" r="0.9" fill="#3b4146" opacity="0.8"/>
<circle cx="590.9" cy="2026.9" r="0.6" fill="#3b4146" opacity="0.8"/>
<line x1="574.8" y1="2053.0" x2="586.0" y2="2096.1" stroke="#3b4146" stroke-width="1.3"/>
<line x1="589.6" y1="2053.0" x2="596.4" y2="2096.1" stroke="#3b4146" stroke-width="1.5"/>
<line x1="594.9" y1="2053.0" x2="603.1" y2="2104.6" stroke="#3b4146" stroke-width="1.3"/>
<line x1="584.0" y1="2053.0" x2="586.2" y2="2104.8" stroke="#3b4146" stroke-width="1.2"/>
<ellipse cx="933.3" cy="1533.4" rx="2.2" ry="3.9" transform="rotate(145 933.3 1533.4)" fill="#3b4146"/>
<ellipse cx="913.7" cy="1530.4" rx="2.2" ry="2.2" transform="rotate(67 913.7 1530.4)" fill="#3b4146"/>
<ellipse cx="912.9" cy="1526.6" rx="1.7" ry="1.7" transform="rotate(180 912.9 1526.6)" fill="#3b4146"/>
<ellipse cx="929.3" cy="1527.0" rx="3.0" ry="3.1" transform="rotate(59 929.3 1527.0)" fill="#3b4146"/>
<ellipse cx="907.2" cy="1531.2" rx="1.9" ry="3.5" transform="rotate(22 907.2 1531.2)" fill="#3b4146"/>
<ellipse cx="948.2" cy="1527.1" rx="2.1" ry="2.8" transform="rotate(87 948.2 1527.1)" fill="#3b4146"/>
<ellipse cx="939.3" cy="1540.7" rx="1.7" ry="2.0" transform="rotate(174 939.3 1540.7)" fill="#3b4146"/>
<ellipse cx="934.5" cy="1529.5" rx="2.7" ry="4.3" transform="rotate(131 934.5 1529.5)" fill="#3b4146"/>
<ellipse cx="946.5" cy="1538.0" rx="1.6" ry="3.0" transform="rotate(74 946.5 1538.0)" fill="#555c61"/>
<ellipse cx="927.7" cy="1532.1" rx="2.1" ry="4.2" transform="rotate(70 927.7 1532.1)" fill="#3b4146"/>
<ellipse cx="946.2" cy="1532.2" rx="3.2" ry="4.8" transform="rotate(99 946.2 1532.2)" fill="#3b4146"/>
<ellipse cx="929.9" cy="1526.2" rx="1.6" ry="2.6" transform="rotate(112 929.9 1526.2)" fill="#3b4146"/>
<ellipse cx="932.3" cy="1533.2" rx="3.1" ry="4.9" transform="rotate(55 932.3 1533.2)" fill="#3b4146"/>
<ellipse cx="938.0" cy="1533.6" rx="1.3" ry="2.4" transform="rotate(67 938.0 1533.6)" fill="#555c61"/>
<ellipse cx="925.2" cy="1526.3" rx="3.1" ry="6.2" transform="rotate(173 925.2 1526.3)" fill="#3b4146"/>
<ellipse cx="910.1" cy="1525.4" rx="3.0" ry="4.1" transform="rotate(44 910.1 1525.4)" fill="#3b4146"/>
<ellipse cx="931.7" cy="1530.2" rx="2.8" ry="4.2" transform="rotate(151 931.7 1530.2)" fill="#3b4146"/>
<ellipse cx="933.8" cy="1531.6" rx="1.7" ry="2.4" transform="rotate(31 933.8 1531.6)" fill="#3b4146"/>
<ellipse cx="942.6" cy="1533.6" rx="3.2" ry="4.7" transform="rotate(45 942.6 1533.6)" fill="#3b4146"/>
<ellipse cx="951.8" cy="1528.5" rx="2.3" ry="2.3" transform="rotate(38 951.8 1528.5)" fill="#3b4146"/>
<ellipse cx="933.8" cy="1528.3" rx="2.4" ry="3.8" transform="rotate(153 933.8 1528.3)" fill="#3b4146"/>
<ellipse cx="921.3" cy="1541.0" rx="2.3" ry="4.0" transform="rotate(2 921.3 1541.0)" fill="#3b4146"/>
<ellipse cx="929.0" cy="1530.0" rx="2.4" ry="4.4" transform="rotate(105 929.0 1530.0)" fill="#3b4146"/>
<ellipse cx="930.0" cy="1531.3" rx="2.0" ry="3.8" transform="rotate(24 930.0 1531.3)" fill="#555c61"/>
<ellipse cx="931.9" cy="1531.6" rx="2.1" ry="3.9" transform="rotate(118 931.9 1531.6)" fill="#3b4146"/>
<ellipse cx="931.1" cy="1531.5" rx="2.3" ry="3.4" transform="rotate(40 931.1 1531.5)" fill="#3b4146"/>
<circle cx="904.3" cy="1520.4" r="0.7" fill="#3b4146" opacity="0.8"/>
<circle cx="946.2" cy="1532.7" r="0.5" fill="#3b4146" opacity="0.8"/>
<circle cx="946.2" cy="1543.6" r="1.0" fill="#3b4146" opacity="0.8"/>
<circle cx="952.4" cy="1514.5" r="0.8" fill="#3b4146" opacity="0.8"/>
<circle cx="896.4" cy="1539.9" r="0.6" fill="#3b4146" opacity="0.8"/>
<circle cx="946.3" cy="1522.7" r="0.9" fill="#3b4146" opacity="0.8"/>
<circle cx="915.6" cy="1515.6" r="0.7" fill="#3b4146" opacity="0.8"/>
<circle cx="915.3" cy="1544.5" r="0.7" fill="#3b4146" opacity="0.8"/>
<circle cx="930.2" cy="1532.7" r="1.1" fill="#3b4146" opacity="0.8"/>
<circle cx="899.1" cy="1534.4" r="0.8" fill="#3b4146" opacity="0.8"/>
<ellipse cx="829.6" cy="1621.6" rx="3.2" ry="3.6" transform="rotate(117 829.6 1621.6)" fill="#3b4146"/>
<ellipse cx="826.9" cy="1623.7" rx="3.0" ry="5.8" transform="rotate(58 826.9 1623.7)" fill="#3b4146"/>
<ellipse cx="815.0" cy="1611.8" rx="3.0" ry="3.2" transform="rotate(159 815.0 1611.8)" fill="#3b4146"/>
<ellipse cx="821.8" cy="1617.8" rx="1.8" ry="3.4" transform="rotate(105 821.8 1617.8)" fill="#3b4146"/>
<ellipse cx="832.1" cy="1620.2" rx="2.3" ry="3.8" transform="rotate(47 832.1 1620.2)" fill="#3b4146"/>
<ellipse cx="853.0" cy="1614.6" rx="1.8" ry="3.6" transform="rotate(117 853.0 1614.6)" fill="#3b4146"/>
<ellipse cx="833.0" cy="1628.5" rx="1.6" ry="2.4" transform="rotate(6 833.0 1628.5)" fill="#3b4146"/>
<ellipse cx="841.8" cy="1614.6" rx="2.2" ry="3.1" transform="rotate(119 841.8 1614.6)" fill="#3b4146"/>
<ellipse cx="831.5" cy="1619.9" rx="2.4" ry="3.8" transform="rotate(98 831.5 1619.9)" fill="#3b4146"/>
<ellipse cx="818.3" cy="1626.5" rx="2.5" ry="2.8" transform="rotate(179 818.3 1626.5)" fill="#3b4146"/>
<ellipse cx="821.3" cy="1631.0" rx="3.1" ry="4.6" transform="rotate(72 821.3 1631.0)" fill="#555c61"/>
<ellipse cx="832.1" cy="1625.0" rx="3.0" ry="4.6" transform="rotate(63 832.1 1625.0)" fill="#3b4146"/>
<ellipse cx="825.8" cy="1626.4" rx="1.3" ry="2.3" transform="rotate(116 825.8 1626.4)" fill="#3b4146"/>
<ellipse cx="829.8" cy="1628.0" rx="2.6" ry="3.7" transform="rotate(149 829.8 1628.0)" fill="#3b4146"/>
<ellipse cx="847.3" cy="1610.9" rx="2.2" ry="3.5" transform="rotate(178 847.3 1610.9)" fill="#3b4146"/>
<ellipse cx="827.8" cy="1616.1" rx="2.1" ry="3.5" transform="rotate(64 827.8 1616.1)" fill="#3b4146"/>
<ellipse cx="829.4" cy="1615.0" rx="3.1" ry="4.6" transform="rotate(114 829.4 1615.0)" fill="#3b4146"/>
<ellipse cx="820.2" cy="1634.9" rx="1.5" ry="2.2" transform="rotate(48 820.2 1634.9)" fill="#3b4146"/>
<ellipse cx="838.3" cy="1624.9" rx="1.4" ry="1.8" transform="rotate(156 838.3 1624.9)" fill="#3b4146"/>
<ellipse cx="828.9" cy="1624.1" rx="1.8" ry="2.6" transform="rotate(37 828.9 1624.1)" fill="#3b4146"/>
<ellipse cx="826.6" cy="1624.2" rx="2.9" ry="4.0" transform="rotate(153 826.6 1624.2)" fill="#3b4146"/>
<ellipse cx="853.4" cy="1627.7" rx="1.6" ry="2.2" transform="rotate(135 853.4 1627.7)" fill="#3b4146"/>
<ellipse cx="826.3" cy="1613.0" rx="1.7" ry="1.8" transform="rotate(120 826.3 1613.0)" fill="#3b4146"/>
<ellipse cx="829.1" cy="1623.7" rx="3.0" ry="3.1" transform="rotate(90 829.1 1623.7)" fill="#3b4146"/>
<ellipse cx="817.6" cy="1613.6" rx="1.3" ry="1.3" transform="rotate(114 817.6 1613.6)" fill="#3b4146"/>
<ellipse cx="831.5" cy="1621.7" rx="2.9" ry="4.4" transform="rotate(25 831.5 1621.7)" fill="#3b4146"/>
<circle cx="816.5" cy="1650.0" r="1.0" fill="#3b4146" opacity="0.8"/>
<circle cx="792.3" cy="1612.8" r="0.9" fill="#3b4146" opacity="0.8"/>
<circle cx="804.4" cy="1645.3" r="1.0" fill="#3b4146" opacity="0.8"/>
<circle cx="831.7" cy="1611.4" r="1.0" fill="#3b4146" opacity="0.8"/>
<circle cx="828.9" cy="1598.0" r="0.7" fill="#3b4146" opacity="0.8"/>
<circle cx="803.2" cy="1648.1" r="0.8" fill="#3b4146" opacity="0.8"/>
<circle cx="842.3" cy="1646.4" r="1.1" fill="#3b4146" opacity="0.8"/>
<circle cx="805.5" cy="1614.7" r="1.0" fill="#3b4146" opacity="0.8"/>
<circle cx="847.1" cy="1613.3" r="0.9" fill="#3b4146" opacity="0.8"/>
<circle cx="805.8" cy="1596.0" r="0.5" fill="#3b4146" opacity="0.8"/>
<line x1="825.5" y1="1622.0" x2="827.2" y2="1660.9" stroke="#3b4146" stroke-width="2.0"/>
<ellipse cx="964.3" cy="1710.1" rx="1.4" ry="1.9" transform="rotate(95 964.3 1710.1)" fill="#3b4146"/>
<ellipse cx="947.0" cy="1728.4" rx="1.6" ry="1.9" transform="rotate(82 947.0 1728.4)" fill="#3b4146"/>
<ellipse cx="958.4" cy="1724.7" rx="2.0" ry="3.5" transform="rotate(65 958.4 1724.7)" fill="#3b4146"/>
<ellipse cx="950.9" cy="1725.7" rx="2.8" ry="4.6" transform="rotate(112 950.9 1725.7)" fill="#3b4146"/>
<ellipse cx="955.1" cy="1719.4" rx="1.9" ry="3.2" transform="rotate(57 955.1 1719.4)" fill="#3b4146"/>
<ellipse cx="955.4" cy="1730.6" rx="2.1" ry="3.4" transform="rotate(81 955.4 1730.6)" fill="#3b4146"/>
<ellipse cx="938.9" cy="1719.4" rx="1.8" ry="2.2" transform="rotate(21 938.9 1719.4)" fill="#555c61"/>
<ellipse cx="947.1" cy="1726.3" rx="1.3" ry="2.0" transform="rotate(148 947.1 1726.3)" fill="#3b4146"/>
<ellipse cx="937.4" cy="1728.4" rx="1.8" ry="2.8" transform="rotate(47 937.4 1728.4)" fill="#3b4146"/>
<ellipse cx="947.1" cy="1726.9" rx="2.8" ry="5.1" transform="rotate(43 947.1 1726.9)" fill="#3b4146"/>
<ellipse cx="926.4" cy="1717.7" rx="3.1" ry="6.1" transform="rotate(10 926.4 1717.7)" fill="#3b4146"/>
<ellipse cx="933.6" cy="1726.3" rx="1.2" ry="2.1" transform="rotate(175 933.6 1726.3)" fill="#555c61"/>
<ellipse cx="946.2" cy="1707.5" rx="3.2" ry="4.3" transform="rotate(175 946.2 1707.5)" fill="#3b4146"/>
<ellipse cx="937.3" cy="1725.6" rx="1.6" ry="2.3" transform="rotate(35 937.3 1725.6)" fill="#3b4146"/>
<ellipse cx="948.9" cy="1718.5" rx="1.4" ry="1.6" transform="rotate(98 948.9 1718.5)" fill="#3b4146"/>
<ellipse cx="942.1" cy="1719.4" rx="1.7" ry="3.2" transform="rotate(80 942.1 1719.4)" fill="#3b4146"/>
<ellipse cx="930.7" cy="1737.6" rx="3.0" ry="4.2" transform="rotate(125 930.7 1737.6)" fill="#3b4146"/>
<ellipse cx="948.2" cy="1708.9" rx="2.5" ry="3.2" transform="rotate(74 948.2 1708.9)" fill="#3b4146"/>
<ellipse cx="943.1" cy="1706.7" rx="2.9" ry="4.7" transform="rotate(60 943.1 1706.7)" fill="#3b4146"/>
<ellipse cx="935.6" cy="1719.9" rx="2.9" ry="5.6" transform="rotate(14 935.6 1719.9)" fill="#3b4146"/>
<ellipse cx="932.5" cy="1718.5" rx="2.3" ry="3.4" transform="rotate(129 932.5 1718.5)" fill="#3b4146"/>
<ellipse cx="943.5" cy="1722.1" rx="2.0" ry="2.2" transform="rotate(156 943.5 1722.1)" fill="#3b4146"/>
<ellipse cx="942.0" cy="1725.2" rx="2.1" ry="2.3" transform="rotate(126 942.0 1725.2)" fill="#3b4146"/>
<ellipse cx="933.8" cy="1722.9" rx="2.6" ry="4.0" transform="rotate(95 933.8 1722.9)" fill="#3b4146"/>
<ellipse cx="939.7" cy="1726.3" rx="3.0" ry="4.4" transform="rotate(140 939.7 1726.3)" fill="#555c61"/>
<ellipse cx="939.5" cy="1719.1" rx="2.4" ry="3.2" transform="rotate(63 939.5 1719.1)" fill="#3b4146"/>
<circle cx="924.9" cy="1759.3" r="0.7" fill="#3b4146" opacity="0.8"/>
<circle cx="931.9" cy="1715.5" r="1.0" fill="#3b4146" opacity="0.8"/>
<circle cx="939.2" cy="1726.4" r="0.7" fill="#3b4146" opacity="0.8"/>
<circle cx="923.0" cy="1688.6" r="0.6" fill="#3b4146" opacity="0.8"/>
<circle cx="921.8" cy="1750.6" r="0.8" fill="#3b4146" opacity="0.8"/>
<circle cx="909.4" cy="1719.0" r="0.6" fill="#3b4146" opacity="0.8"/>
<circle cx="946.4" cy="1717.3" r="1.0" fill="#3b4146" opacity="0.8"/>
<circle cx="921.5" cy="1750.5" r="0.6" fill="#3b4146" opacity="0.8"/>
<circle cx="980.2" cy="1732.9" r="0.5" fill="#3b4146" opacity="0.8"/>
<circle cx="965.9" cy="1703.8" r="0.7" fill="#3b4146" opacity="0.8"/>
<line x1="932.8" y1="1722.0" x2="946.9" y2="1753.1" stroke="#3b4146" stroke-width="1.8"/>
<ellipse cx="830.1" cy="1829.4" rx="3.2" ry="5.3" transform="rotate(17 830.1 1829.4)" fill="#3b4146"/>
<ellipse cx="831.3" cy="1827.1" rx="1.5" ry="2.6" transform="rotate(138 831.3 1827.1)" fill="#3b4146"/>
<ellipse cx="809.4" cy="1840.8" rx="1.4" ry="2.8" transform="rotate(133 809.4 1840.8)" fill="#3b4146"/>
<ellipse cx="806.6" cy="1841.4" rx="1.8" ry="2.0" transform="rotate(137 806.6 1841.4)" fill="#555c61"/>
<ellipse cx="834.2" cy="1828.5" rx="1.8" ry="2.5" transform="rotate(161 834.2 1828.5)" fill="#3b4146"/>
<ellipse cx="838.7" cy="1829.3" rx="1.8" ry="2.0" transform="rotate(17 838.7 1829.3)" fill="#555c61"/>
<ellipse cx="827.7" cy="1827.7" rx="3.2" ry="4.0" transform="rotate(134 827.7 1827.7)" fill="#555c61"/>
<ellipse cx="849.3" cy="1824.1" rx="1.4" ry="1.6" transform="rotate(26 849.3 1824.1)" fill="#3b4146"/>
<ellipse cx="816.0" cy="1834.8" rx="1.5" ry="2.9" transform="rotate(138 816.0 1834.8)" fill="#3b4146"/>
<ellipse cx="805.5" cy="1828.1" rx="1.7" ry="2.1" transform="rotate(116 805.5 1828.1)" fill="#3b4146"/>
<ellipse cx="821.4" cy="1820.8" rx="2.0" ry="3.7" transform="rotate(45 821.4 1820.8)" fill="#3b4146"/>
<ellipse cx="836.2" cy="1844.4" rx="2.3" ry="4.4" transform="rotate(45 836.2 1844.4)" fill="#3b4146"/>
<ellipse cx="822.7" cy="1841.2" rx="1.8" ry="3.2" transform="rotate(7 822.7 1841.2)" fill="#3b4146"/>
<ellipse cx="835.5" cy="1832.7" rx="2.6" ry="4.0" transform="rotate(104 835.5 1832.7)" fill="#555c61"/>
<ellipse cx="825.5" cy="1836.3" rx="1.8" ry="2.4" transform="rotate(163 825.5 1836.3)" fill="#3b4146"/>
<ellipse cx="832.5" cy="1828.5" rx="2.5" ry="3.1" transform="rotate(98 832.5 1828.5)" fill="#3b4146"/>
<ellipse cx="825.9" cy="1820.3" rx="3.0" ry="4.2" transform="rotate(137 825.9 1820.3)" fill="#3b4146"/>
<ellipse cx="827.6" cy="1839.9" rx="2.6" ry="2.7" transform="rotate(83 827.6 1839.9)" fill="#3b4146"/>
<ellipse cx="835.4" cy="1834.9" rx="2.3" ry="2.7" transform="rotate(80 835.4 1834.9)" fill="#555c61"/>
<ellipse cx="840.9" cy="1851.6" rx="1.3" ry="1.4" transform="rotate(168 840.9 1851.6)" fill="#555c61"/>
<ellipse cx="829.9" cy="1832.6" rx="3.0" ry="3.3" transform="rotate(33 829.9 1832.6)" fill="#3b4146"/>
<ellipse cx="833.3" cy="1835.6" rx="2.2" ry="4.0" transform="rotate(89 833.3 1835.6)" fill="#3b4146"/>
<ellipse cx="830.9" cy="1832.6" rx="2.1" ry="3.0" transform="rotate(178 830.9 1832.6)" fill="#3b4146"/>
<ellipse cx="840.7" cy="1819.8" rx="2.9" ry="3.4" transform="rotate(28 840.7 1819.8)" fill="#3b4146"/>
<ellipse cx="837.3" cy="1839.5" rx="2.9" ry="4.8" transform="rotate(45 837.3 1839.5)" fill="#3b4146"/>
<ellipse cx="830.3" cy="1834.7" rx="2.7" ry="5.2" transform="rotate(43 830.3 1834.7)" fill="#3b4146"/>
<circle cx="814.3" cy="1803.0" r="0.6" fill="#3b4146" opacity="0.8"/>
<circle cx="866.0" cy="1837.4" r="0.8" fill="#3b4146" opacity="0.8"/>
<circle cx="819.4" cy="1850.8" r="0.9" fill="#3b4146" opacity="0.8"/>
<circle cx="805.9" cy="1801.9" r="0.6" fill="#3b4146" opacity="0.8"/>
<circle cx="854.1" cy="1849.0" r="0.6" fill="#3b4146" opacity="0.8"/>
<circle cx="811.6" cy="1819.8" r="0.9" fill="#3b4146" opacity="0.8"/>
<circle cx="849.1" cy="1815.0" r="0.7" fill="#3b4146" opacity="0.8"/>
<circle cx="811.9" cy="1863.6" r="0.8" fill="#3b4146" opacity="0.8"/>
<circle cx="863.0" cy="1815.3" r="0.9" fill="#3b4146" opacity="0.8"/>
<circle cx="836.0" cy="1862.6" r="0.7" fill="#3b4146" opacity="0.8"/>
<line x1="825.4" y1="1833.0" x2="837.6" y2="1876.2" stroke="#3b4146" stroke-width="1.6"/>
<ellipse cx="967.3" cy="1939.7" rx="1.6" ry="2.7" transform="rotate(8 967.3 1939.7)" fill="#555c61"/>
<ellipse cx="986.7" cy="1920.8" rx="1.7" ry="2.4" transform="rotate(106 986.7 1920.8)" fill="#3b4146"/>
<ellipse cx="983.9" cy="1930.7" rx="2.2" ry="3.6" transform="rotate(148 983.9 1930.7)" fill="#3b4146"/>
<ellipse cx="985.9" cy="1944.6" rx="1.9" ry="2.1" transform="rotate(175 985.9 1944.6)" fill="#3b4146"/>
<ellipse cx="972.3" cy="1913.4" rx="2.0" ry="2.4" transform="rotate(83 972.3 1913.4)" fill="#3b4146"/>
<ellipse cx="985.5" cy="1928.3" rx="2.3" ry="2.6" transform="rotate(158 985.5 1928.3)" fill="#3b4146"/>
<ellipse cx="986.9" cy="1926.9" rx="1.6" ry="2.6" transform="rotate(78 986.9 1926.9)" fill="#3b4146"/>
<ellipse cx="963.6" cy="1924.8" rx="2.2" ry="2.3" transform="rotate(147 963.6 1924.8)" fill="#3b4146"/>
<ellipse cx="977.1" cy="1936.5" rx="2.8" ry="4.1" transform="rotate(86 977.1 1936.5)" fill="#3b4146"/>
<ellipse cx="979.5" cy="1927.9" rx="2.4" ry="2.6" transform="rotate(23 979.5 1927.9)" fill="#3b4146"/>
<ellipse cx="985.5" cy="1929.9" rx="2.7" ry="3.1" transform="rotate(171 985.5 1929.9)" fill="#3b4146"/>
<ellipse cx="966.4" cy="1941.6" rx="1.5" ry="2.5" transform="rotate(97 966.4 1941.6)" fill="#3b4146"/>
<ellipse cx="975.5" cy="1925.5" rx="2.1" ry="3.1" transform="rotate(64 975.5 1925.5)" fill="#3b4146"/>
<ellipse cx="989.4" cy="1922.8" rx="1.4" ry="2.0" transform="rotate(145 989.4 1922.8)" fill="#3b4146"/>
<ellipse cx="975.9" cy="1908.2" rx="1.7" ry="2.9" transform="rotate(47 975.9 1908.2)" fill="#3b4146"/>
<ellipse cx="983.0" cy="1928.6" rx="2.8" ry="2.9" transform="rotate(94 983.0 1928.6)" fill="#3b4146"/>
<ellipse cx="981.6" cy="1929.9" rx="3.1" ry="3.3" transform="rotate(74 981.6 1929.9)" fill="#3b4146"/>
<ellipse cx="984.5" cy="1922.4" rx="2.6" ry="3.6" transform="rotate(49 984.5 1922.4)" fill="#3b4146"/>
<ellipse cx="989.1" cy="1933.3" rx="1.6" ry="3.0" transform="rotate(161 989.1 1933.3)" fill="#3b4146"/>
<ellipse cx="982.8" cy="1933.8" rx="1.3" ry="1.8" transform="rotate(30 982.8 1933.8)" fill="#555c61"/>
<ellipse cx="979.4" cy="1922.2" rx="2.6" ry="3.8" transform="rotate(52 979.4 1922.2)" fill="#3b4146"/>
<ellipse cx="984.2" cy="1904.6" rx="1.8" ry="3.3" transform="rotate(50 984.2 1904.6)" fill="#3b4146"/>
<ellipse cx="978.4" cy="1924.3" rx="1.8" ry="3.5" transform="rotate(62 978.4 1924.3)" fill="#3b4146"/>
<ellipse cx="978.9" cy="1924.0" rx="1.3" ry="1.8" transform="rotate(90 978.9 1924.0)" fill="#3b4146"/>
<ellipse cx="976.5" cy="1934.8" rx="2.8" ry="2.9" transform="rotate(9 976.5 1934.8)" fill="#3b4146"/>
<ellipse cx="994.8" cy="1939.1" rx="1.5" ry="2.2" transform="rotate(23 994.8 1939.1)" fill="#3b4146"/>
<circle cx="1001.2" cy="1937.8" r="0.9" fill="#3b4146" opacity="0.8"/>
<circle cx="1002.3" cy="1908.9" r="1.0" fill="#3b4146" opacity="0.8"/>
<circle cx="1007.0" cy="1957.2" r="0.5" fill="#3b4146" opacity="0.8"/>
<circle cx="999.6" cy="1963.3" r="0.6" fill="#3b4146" opacity="0.8"/>
<circle cx="1000.5" cy="1949.6" r="0.5" fill="#3b4146" opacity="0.8"/>
<circle cx="991.2" cy="1945.1" r="0.9" fill="#3b4146" opacity="0.8"/>
<circle cx="953.0" cy="1962.1" r="0.5" fill="#3b4146" opacity="0.8"/>
<circle cx="954.6" cy="1960.3" r="0.8" fill="#3b4146" opacity="0.8"/>
<circle cx="960.1" cy="1915.5" r="0.9" fill="#3b4146" opacity="0.8"/>
<circle cx="965.4" cy="1957.7" r="0.9" fill="#3b4146" opacity="0.8"/>
<line x1="977.1" y1="1924.0" x2="980.4" y2="1955.7" stroke="#3b4146" stroke-width="2.0"/>
<ellipse cx="874.0" cy="2070.7" rx="2.4" ry="4.3" transform="rotate(138 874.0 2070.7)" fill="#3b4146"/>
<ellipse cx="878.8" cy="2075.0" rx="2.6" ry="4.2" transform="rotate(172 878.8 2075.0)" fill="#3b4146"/>
<ellipse cx="886.4" cy="2071.4" rx="2.8" ry="2.9" transform="rotate(169 886.4 2071.4)" fill="#555c61"/>
<ellipse cx="875.4" cy="2085.0" rx="1.5" ry="2.7" transform="rotate(172 875.4 2085.0)" fill="#3b4146"/>
<ellipse cx="873.4" cy="2074.0" rx="3.1" ry="4.8" transform="rotate(22 873.4 2074.0)" fill="#3b4146"/>
<ellipse cx="875.6" cy="2073.7" rx="1.2" ry="1.9" transform="rotate(147 875.6 2073.7)" fill="#3b4146"/>
<ellipse cx="881.8" cy="2056.8" rx="1.6" ry="2.0" transform="rotate(169 881.8 2056.8)" fill="#555c61"/>
<ellipse cx="868.9" cy="2080.0" rx="2.1" ry="2.2" transform="rotate(13 868.9 2080.0)" fill="#3b4146"/>
<ellipse cx="873.5" cy="2072.8" rx="2.0" ry="3.6" transform="rotate(178 873.5 2072.8)" fill="#3b4146"/>
<ellipse cx="875.9" cy="2074.9" rx="2.3" ry="4.1" transform="rotate(170 875.9 2074.9)" fill="#3b4146"/>
<ellipse cx="873.5" cy="2070.2" rx="1.4" ry="1.5" transform="rotate(24 873.5 2070.2)" fill="#3b4146"/>
<ellipse cx="875.0" cy="2072.6" rx="1.9" ry="3.3" transform="rotate(140 875.0 2072.6)" fill="#555c61"/>
<ellipse cx="875.9" cy="2071.2" rx="2.1" ry="2.2" transform="rotate(8 875.9 2071.2)" fill="#3b4146"/>
<ellipse cx="867.9" cy="2068.8" rx="2.2" ry="3.6" transform="rotate(147 867.9 2068.8)" fill="#555c61"/>
<ellipse cx="861.9" cy="2075.8" rx="1.3" ry="1.8" transform="rotate(53 861.9 2075.8)" fill="#3b4146"/>
<ellipse cx="867.8" cy="2077.6" rx="1.3" ry="1.5" transform="rotate(110 867.8 2077.6)" fill="#3b4146"/>
<ellipse cx="885.2" cy="2076.6" rx="2.0" ry="4.0" transform="rotate(88 885.2 2076.6)" fill="#3b4146"/>
<ellipse cx="875.4" cy="2072.1" rx="2.5" ry="3.5" transform="rotate(18 875.4 2072.1)" fill="#3b4146"/>
<ellipse cx="879.9" cy="2071.0" rx="1.5" ry="3.0" transform="rotate(72 879.9 2071.0)" fill="#3b4146"/>
<ellipse cx="874.8" cy="2069.5" rx="2.6" ry="4.3" transform="rotate(132 874.8 2069.5)" fill="#3b4146"/>
<ellipse cx="877.7" cy="2070.3" rx="1.7" ry="2.2" transform="rotate(78 877.7 2070.3)" fill="#3b4146"/>
<ellipse cx="874.2" cy="2074.7" rx="2.2" ry="4.2" transform="rotate(129 874.2 2074.7)" fill="#3b4146"/>
<ellipse cx="876.4" cy="2075.7" rx="1.5" ry="1.5" transform="rotate(112 876.4 2075.7)" fill="#3b4146"/>
<ellipse cx="868.7" cy="2055.6" rx="2.3" ry="4.4" transform="rotate(177 868.7 2055.6)" fill="#3b4146"/>
<ellipse cx="877.6" cy="2074.9" rx="2.7" ry="3.1" transform="rotate(11 877.6 2074.9)" fill="#3b4146"/>
<ellipse cx="874.4" cy="2073.1" rx="1.7" ry="2.6" transform="rotate(148 874.4 2073.1)" fill="#3b4146"/>
<circle cx="884.5" cy="2060.2" r="0.7" fill="#3b4146" opacity="0.8"/>
<circle cx="887.3" cy="2056.6" r="0.9" fill="#3b4146" opacity="0.8"/>
<circle cx="896.4" cy="2078.8" r="0.8" fill="#3b4146" opacity="0.8"/>
<circle cx="852.5" cy="2055.7" r="1.1" fill="#3b4146" opacity="0.8"/>
<circle cx="852.9" cy="2040.5" r="0.9" fill="#3b4146" opacity="0.8"/>
<circle cx="864.8" cy="2080.2" r="0.6" fill="#3b4146" opacity="0.8"/>
<circle cx="860.7" cy="2054.9" r="0.9" fill="#3b4146" opacity="0.8"/>
<circle cx="883.2" cy="2038.6" r="0.9" fill="#3b4146" opacity="0.8"/>
<circle cx="886.5" cy="2070.7" r="0.6" fill="#3b4146" opacity="0.8"/>
<circle cx="850.8" cy="2107.9" r="0.6" fill="#3b4146" opacity="0.8"/>
<line x1="867.2" y1="2073.0" x2="866.2" y2="2117.9" stroke="#3b4146" stroke-width="2.0"/>
<ellipse cx="994.3" cy="2164.5" rx="1.6" ry="2.9" transform="rotate(60 994.3 2164.5)" fill="#3b4146"/>
<ellipse cx="983.0" cy="2191.8" rx="2.8" ry="5.4" transform="rotate(88 983.0 2191.8)" fill="#3b4146"/>
<ellipse cx="1009.6" cy="2178.1" rx="1.4" ry="2.4" transform="rotate(133 1009.6 2178.1)" fill="#555c61"/>
<ellipse cx="995.3" cy="2165.3" rx="3.2" ry="6.3" transform="rotate(116 995.3 2165.3)" fill="#3b4146"/>
<ellipse cx="998.9" cy="2180.5" rx="2.5" ry="3.8" transform="rotate(18 998.9 2180.5)" fill="#3b4146"/>
<ellipse cx="994.3" cy="2176.6" rx="1.8" ry="3.5" transform="rotate(140 994.3 2176.6)" fill="#3b4146"/>
<ellipse cx="991.3" cy="2170.2" rx="1.7" ry="2.0" transform="rotate(174 991.3 2170.2)" fill="#555c61"/>
<ellipse cx="1013.2" cy="2173.6" rx="2.8" ry="4.3" transform="rotate(75 1013.2 2173.6)" fill="#3b4146"/>
<ellipse cx="992.7" cy="2191.7" rx="1.9" ry="3.4" transform="rotate(32 992.7 2191.7)" fill="#3b4146"/>
<ellipse cx="994.5" cy="2178.8" rx="2.2" ry="2.6" transform="rotate(138 994.5 2178.8)" fill="#3b4146"/>
<ellipse cx="991.1" cy="2172.6" rx="1.3" ry="1.5" transform="rotate(46 991.1 2172.6)" fill="#3b4146"/>
<ellipse cx="994.2" cy="2169.9" rx="2.6" ry="3.8" transform="rotate(92 994.2 2169.9)" fill="#3b4146"/>
<ellipse cx="993.8" cy="2168.3" rx="2.7" ry="5.2" transform="rotate(123 993.8 2168.3)" fill="#3b4146"/>
<ellipse cx="1003.0" cy="2172.1" rx="1.3" ry="1.7" transform="rotate(111 1003.0 2172.1)" fill="#3b4146"/>
<ellipse cx="1007.1" cy="2178.7" rx="2.1" ry="4.0" transform="rotate(152 1007.1 2178.7)" fill="#3b4146"/>
<ellipse cx="998.8" cy="2167.2" rx="2.4" ry="2.9" transform="rotate(151 998.8 2167.2)" fill="#3b4146"/>
<ellipse cx="991.4" cy="2188.7" rx="1.9" ry="2.2" transform="rotate(153 991.4 2188.7)" fill="#555c61"/>
<ellipse cx="995.1" cy="2188.4" rx="1.5" ry="2.7" transform="rotate(18 995.1 2188.4)" fill="#3b4146"/>
<ellipse cx="997.7" cy="2170.9" rx="2.2" ry="3.2" transform="rotate(150 997.7 2170.9)" fill="#3b4146"/>
<ellipse cx="997.1" cy="2172.9" rx="1.8" ry="3.3" transform="rotate(27 997.1 2172.9)" fill="#3b4146"/>
<ellipse cx="995.6" cy="2153.5" rx="3.0" ry="4.8" transform="rotate(109 995.6 2153.5)" fill="#3b4146"/>
<ellipse cx="999.4" cy="2172.2" rx="2.1" ry="2.3" transform="rotate(72 999.4 2172.2)" fill="#3b4146"/>
<ellipse cx="1003.7" cy="2175.4" rx="2.3" ry="2.3" transform="rotate(169 1003.7 2175.4)" fill="#3b4146"/>
<ellipse cx="1001.6" cy="2170.3" rx="2.4" ry="4.4" transform="rotate(108 1001.6 2170.3)" fill="#3b4146"/>
<ellipse cx="1000.1" cy="2179.4" rx="2.3" ry="4.1" transform="rotate(66 1000.1 2179.4)" fill="#3b4146"/>
<ellipse cx="997.0" cy="2169.3" rx="1.6" ry="1.9" transform="rotate(63 997.0 2169.3)" fill="#3b4146"/>
<circle cx="1000.4" cy="2189.4" r="1.0" fill="#3b4146" opacity="0.8"/>
<circle cx="1028.8" cy="2169.7" r="0.5" fill="#3b4146" opacity="0.8"/>
<circle cx="1005.1" cy="2178.3" r="0.9" fill="#3b4146" opacity="0.8"/>
<circle cx="969.9" cy="2194.8" r="0.6" fill="#3b4146" opacity="0.8"/>
<circle cx="1020.4" cy="2209.0" r="0.8" fill="#3b4146" opacity="0.8"/>
<circle cx="995.6" cy="2184.2" r="0.6" fill="#3b4146" opacity="0.8"/>
<circle cx="1009.2" cy="2198.9" r="1.1" fill="#3b4146" opacity="0.8"/>
<circle cx="1012.0" cy="2188.8" r="1.1" fill="#3b4146" opacity="0.8"/>
<circle cx="991.4" cy="2159.4" r="1.1" fill="#3b4146" opacity="0.8"/>
<circle cx="970.9" cy="2160.1" r="0.9" fill="#3b4146" opacity="0.8"/>
<line x1="1007.1" y1="2172.0" x2="1017.7" y2="2203.6" stroke="#3b4146" stroke-width="1.8"/>
<line x1="322" y1="1547" x2="326" y2="1600" stroke="#3b4146" stroke-width="1.8" stroke-dasharray="4,2"/>
<line x1="333" y1="1580" x2="337" y2="1669" stroke="#3b4146" stroke-width="1.8" stroke-dasharray="4,2"/>
<line x1="411" y1="1714" x2="413" y2="1749" stroke="#3b4146" stroke-width="1.8" stroke-dasharray="4,2"/>
<line x1="216" y1="1827" x2="222" y2="1882" stroke="#3b4146" stroke-width="1.8" stroke-dasharray="4,2"/>
<line x1="329" y1="1907" x2="335" y2="1968" stroke="#3b4146" stroke-width="1.8" stroke-dasharray="4,2"/>
<line x1="420" y1="1959" x2="411" y2="2005" stroke="#3b4146" stroke-width="1.8" stroke-dasharray="4,2"/>
<line x1="203" y1="1522" x2="210" y2="1553" stroke="#3b4146" stroke-width="1.8" stroke-dasharray="4,2"/>
<line x1="497" y1="1577" x2="503" y2="1601" stroke="#3b4146" stroke-width="1.8" stroke-dasharray="4,2"/>
<line x1="613" y1="1632" x2="640" y2="1748" stroke="#3b4146" stroke-width="1.8" stroke-dasharray="4,2"/>
<line x1="506" y1="2026" x2="515" y2="2053" stroke="#3b4146" stroke-width="1.8" stroke-dasharray="4,2"/>
<line x1="637" y1="2108" x2="649" y2="2188" stroke="#3b4146" stroke-width="1.8" stroke-dasharray="4,2"/>
<line x1="658" y1="2035" x2="671" y2="2066" stroke="#3b4146" stroke-width="1.8" stroke-dasharray="4,2"/>
<line x1="506" y1="1870" x2="515" y2="1901" stroke="#3b4146" stroke-width="1.8" stroke-dasharray="4,2"/>
<line x1="622" y1="1815" x2="628" y2="1858" stroke="#3b4146" stroke-width="1.8" stroke-dasharray="4,2"/>
<line x1="620" y1="1850" x2="624" y2="1880" stroke="#3b4146" stroke-width="1.8" stroke-dasharray="4,2"/>
<line x1="878" y1="1699" x2="881" y2="1721" stroke="#3b4146" stroke-width="1.8" stroke-dasharray="4,2"/>
<line x1="894" y1="1629" x2="900" y2="1653" stroke="#3b4146" stroke-width="1.8" stroke-dasharray="4,2"/>
<line x1="927" y1="1626" x2="933" y2="1687" stroke="#3b4146" stroke-width="1.8" stroke-dasharray="4,2"/>
<line x1="884" y1="1760" x2="890" y2="1797" stroke="#3b4146" stroke-width="1.8" stroke-dasharray="4,2"/>
<line x1="900" y1="1797" x2="906" y2="1827" stroke="#3b4146" stroke-width="1.8" stroke-dasharray="4,2"/>
<line x1="909" y1="1864" x2="915" y2="1889" stroke="#3b4146" stroke-width="1.8" stroke-dasharray="4,2"/>
<line x1="817" y1="1901" x2="826" y2="1944" stroke="#3b4146" stroke-width="1.8" stroke-dasharray="4,2"/>
<line x1="1004" y1="1840" x2="1010" y2="1882" stroke="#3b4146" stroke-width="1.8" stroke-dasharray="4,2"/>
<line x1="927" y1="1974" x2="939" y2="2011" stroke="#3b4146" stroke-width="1.8" stroke-dasharray="4,2"/>
<line x1="958" y1="2041" x2="976" y2="2053" stroke="#3b4146" stroke-width="1.8" stroke-dasharray="4,2"/>
<line x1="970" y1="2066" x2="982" y2="2090" stroke="#3b4146" stroke-width="1.8" stroke-dasharray="4,2"/>
<line x1="1013" y1="2096" x2="1025" y2="2151" stroke="#3b4146" stroke-width="1.8" stroke-dasharray="4,2"/>
<line x1="958" y1="2133" x2="964" y2="2163" stroke="#3b4146" stroke-width="1.8" stroke-dasharray="4,2"/>
<line x1="814" y1="1528" x2="820" y2="1553" stroke="#3b4146" stroke-width="1.8" stroke-dasharray="4,2"/>
<rect x="162.7" y="1472" width="915.6" height="762.3" fill="none" stroke="#000" stroke-width="6.5"/>
<rect x="174.2" y="1482.5" width="292.3" height="737.7" fill="none" stroke="#000" stroke-width="4.4"/>
<rect x="479.7" y="1483.0" width="291.1" height="738.8" fill="none" stroke="#000" stroke-width="4.4"/>
<rect x="782.4" y="1483.0" width="284.2" height="738.8" fill="none" stroke="#000" stroke-width="4.4"/>
<line x1="207.3" y1="1590.3" x2="283" y2="1590.3" stroke="#000" stroke-width="4"/>
<line x1="207" y1="1882" x2="282" y2="1882" stroke="#000" stroke-width="4"/>
<line x1="230.2" y1="1590.3" x2="230.2" y2="1882" stroke="#000" stroke-width="3.5" stroke-dasharray="8,4"/>
<line x1="545.6" y1="1757.6" x2="621" y2="1757.6" stroke="#000" stroke-width="4"/>
<line x1="542" y1="1881" x2="617.4" y2="1881" stroke="#000" stroke-width="4"/>
<line x1="568.5" y1="1757.6" x2="568.5" y2="1881" stroke="#000" stroke-width="3.5" stroke-dasharray="8,4"/>
<line x1="793.3" y1="1592.8" x2="868.9" y2="1592.8" stroke="#000" stroke-width="4"/>
<line x1="793" y1="1807.7" x2="868" y2="1807.7" stroke="#000" stroke-width="4"/>
<line x1="816.3" y1="1592.8" x2="816.3" y2="1807.7" stroke="#000" stroke-width="3.5" stroke-dasharray="8,4"/>
<line x1="354.6" y1="2040" x2="354.6" y2="2089.6" stroke="#000" stroke-width="4"/>
<line x1="392.3" y1="2040" x2="392.3" y2="2089.6" stroke="#000" stroke-width="4"/>
<line x1="557.9" y1="2005.7" x2="557.9" y2="2056.8" stroke="#000" stroke-width="4"/>
<line x1="624.5" y1="2009" x2="624.5" y2="2058.6" stroke="#000" stroke-width="4"/>
<line x1="854.6" y1="2037" x2="854.6" y2="2086" stroke="#000" stroke-width="4"/>
<line x1="895.2" y1="2037" x2="895.2" y2="2086" stroke="#000" stroke-width="4"/>
<text transform="translate(196.25,1529.15) scale(0.9361,1)" font-size="43.56" font-weight="bold" fill="#000" >NTg</text>
<text transform="translate(490.67,1535.30) scale(0.9489,1)" font-size="45.94" font-weight="bold" fill="#000" >HD</text>
<text transform="translate(795.06,1529.24) scale(0.9568,1)" font-size="44.11" font-weight="bold" fill="#000" >HD+Asp</text>
<text transform="translate(219.35,1797.20) rotate(-90) scale(1.0105,1)" font-size="26.42" font-weight="bold" fill="#000" >SL (7.9cm)</text>
<text transform="translate(521.31,1833.51) rotate(-90) scale(0.9367,1)" font-size="28.73" font-weight="bold" fill="#000" >SL</text>
<text transform="translate(552.22,1871.75) rotate(-90) scale(1.0703,1)" font-size="25.13" font-weight="bold" fill="#000" >(4.1cm)</text>
<text transform="translate(806.08,1765.30) rotate(-90) scale(1.0459,1)" font-size="25.35" font-weight="bold" fill="#000" >SL (6.3cm)</text>
<text transform="translate(358.54,2002.64) scale(0.9999,1)" font-size="25.77" font-weight="bold" fill="#000" >TS</text>
<text transform="translate(326.45,2035.05) scale(0.9530,1)" font-size="28.34" font-weight="bold" fill="#000" >(0.4 cm)</text>
<text transform="translate(579.44,1968.43) scale(0.9432,1)" font-size="27.32" font-weight="bold" fill="#000" >TS</text>
<text transform="translate(547.65,2001.16) scale(0.9714,1)" font-size="27.81" font-weight="bold" fill="#000" >(0.8 cm)</text>
<text transform="translate(862.95,1999.14) scale(0.9457,1)" font-size="26.48" font-weight="bold" fill="#000" >TS</text>
<text transform="translate(830.66,2029.94) scale(0.9269,1)" font-size="28.88" font-weight="bold" fill="#000" >(0.5 cm)</text>
<text transform="translate(82.14,1494.50) scale(1.0105,1)" font-size="50.00" font-weight="bold" fill="#000" >J</text>
<rect x="525.8" y="2261" width="32.5" height="35.2" fill="#000" stroke="#2f528f" stroke-width="2.6"/>
<rect x="704.3" y="2260" width="34.9" height="37.5" fill="#ff0000"/>
<rect x="867" y="2260" width="35.3" height="37.5" fill="#7030a0"/>
<text transform="translate(579.92,2291.73) scale(1.0305,1)" font-size="35.56" font-weight="bold" fill="#000" >NTg</text>
<text transform="translate(765.13,2291.80) scale(0.9791,1)" font-size="35.65" font-weight="bold" fill="#000" >HD</text>
<text transform="translate(925.60,2291.45) scale(1.0231,1)" font-size="34.65" font-weight="bold" fill="#000" >HD + ASP</text>
</svg></body></html>
